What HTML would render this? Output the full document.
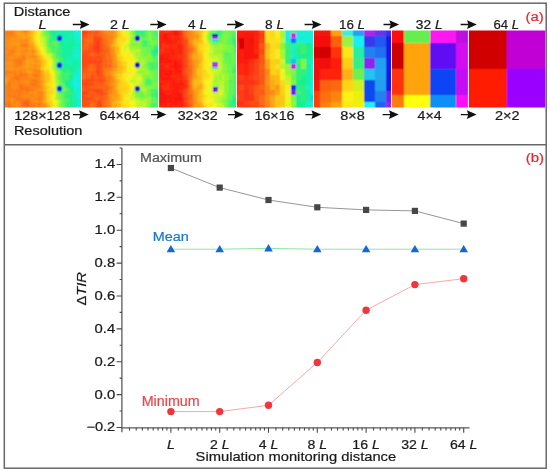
<!DOCTYPE html>
<html><head><meta charset="utf-8"><title>Figure</title>
<style>
html,body{margin:0;padding:0;background:#fff;width:550px;height:471px;overflow:hidden}
svg{display:block}
text{font-family:"Liberation Sans",sans-serif;stroke-width:0.22px}
</style></head>
<body>
<svg width="550" height="471" viewBox="0 0 550 471">
<rect width="550" height="471" fill="#fff"/>
<defs><filter id="bl" x="-5%" y="-5%" width="110%" height="110%"><feConvolveMatrix order="3" kernelMatrix="1 2 1 2 4 2 1 2 1" divisor="16" preserveAlpha="true"/></filter><clipPath id="c0"><rect x="4.9" y="30.6" width="76.1" height="76.8"/></clipPath><clipPath id="c1"><rect x="81.9" y="30.6" width="76.3" height="76.8"/></clipPath><clipPath id="c2"><rect x="159.1" y="30.6" width="76.9" height="76.8"/></clipPath><clipPath id="c3"><rect x="236.9" y="30.6" width="76.1" height="76.8"/></clipPath><clipPath id="c4"><rect x="313.9" y="30.6" width="77.1" height="76.8"/></clipPath><clipPath id="c5"><rect x="391.9" y="30.6" width="76" height="76.8"/></clipPath><clipPath id="c6"><rect x="468.9" y="30.6" width="76.4" height="76.8"/></clipPath></defs>
<g clip-path="url(#c0)"><g filter="url(#bl)"><g shape-rendering="crispEdges"><path fill="#fc9018" d="M2 27.8H3.5V29.3H2zM8 27.8H9.5V29.3H8zM26 27.8H27.5V29.3H26zM2 29.3H3.5V30.8H2zM3.5 29.3H5V30.8H3.5zM6.5 29.3H8V30.8H6.5zM8 29.3H9.5V30.8H8zM14 29.3H15.5V30.8H14zM5 30.8H6.5V32.3H5zM14 30.8H15.5V32.3H14zM21.5 30.8H23V32.3H21.5zM14 32.3H15.5V33.8H14zM23 32.3H24.5V33.8H23zM24.5 32.3H26V33.8H24.5zM26 32.3H27.5V33.8H26zM15.5 33.8H17V35.3H15.5zM14 35.3H15.5V36.8H14zM17 35.3H18.5V36.8H17zM11 36.8H12.5V38.3H11zM12.5 36.8H14V38.3H12.5zM14 36.8H15.5V38.3H14zM15.5 36.8H17V38.3H15.5zM3.5 38.3H5V39.8H3.5zM8 38.3H9.5V39.8H8zM9.5 38.3H11V39.8H9.5zM11 38.3H12.5V39.8H11zM14 38.3H15.5V39.8H14zM17 38.3H18.5V39.8H17zM18.5 38.3H20V39.8H18.5zM20 38.3H21.5V39.8H20zM24.5 38.3H26V39.8H24.5zM26 38.3H27.5V39.8H26zM5 39.8H6.5V41.3H5zM8 39.8H9.5V41.3H8zM9.5 39.8H11V41.3H9.5zM11 39.8H12.5V41.3H11zM14 39.8H15.5V41.3H14zM15.5 39.8H17V41.3H15.5zM18.5 39.8H20V41.3H18.5zM20 39.8H21.5V41.3H20zM21.5 39.8H23V41.3H21.5zM23 39.8H24.5V41.3H23zM5 41.3H6.5V42.8H5zM8 41.3H9.5V42.8H8zM9.5 41.3H11V42.8H9.5zM12.5 41.3H14V42.8H12.5zM18.5 41.3H20V42.8H18.5zM20 41.3H21.5V42.8H20zM23 41.3H24.5V42.8H23zM26 41.3H27.5V42.8H26zM8 42.8H9.5V44.3H8zM9.5 42.8H11V44.3H9.5zM20 42.8H21.5V44.3H20zM21.5 42.8H23V44.3H21.5zM23 42.8H24.5V44.3H23zM26 42.8H27.5V44.3H26zM5 44.3H6.5V45.8H5zM6.5 44.3H8V45.8H6.5zM8 44.3H9.5V45.8H8zM9.5 44.3H11V45.8H9.5zM12.5 44.3H14V45.8H12.5zM18.5 44.3H20V45.8H18.5zM27.5 44.3H29V45.8H27.5zM6.5 45.8H8V47.3H6.5zM8 45.8H9.5V47.3H8zM9.5 45.8H11V47.3H9.5zM11 45.8H12.5V47.3H11zM27.5 45.8H29V47.3H27.5zM6.5 47.3H8V48.8H6.5zM8 47.3H9.5V48.8H8zM11 47.3H12.5V48.8H11zM15.5 47.3H17V48.8H15.5zM20 47.3H21.5V48.8H20zM23 47.3H24.5V48.8H23zM24.5 47.3H26V48.8H24.5zM26 47.3H27.5V48.8H26zM20 48.8H21.5V50.3H20zM23 48.8H24.5V50.3H23zM24.5 48.8H26V50.3H24.5zM3.5 50.3H5V51.8H3.5zM5 50.3H6.5V51.8H5zM15.5 50.3H17V51.8H15.5zM20 50.3H21.5V51.8H20zM30.5 50.3H32V51.8H30.5zM3.5 51.8H5V53.3H3.5zM5 51.8H6.5V53.3H5zM18.5 51.8H20V53.3H18.5zM23 51.8H24.5V53.3H23zM24.5 51.8H26V53.3H24.5zM26 51.8H27.5V53.3H26zM30.5 51.8H32V53.3H30.5zM32 51.8H33.5V53.3H32zM23 53.3H24.5V54.8H23zM24.5 53.3H26V54.8H24.5zM30.5 53.3H32V54.8H30.5zM32 53.3H33.5V54.8H32zM2 54.8H3.5V56.3H2zM3.5 54.8H5V56.3H3.5zM15.5 54.8H17V56.3H15.5zM17 54.8H18.5V56.3H17zM18.5 54.8H20V56.3H18.5zM26 54.8H27.5V56.3H26zM29 54.8H30.5V56.3H29zM33.5 54.8H35V56.3H33.5zM11 56.3H12.5V57.8H11zM12.5 56.3H14V57.8H12.5zM14 56.3H15.5V57.8H14zM17 56.3H18.5V57.8H17zM29 56.3H30.5V57.8H29zM30.5 56.3H32V57.8H30.5zM35 56.3H36.5V57.8H35zM8 57.8H9.5V59.3H8zM9.5 57.8H11V59.3H9.5zM11 57.8H12.5V59.3H11zM24.5 59.3H26V60.8H24.5zM33.5 59.3H35V60.8H33.5zM35 59.3H36.5V60.8H35zM8 60.8H9.5V62.3H8zM9.5 60.8H11V62.3H9.5zM33.5 60.8H35V62.3H33.5zM36.5 60.8H38V62.3H36.5zM3.5 62.3H5V63.8H3.5zM5 62.3H6.5V63.8H5zM6.5 62.3H8V63.8H6.5zM11 62.3H12.5V63.8H11zM3.5 63.8H5V65.3H3.5zM5 63.8H6.5V65.3H5zM12.5 63.8H14V65.3H12.5zM23 63.8H24.5V65.3H23zM24.5 63.8H26V65.3H24.5zM35 63.8H36.5V65.3H35zM5 65.3H6.5V66.8H5zM6.5 65.3H8V66.8H6.5zM11 65.3H12.5V66.8H11zM12.5 65.3H14V66.8H12.5zM21.5 65.3H23V66.8H21.5zM38 65.3H39.5V66.8H38zM6.5 66.8H8V68.3H6.5zM9.5 66.8H11V68.3H9.5zM12.5 66.8H14V68.3H12.5zM18.5 66.8H20V68.3H18.5zM20 66.8H21.5V68.3H20zM33.5 66.8H35V68.3H33.5zM3.5 68.3H5V69.8H3.5zM5 68.3H6.5V69.8H5zM8 68.3H9.5V69.8H8zM18.5 68.3H20V69.8H18.5zM27.5 68.3H29V69.8H27.5zM29 68.3H30.5V69.8H29zM32 68.3H33.5V69.8H32zM35 68.3H36.5V69.8H35zM11 69.8H12.5V71.3H11zM12.5 69.8H14V71.3H12.5zM15.5 69.8H17V71.3H15.5zM17 69.8H18.5V71.3H17zM21.5 69.8H23V71.3H21.5zM23 69.8H24.5V71.3H23zM24.5 69.8H26V71.3H24.5zM30.5 69.8H32V71.3H30.5zM21.5 71.3H23V72.8H21.5zM32 71.3H33.5V72.8H32zM39.5 71.3H41V72.8H39.5zM3.5 72.8H5V74.3H3.5zM32 72.8H33.5V74.3H32zM39.5 72.8H41V74.3H39.5zM3.5 74.3H5V75.8H3.5zM9.5 74.3H11V75.8H9.5zM11 74.3H12.5V75.8H11zM39.5 74.3H41V75.8H39.5zM3.5 75.8H5V77.3H3.5zM27.5 75.8H29V77.3H27.5zM29 75.8H30.5V77.3H29zM30.5 75.8H32V77.3H30.5zM39.5 75.8H41V77.3H39.5zM8 77.3H9.5V78.8H8zM33.5 77.3H35V78.8H33.5zM36.5 77.3H38V78.8H36.5zM6.5 78.8H8V80.3H6.5zM24.5 80.3H26V81.8H24.5zM26 80.3H27.5V81.8H26zM27.5 80.3H29V81.8H27.5zM39.5 80.3H41V81.8H39.5zM3.5 81.8H5V83.3H3.5zM26 81.8H27.5V83.3H26zM41 81.8H42.5V83.3H41zM15.5 83.3H17V84.8H15.5zM24.5 83.3H26V84.8H24.5zM39.5 83.3H41V84.8H39.5zM15.5 86.3H17V87.8H15.5zM41 86.3H42.5V87.8H41zM36.5 89.3H38V90.8H36.5zM38 89.3H39.5V90.8H38zM39.5 89.3H41V90.8H39.5zM24.5 90.8H26V92.3H24.5zM33.5 90.8H35V92.3H33.5zM35 90.8H36.5V92.3H35zM29 92.3H30.5V93.8H29zM35 92.3H36.5V93.8H35zM42.5 92.3H44V93.8H42.5zM24.5 93.8H26V95.3H24.5zM33.5 93.8H35V95.3H33.5zM42.5 93.8H44V95.3H42.5zM24.5 95.3H26V96.8H24.5zM33.5 95.3H35V96.8H33.5zM35 95.3H36.5V96.8H35zM42.5 95.3H44V96.8H42.5zM2 96.8H3.5V98.3H2zM3.5 96.8H5V98.3H3.5zM6.5 96.8H8V98.3H6.5zM27.5 96.8H29V98.3H27.5zM29 96.8H30.5V98.3H29zM32 96.8H33.5V98.3H32zM42.5 96.8H44V98.3H42.5zM11 98.3H12.5V99.8H11zM32 98.3H33.5V99.8H32zM32 99.8H33.5V101.3H32zM35 99.8H36.5V101.3H35zM41 99.8H42.5V101.3H41zM36.5 101.3H38V102.8H36.5zM15.5 102.8H17V104.3H15.5zM42.5 102.8H44V104.3H42.5zM15.5 104.3H17V105.8H15.5zM18.5 104.3H20V105.8H18.5zM44 104.3H45.5V105.8H44zM15.5 105.8H17V107.3H15.5zM41 105.8H42.5V107.3H41zM44 105.8H45.5V107.3H44zM5 108.8H6.5V110.3H5zM42.5 108.8H44V110.3H42.5z"/>
<path fill="#fc9618" d="M3.5 27.8H5V29.3H3.5zM6.5 27.8H8V29.3H6.5zM14 27.8H15.5V29.3H14zM5 29.3H6.5V30.8H5zM15.5 29.3H17V30.8H15.5zM20 29.3H21.5V30.8H20zM15.5 30.8H17V32.3H15.5zM15.5 32.3H17V33.8H15.5zM18.5 35.3H20V36.8H18.5zM12.5 38.3H14V39.8H12.5zM21.5 38.3H23V39.8H21.5zM3.5 39.8H5V41.3H3.5zM12.5 39.8H14V41.3H12.5zM27.5 39.8H29V41.3H27.5zM14 41.3H15.5V42.8H14zM17 41.3H18.5V42.8H17zM11 42.8H12.5V44.3H11zM12.5 42.8H14V44.3H12.5zM15.5 42.8H17V44.3H15.5zM18.5 42.8H20V44.3H18.5zM11 44.3H12.5V45.8H11zM14 44.3H15.5V45.8H14zM15.5 44.3H17V45.8H15.5zM29 44.3H30.5V45.8H29zM17 45.8H18.5V47.3H17zM18.5 45.8H20V47.3H18.5zM17 47.3H18.5V48.8H17zM18.5 47.3H20V48.8H18.5zM15.5 48.8H17V50.3H15.5zM17 48.8H18.5V50.3H17zM30.5 48.8H32V50.3H30.5zM32 48.8H33.5V50.3H32zM17 50.3H18.5V51.8H17zM27.5 50.3H29V51.8H27.5zM29 50.3H30.5V51.8H29zM33.5 50.3H35V51.8H33.5zM14 53.3H15.5V54.8H14zM20 53.3H21.5V54.8H20zM26 53.3H27.5V54.8H26zM27.5 54.8H29V56.3H27.5zM9.5 56.3H11V57.8H9.5zM15.5 56.3H17V57.8H15.5zM26 56.3H27.5V57.8H26zM27.5 56.3H29V57.8H27.5zM29 57.8H30.5V59.3H29zM29 59.3H30.5V60.8H29zM32 59.3H33.5V60.8H32zM38 60.8H39.5V62.3H38zM8 62.3H9.5V63.8H8zM9.5 62.3H11V63.8H9.5zM24.5 62.3H26V63.8H24.5zM29 62.3H30.5V63.8H29zM33.5 62.3H35V63.8H33.5zM35 62.3H36.5V63.8H35zM6.5 63.8H8V65.3H6.5zM8 63.8H9.5V65.3H8zM9.5 63.8H11V65.3H9.5zM29 63.8H30.5V65.3H29zM33.5 63.8H35V65.3H33.5zM9.5 65.3H11V66.8H9.5zM23 65.3H24.5V66.8H23zM29 65.3H30.5V66.8H29zM30.5 65.3H32V66.8H30.5zM32 65.3H33.5V66.8H32zM36.5 65.3H38V66.8H36.5zM24.5 66.8H26V68.3H24.5zM6.5 68.3H8V69.8H6.5zM9.5 68.3H11V69.8H9.5zM11 68.3H12.5V69.8H11zM12.5 68.3H14V69.8H12.5zM15.5 68.3H17V69.8H15.5zM17 68.3H18.5V69.8H17zM21.5 68.3H23V69.8H21.5zM26 68.3H27.5V69.8H26zM30.5 68.3H32V69.8H30.5zM36.5 68.3H38V69.8H36.5zM38 68.3H39.5V69.8H38zM26 69.8H27.5V71.3H26zM27.5 69.8H29V71.3H27.5zM29 69.8H30.5V71.3H29zM26 71.3H27.5V72.8H26zM30.5 71.3H32V72.8H30.5zM2 72.8H3.5V74.3H2zM29 72.8H30.5V74.3H29zM2 75.8H3.5V77.3H2zM6.5 77.3H8V78.8H6.5zM2 80.3H3.5V81.8H2zM6.5 80.3H8V81.8H6.5zM41 80.3H42.5V81.8H41zM2 81.8H3.5V83.3H2zM5 81.8H6.5V83.3H5zM24.5 81.8H26V83.3H24.5zM27.5 81.8H29V83.3H27.5zM2 83.3H3.5V84.8H2zM5 83.3H6.5V84.8H5zM14 86.3H15.5V87.8H14zM41 87.8H42.5V89.3H41zM33.5 92.3H35V93.8H33.5zM42.5 98.3H44V99.8H42.5zM11 99.8H12.5V101.3H11zM35 101.3H36.5V102.8H35zM41 101.3H42.5V102.8H41zM45.5 104.3H47V105.8H45.5zM44 108.8H45.5V110.3H44z"/>
<path fill="#fc9c18" d="M5 27.8H6.5V29.3H5zM15.5 27.8H17V29.3H15.5zM18.5 27.8H20V29.3H18.5zM20 27.8H21.5V29.3H20zM27.5 29.3H29V30.8H27.5zM20 30.8H21.5V32.3H20zM27.5 30.8H29V32.3H27.5zM20 32.3H21.5V33.8H20zM21.5 32.3H23V33.8H21.5zM23 33.8H24.5V35.3H23zM24.5 33.8H26V35.3H24.5zM26 33.8H27.5V35.3H26zM20 35.3H21.5V36.8H20zM23 35.3H24.5V36.8H23zM24.5 35.3H26V36.8H24.5zM26 35.3H27.5V36.8H26zM17 36.8H18.5V38.3H17zM18.5 36.8H20V38.3H18.5zM23 38.3H24.5V39.8H23zM27.5 38.3H29V39.8H27.5zM17 39.8H18.5V41.3H17zM11 41.3H12.5V42.8H11zM27.5 41.3H29V42.8H27.5zM14 42.8H15.5V44.3H14zM27.5 42.8H29V44.3H27.5zM17 44.3H18.5V45.8H17zM29 45.8H30.5V47.3H29zM32 45.8H33.5V47.3H32zM27.5 47.3H29V48.8H27.5zM30.5 47.3H32V48.8H30.5zM32 47.3H33.5V48.8H32zM18.5 48.8H20V50.3H18.5zM27.5 48.8H29V50.3H27.5zM29 48.8H30.5V50.3H29zM18.5 50.3H20V51.8H18.5zM27.5 51.8H29V53.3H27.5zM29 51.8H30.5V53.3H29zM33.5 51.8H35V53.3H33.5zM15.5 53.3H17V54.8H15.5zM17 53.3H18.5V54.8H17zM18.5 53.3H20V54.8H18.5zM29 53.3H30.5V54.8H29zM33.5 53.3H35V54.8H33.5zM35 54.8H36.5V56.3H35zM36.5 56.3H38V57.8H36.5zM26 57.8H27.5V59.3H26zM27.5 57.8H29V59.3H27.5zM30.5 57.8H32V59.3H30.5zM32 57.8H33.5V59.3H32zM33.5 57.8H35V59.3H33.5zM30.5 59.3H32V60.8H30.5zM36.5 59.3H38V60.8H36.5zM24.5 60.8H26V62.3H24.5zM29 60.8H30.5V62.3H29zM30.5 60.8H32V62.3H30.5zM32 60.8H33.5V62.3H32zM30.5 62.3H32V63.8H30.5zM26 63.8H27.5V65.3H26zM30.5 63.8H32V65.3H30.5zM32 63.8H33.5V65.3H32zM36.5 63.8H38V65.3H36.5zM38 63.8H39.5V65.3H38zM24.5 65.3H26V66.8H24.5zM21.5 66.8H23V68.3H21.5zM23 66.8H24.5V68.3H23zM29 66.8H30.5V68.3H29zM30.5 66.8H32V68.3H30.5zM32 66.8H33.5V68.3H32zM35 66.8H36.5V68.3H35zM36.5 66.8H38V68.3H36.5zM38 66.8H39.5V68.3H38zM39.5 69.8H41V71.3H39.5zM27.5 71.3H29V72.8H27.5zM27.5 72.8H29V74.3H27.5zM30.5 72.8H32V74.3H30.5zM2 74.3H3.5V75.8H2zM41 75.8H42.5V77.3H41zM5 77.3H6.5V78.8H5zM39.5 77.3H41V78.8H39.5zM2 78.8H3.5V80.3H2zM3.5 78.8H5V80.3H3.5zM5 78.8H6.5V80.3H5zM39.5 78.8H41V80.3H39.5zM3.5 80.3H5V81.8H3.5zM42.5 81.8H44V83.3H42.5zM41 89.3H42.5V90.8H41zM42.5 90.8H44V92.3H42.5zM42.5 99.8H44V101.3H42.5zM42.5 101.3H44V102.8H42.5zM45.5 105.8H47V107.3H45.5zM45.5 107.3H47V108.8H45.5z"/>
<path fill="#fc8a18" d="M9.5 27.8H11V29.3H9.5zM11 27.8H12.5V29.3H11zM21.5 27.8H23V29.3H21.5zM23 27.8H24.5V29.3H23zM24.5 27.8H26V29.3H24.5zM21.5 29.3H23V30.8H21.5zM2 30.8H3.5V32.3H2zM3.5 30.8H5V32.3H3.5zM23 30.8H24.5V32.3H23zM26 30.8H27.5V32.3H26zM2 32.3H3.5V33.8H2zM2 33.8H3.5V35.3H2zM3.5 33.8H5V35.3H3.5zM12.5 33.8H14V35.3H12.5zM14 33.8H15.5V35.3H14zM2 35.3H3.5V36.8H2zM3.5 35.3H5V36.8H3.5zM8 35.3H9.5V36.8H8zM9.5 35.3H11V36.8H9.5zM12.5 35.3H14V36.8H12.5zM15.5 35.3H17V36.8H15.5zM3.5 36.8H5V38.3H3.5zM9.5 36.8H11V38.3H9.5zM2 38.3H3.5V39.8H2zM5 38.3H6.5V39.8H5zM15.5 38.3H17V39.8H15.5zM2 39.8H3.5V41.3H2zM6.5 39.8H8V41.3H6.5zM26 39.8H27.5V41.3H26zM6.5 41.3H8V42.8H6.5zM15.5 41.3H17V42.8H15.5zM21.5 41.3H23V42.8H21.5zM20 44.3H21.5V45.8H20zM5 45.8H6.5V47.3H5zM15.5 45.8H17V47.3H15.5zM20 45.8H21.5V47.3H20zM9.5 47.3H11V48.8H9.5zM14 47.3H15.5V48.8H14zM3.5 48.8H5V50.3H3.5zM5 48.8H6.5V50.3H5zM6.5 48.8H8V50.3H6.5zM14 48.8H15.5V50.3H14zM21.5 48.8H23V50.3H21.5zM26 48.8H27.5V50.3H26zM14 50.3H15.5V51.8H14zM23 50.3H24.5V51.8H23zM24.5 50.3H26V51.8H24.5zM2 51.8H3.5V53.3H2zM6.5 51.8H8V53.3H6.5zM8 51.8H9.5V53.3H8zM9.5 51.8H11V53.3H9.5zM15.5 51.8H17V53.3H15.5zM17 51.8H18.5V53.3H17zM20 51.8H21.5V53.3H20zM3.5 53.3H5V54.8H3.5zM5 53.3H6.5V54.8H5zM21.5 53.3H23V54.8H21.5zM5 54.8H6.5V56.3H5zM9.5 54.8H11V56.3H9.5zM14 54.8H15.5V56.3H14zM20 54.8H21.5V56.3H20zM21.5 54.8H23V56.3H21.5zM24.5 54.8H26V56.3H24.5zM30.5 54.8H32V56.3H30.5zM5 56.3H6.5V57.8H5zM6.5 56.3H8V57.8H6.5zM8 56.3H9.5V57.8H8zM20 56.3H21.5V57.8H20zM3.5 57.8H5V59.3H3.5zM6.5 57.8H8V59.3H6.5zM8 59.3H9.5V60.8H8zM9.5 59.3H11V60.8H9.5zM11 59.3H12.5V60.8H11zM12.5 59.3H14V60.8H12.5zM3.5 60.8H5V62.3H3.5zM11 60.8H12.5V62.3H11zM23 60.8H24.5V62.3H23zM35 60.8H36.5V62.3H35zM2 62.3H3.5V63.8H2zM12.5 62.3H14V63.8H12.5zM23 62.3H24.5V63.8H23zM2 63.8H3.5V65.3H2zM11 63.8H12.5V65.3H11zM8 65.3H9.5V66.8H8zM15.5 65.3H17V66.8H15.5zM33.5 65.3H35V66.8H33.5zM35 65.3H36.5V66.8H35zM5 66.8H6.5V68.3H5zM8 66.8H9.5V68.3H8zM11 66.8H12.5V68.3H11zM15.5 66.8H17V68.3H15.5zM17 66.8H18.5V68.3H17zM2 68.3H3.5V69.8H2zM14 68.3H15.5V69.8H14zM20 68.3H21.5V69.8H20zM23 68.3H24.5V69.8H23zM24.5 68.3H26V69.8H24.5zM33.5 68.3H35V69.8H33.5zM9.5 69.8H11V71.3H9.5zM18.5 69.8H20V71.3H18.5zM20 69.8H21.5V71.3H20zM11 71.3H12.5V72.8H11zM15.5 71.3H17V72.8H15.5zM17 71.3H18.5V72.8H17zM23 71.3H24.5V72.8H23zM24.5 71.3H26V72.8H24.5zM35 71.3H36.5V72.8H35zM11 72.8H12.5V74.3H11zM21.5 72.8H23V74.3H21.5zM26 72.8H27.5V74.3H26zM6.5 74.3H8V75.8H6.5zM8 74.3H9.5V75.8H8zM12.5 74.3H14V75.8H12.5zM27.5 74.3H29V75.8H27.5zM29 74.3H30.5V75.8H29zM30.5 74.3H32V75.8H30.5zM5 75.8H6.5V77.3H5zM6.5 75.8H8V77.3H6.5zM32 75.8H33.5V77.3H32zM9.5 77.3H11V78.8H9.5zM27.5 77.3H29V78.8H27.5zM30.5 77.3H32V78.8H30.5zM32 77.3H33.5V78.8H32zM38 77.3H39.5V78.8H38zM8 78.8H9.5V80.3H8zM21.5 78.8H23V80.3H21.5zM27.5 78.8H29V80.3H27.5zM8 80.3H9.5V81.8H8zM14 80.3H15.5V81.8H14zM23 80.3H24.5V81.8H23zM6.5 81.8H8V83.3H6.5zM15.5 81.8H17V83.3H15.5zM21.5 81.8H23V83.3H21.5zM23 81.8H24.5V83.3H23zM29 81.8H30.5V83.3H29zM39.5 81.8H41V83.3H39.5zM3.5 83.3H5V84.8H3.5zM11 83.3H12.5V84.8H11zM14 83.3H15.5V84.8H14zM26 83.3H27.5V84.8H26zM27.5 83.3H29V84.8H27.5zM38 83.3H39.5V84.8H38zM2 84.8H3.5V86.3H2zM15.5 84.8H17V86.3H15.5zM27.5 84.8H29V86.3H27.5zM39.5 84.8H41V86.3H39.5zM2 86.3H3.5V87.8H2zM11 86.3H12.5V87.8H11zM12.5 86.3H14V87.8H12.5zM2 87.8H3.5V89.3H2zM33.5 87.8H35V89.3H33.5zM38 87.8H39.5V89.3H38zM33.5 89.3H35V90.8H33.5zM35 89.3H36.5V90.8H35zM29 90.8H30.5V92.3H29zM30.5 90.8H32V92.3H30.5zM36.5 90.8H38V92.3H36.5zM41 90.8H42.5V92.3H41zM24.5 92.3H26V93.8H24.5zM30.5 92.3H32V93.8H30.5zM32 92.3H33.5V93.8H32zM36.5 92.3H38V93.8H36.5zM29 93.8H30.5V95.3H29zM30.5 93.8H32V95.3H30.5zM35 93.8H36.5V95.3H35zM36.5 93.8H38V95.3H36.5zM3.5 95.3H5V96.8H3.5zM21.5 95.3H23V96.8H21.5zM23 95.3H24.5V96.8H23zM26 95.3H27.5V96.8H26zM27.5 95.3H29V96.8H27.5zM29 95.3H30.5V96.8H29zM36.5 95.3H38V96.8H36.5zM41 95.3H42.5V96.8H41zM5 96.8H6.5V98.3H5zM11 96.8H12.5V98.3H11zM26 96.8H27.5V98.3H26zM30.5 96.8H32V98.3H30.5zM33.5 96.8H35V98.3H33.5zM35 96.8H36.5V98.3H35zM2 98.3H3.5V99.8H2zM6.5 98.3H8V99.8H6.5zM35 98.3H36.5V99.8H35zM41 98.3H42.5V99.8H41zM9.5 99.8H11V101.3H9.5zM12.5 99.8H14V101.3H12.5zM11 101.3H12.5V102.8H11zM15.5 101.3H17V102.8H15.5zM18.5 101.3H20V102.8H18.5zM32 101.3H33.5V102.8H32zM38 101.3H39.5V102.8H38zM11 102.8H12.5V104.3H11zM12.5 102.8H14V104.3H12.5zM14 102.8H15.5V104.3H14zM18.5 102.8H20V104.3H18.5zM41 102.8H42.5V104.3H41zM12.5 104.3H14V105.8H12.5zM14 104.3H15.5V105.8H14zM17 104.3H18.5V105.8H17zM17 105.8H18.5V107.3H17zM18.5 105.8H20V107.3H18.5zM2 107.3H3.5V108.8H2zM18.5 107.3H20V108.8H18.5zM39.5 107.3H41V108.8H39.5zM42.5 107.3H44V108.8H42.5zM44 107.3H45.5V108.8H44zM2 108.8H3.5V110.3H2zM6.5 108.8H8V110.3H6.5zM39.5 108.8H41V110.3H39.5z"/>
<path fill="#fc8418" d="M12.5 27.8H14V29.3H12.5zM9.5 29.3H11V30.8H9.5zM11 29.3H12.5V30.8H11zM12.5 29.3H14V30.8H12.5zM23 29.3H24.5V30.8H23zM26 29.3H27.5V30.8H26zM6.5 30.8H8V32.3H6.5zM8 30.8H9.5V32.3H8zM11 30.8H12.5V32.3H11zM12.5 30.8H14V32.3H12.5zM24.5 30.8H26V32.3H24.5zM12.5 32.3H14V33.8H12.5zM5 33.8H6.5V35.3H5zM5 35.3H6.5V36.8H5zM11 35.3H12.5V36.8H11zM2 36.8H3.5V38.3H2zM5 36.8H6.5V38.3H5zM8 36.8H9.5V38.3H8zM6.5 38.3H8V39.8H6.5zM2 41.3H3.5V42.8H2zM3.5 41.3H5V42.8H3.5zM24.5 41.3H26V42.8H24.5zM5 42.8H6.5V44.3H5zM6.5 42.8H8V44.3H6.5zM24.5 42.8H26V44.3H24.5zM3.5 44.3H5V45.8H3.5zM3.5 45.8H5V47.3H3.5zM12.5 45.8H14V47.3H12.5zM14 45.8H15.5V47.3H14zM23 45.8H24.5V47.3H23zM26 45.8H27.5V47.3H26zM5 47.3H6.5V48.8H5zM12.5 47.3H14V48.8H12.5zM21.5 47.3H23V48.8H21.5zM2 48.8H3.5V50.3H2zM8 48.8H9.5V50.3H8zM9.5 48.8H11V50.3H9.5zM11 48.8H12.5V50.3H11zM2 50.3H3.5V51.8H2zM6.5 50.3H8V51.8H6.5zM8 50.3H9.5V51.8H8zM9.5 50.3H11V51.8H9.5zM21.5 50.3H23V51.8H21.5zM26 50.3H27.5V51.8H26zM32 50.3H33.5V51.8H32zM14 51.8H15.5V53.3H14zM21.5 51.8H23V53.3H21.5zM2 53.3H3.5V54.8H2zM6.5 53.3H8V54.8H6.5zM9.5 53.3H11V54.8H9.5zM11 53.3H12.5V54.8H11zM12.5 53.3H14V54.8H12.5zM6.5 54.8H8V56.3H6.5zM11 54.8H12.5V56.3H11zM12.5 54.8H14V56.3H12.5zM23 54.8H24.5V56.3H23zM32 54.8H33.5V56.3H32zM3.5 56.3H5V57.8H3.5zM18.5 56.3H20V57.8H18.5zM21.5 56.3H23V57.8H21.5zM24.5 56.3H26V57.8H24.5zM32 56.3H33.5V57.8H32zM33.5 56.3H35V57.8H33.5zM2 57.8H3.5V59.3H2zM5 57.8H6.5V59.3H5zM12.5 57.8H14V59.3H12.5zM14 57.8H15.5V59.3H14zM15.5 57.8H17V59.3H15.5zM17 57.8H18.5V59.3H17zM2 59.3H3.5V60.8H2zM3.5 59.3H5V60.8H3.5zM5 59.3H6.5V60.8H5zM6.5 59.3H8V60.8H6.5zM14 59.3H15.5V60.8H14zM21.5 59.3H23V60.8H21.5zM23 59.3H24.5V60.8H23zM2 60.8H3.5V62.3H2zM5 60.8H6.5V62.3H5zM6.5 60.8H8V62.3H6.5zM12.5 60.8H14V62.3H12.5zM14 62.3H15.5V63.8H14zM21.5 62.3H23V63.8H21.5zM14 63.8H15.5V65.3H14zM21.5 63.8H23V65.3H21.5zM2 65.3H3.5V66.8H2zM3.5 65.3H5V66.8H3.5zM14 65.3H15.5V66.8H14zM17 65.3H18.5V66.8H17zM18.5 65.3H20V66.8H18.5zM20 65.3H21.5V66.8H20zM2 66.8H3.5V68.3H2zM3.5 66.8H5V68.3H3.5zM14 66.8H15.5V68.3H14zM3.5 69.8H5V71.3H3.5zM6.5 69.8H8V71.3H6.5zM8 69.8H9.5V71.3H8zM14 69.8H15.5V71.3H14zM32 69.8H33.5V71.3H32zM2 71.3H3.5V72.8H2zM3.5 71.3H5V72.8H3.5zM9.5 71.3H11V72.8H9.5zM12.5 71.3H14V72.8H12.5zM33.5 71.3H35V72.8H33.5zM38 71.3H39.5V72.8H38zM8 72.8H9.5V74.3H8zM9.5 72.8H11V74.3H9.5zM12.5 72.8H14V74.3H12.5zM15.5 72.8H17V74.3H15.5zM17 72.8H18.5V74.3H17zM33.5 72.8H35V74.3H33.5zM35 72.8H36.5V74.3H35zM36.5 72.8H38V74.3H36.5zM38 72.8H39.5V74.3H38zM5 74.3H6.5V75.8H5zM15.5 74.3H17V75.8H15.5zM17 74.3H18.5V75.8H17zM18.5 74.3H20V75.8H18.5zM8 75.8H9.5V77.3H8zM9.5 75.8H11V77.3H9.5zM12.5 75.8H14V77.3H12.5zM26 75.8H27.5V77.3H26zM33.5 75.8H35V77.3H33.5zM38 75.8H39.5V77.3H38zM12.5 77.3H14V78.8H12.5zM18.5 77.3H20V78.8H18.5zM21.5 77.3H23V78.8H21.5zM23 77.3H24.5V78.8H23zM29 77.3H30.5V78.8H29zM35 77.3H36.5V78.8H35zM9.5 78.8H11V80.3H9.5zM20 78.8H21.5V80.3H20zM23 78.8H24.5V80.3H23zM24.5 78.8H26V80.3H24.5zM26 78.8H27.5V80.3H26zM29 78.8H30.5V80.3H29zM36.5 78.8H38V80.3H36.5zM38 78.8H39.5V80.3H38zM9.5 80.3H11V81.8H9.5zM11 80.3H12.5V81.8H11zM12.5 80.3H14V81.8H12.5zM15.5 80.3H17V81.8H15.5zM20 80.3H21.5V81.8H20zM21.5 80.3H23V81.8H21.5zM29 80.3H30.5V81.8H29zM38 80.3H39.5V81.8H38zM14 81.8H15.5V83.3H14zM20 81.8H21.5V83.3H20zM30.5 81.8H32V83.3H30.5zM6.5 83.3H8V84.8H6.5zM12.5 83.3H14V84.8H12.5zM17 83.3H18.5V84.8H17zM21.5 83.3H23V84.8H21.5zM23 83.3H24.5V84.8H23zM36.5 83.3H38V84.8H36.5zM5 84.8H6.5V86.3H5zM11 84.8H12.5V86.3H11zM12.5 84.8H14V86.3H12.5zM14 84.8H15.5V86.3H14zM24.5 84.8H26V86.3H24.5zM26 84.8H27.5V86.3H26zM29 84.8H30.5V86.3H29zM38 84.8H39.5V86.3H38zM3.5 86.3H5V87.8H3.5zM5 86.3H6.5V87.8H5zM17 86.3H18.5V87.8H17zM27.5 86.3H29V87.8H27.5zM33.5 86.3H35V87.8H33.5zM38 86.3H39.5V87.8H38zM5 87.8H6.5V89.3H5zM11 87.8H12.5V89.3H11zM12.5 87.8H14V89.3H12.5zM14 87.8H15.5V89.3H14zM15.5 87.8H17V89.3H15.5zM30.5 87.8H32V89.3H30.5zM32 87.8H33.5V89.3H32zM35 87.8H36.5V89.3H35zM36.5 87.8H38V89.3H36.5zM39.5 87.8H41V89.3H39.5zM5 89.3H6.5V90.8H5zM14 89.3H15.5V90.8H14zM3.5 90.8H5V92.3H3.5zM5 90.8H6.5V92.3H5zM23 90.8H24.5V92.3H23zM27.5 90.8H29V92.3H27.5zM32 90.8H33.5V92.3H32zM38 90.8H39.5V92.3H38zM39.5 90.8H41V92.3H39.5zM5 92.3H6.5V93.8H5zM6.5 92.3H8V93.8H6.5zM11 92.3H12.5V93.8H11zM15.5 92.3H17V93.8H15.5zM23 92.3H24.5V93.8H23zM27.5 92.3H29V93.8H27.5zM38 92.3H39.5V93.8H38zM39.5 92.3H41V93.8H39.5zM41 92.3H42.5V93.8H41zM5 93.8H6.5V95.3H5zM9.5 93.8H11V95.3H9.5zM11 93.8H12.5V95.3H11zM12.5 93.8H14V95.3H12.5zM15.5 93.8H17V95.3H15.5zM21.5 93.8H23V95.3H21.5zM23 93.8H24.5V95.3H23zM26 93.8H27.5V95.3H26zM27.5 93.8H29V95.3H27.5zM32 93.8H33.5V95.3H32zM38 93.8H39.5V95.3H38zM39.5 93.8H41V95.3H39.5zM41 93.8H42.5V95.3H41zM2 95.3H3.5V96.8H2zM5 95.3H6.5V96.8H5zM15.5 95.3H17V96.8H15.5zM20 95.3H21.5V96.8H20zM30.5 95.3H32V96.8H30.5zM32 95.3H33.5V96.8H32zM38 95.3H39.5V96.8H38zM39.5 95.3H41V96.8H39.5zM9.5 96.8H11V98.3H9.5zM23 96.8H24.5V98.3H23zM24.5 96.8H26V98.3H24.5zM36.5 96.8H38V98.3H36.5zM41 96.8H42.5V98.3H41zM3.5 98.3H5V99.8H3.5zM5 98.3H6.5V99.8H5zM8 98.3H9.5V99.8H8zM9.5 98.3H11V99.8H9.5zM12.5 98.3H14V99.8H12.5zM29 98.3H30.5V99.8H29zM30.5 98.3H32V99.8H30.5zM33.5 98.3H35V99.8H33.5zM36.5 98.3H38V99.8H36.5zM2 99.8H3.5V101.3H2zM3.5 99.8H5V101.3H3.5zM5 99.8H6.5V101.3H5zM6.5 99.8H8V101.3H6.5zM8 99.8H9.5V101.3H8zM14 99.8H15.5V101.3H14zM15.5 99.8H17V101.3H15.5zM30.5 99.8H32V101.3H30.5zM33.5 99.8H35V101.3H33.5zM36.5 99.8H38V101.3H36.5zM6.5 101.3H8V102.8H6.5zM9.5 101.3H11V102.8H9.5zM12.5 101.3H14V102.8H12.5zM14 101.3H15.5V102.8H14zM17 101.3H18.5V102.8H17zM30.5 101.3H32V102.8H30.5zM33.5 101.3H35V102.8H33.5zM39.5 101.3H41V102.8H39.5zM6.5 102.8H8V104.3H6.5zM9.5 102.8H11V104.3H9.5zM17 102.8H18.5V104.3H17zM35 102.8H36.5V104.3H35zM11 104.3H12.5V105.8H11zM35 104.3H36.5V105.8H35zM41 104.3H42.5V105.8H41zM42.5 104.3H44V105.8H42.5zM12.5 105.8H14V107.3H12.5zM14 105.8H15.5V107.3H14zM35 105.8H36.5V107.3H35zM36.5 105.8H38V107.3H36.5zM39.5 105.8H41V107.3H39.5zM42.5 105.8H44V107.3H42.5zM3.5 107.3H5V108.8H3.5zM5 107.3H6.5V108.8H5zM15.5 107.3H17V108.8H15.5zM17 107.3H18.5V108.8H17zM20 107.3H21.5V108.8H20zM36.5 107.3H38V108.8H36.5zM38 107.3H39.5V108.8H38zM41 107.3H42.5V108.8H41zM3.5 108.8H5V110.3H3.5zM18.5 108.8H20V110.3H18.5zM23 108.8H24.5V110.3H23zM36.5 108.8H38V110.3H36.5zM38 108.8H39.5V110.3H38zM41 108.8H42.5V110.3H41z"/>
<path fill="#fca218" d="M17 27.8H18.5V29.3H17zM17 29.3H18.5V30.8H17zM18.5 29.3H20V30.8H18.5zM17 30.8H18.5V32.3H17zM18.5 30.8H20V32.3H18.5zM29 30.8H30.5V32.3H29zM17 32.3H18.5V33.8H17zM18.5 32.3H20V33.8H18.5zM27.5 32.3H29V33.8H27.5zM17 33.8H18.5V35.3H17zM20 33.8H21.5V35.3H20zM21.5 35.3H23V36.8H21.5zM27.5 35.3H29V36.8H27.5zM20 36.8H21.5V38.3H20zM26 36.8H27.5V38.3H26zM27.5 36.8H29V38.3H27.5zM29 39.8H30.5V41.3H29zM17 42.8H18.5V44.3H17zM30.5 44.3H32V45.8H30.5zM30.5 45.8H32V47.3H30.5zM29 47.3H30.5V48.8H29zM33.5 47.3H35V48.8H33.5zM35 50.3H36.5V51.8H35zM27.5 53.3H29V54.8H27.5zM35 57.8H36.5V59.3H35zM26 59.3H27.5V60.8H26zM27.5 59.3H29V60.8H27.5zM38 59.3H39.5V60.8H38zM39.5 60.8H41V62.3H39.5zM26 62.3H27.5V63.8H26zM27.5 62.3H29V63.8H27.5zM32 62.3H33.5V63.8H32zM36.5 62.3H38V63.8H36.5zM38 62.3H39.5V63.8H38zM27.5 63.8H29V65.3H27.5zM26 65.3H27.5V66.8H26zM27.5 65.3H29V66.8H27.5zM39.5 65.3H41V66.8H39.5zM26 66.8H27.5V68.3H26zM27.5 66.8H29V68.3H27.5zM29 71.3H30.5V72.8H29zM41 71.3H42.5V72.8H41zM41 74.3H42.5V75.8H41zM3.5 77.3H5V78.8H3.5zM41 77.3H42.5V78.8H41zM5 80.3H6.5V81.8H5zM42.5 80.3H44V81.8H42.5zM41 84.8H42.5V86.3H41zM42.5 86.3H44V87.8H42.5zM42.5 87.8H44V89.3H42.5zM44 102.8H45.5V104.3H44z"/>
<path fill="#fca818" d="M27.5 27.8H29V29.3H27.5zM29 29.3H30.5V30.8H29zM29 32.3H30.5V33.8H29zM18.5 33.8H20V35.3H18.5zM21.5 33.8H23V35.3H21.5zM27.5 33.8H29V35.3H27.5zM21.5 36.8H23V38.3H21.5zM23 36.8H24.5V38.3H23zM24.5 36.8H26V38.3H24.5zM29 36.8H30.5V38.3H29zM29 38.3H30.5V39.8H29zM29 41.3H30.5V42.8H29zM30.5 41.3H32V42.8H30.5zM29 42.8H30.5V44.3H29zM30.5 42.8H32V44.3H30.5zM32 44.3H33.5V45.8H32zM33.5 48.8H35V50.3H33.5zM35 51.8H36.5V53.3H35zM35 53.3H36.5V54.8H35zM36.5 54.8H38V56.3H36.5zM38 56.3H39.5V57.8H38zM36.5 57.8H38V59.3H36.5zM26 60.8H27.5V62.3H26zM27.5 60.8H29V62.3H27.5zM39.5 62.3H41V63.8H39.5zM42.5 71.3H44V72.8H42.5zM41 72.8H42.5V74.3H41zM42.5 75.8H44V77.3H42.5zM2 77.3H3.5V78.8H2zM42.5 77.3H44V78.8H42.5zM41 78.8H42.5V80.3H41zM41 83.3H42.5V84.8H41zM42.5 89.3H44V90.8H42.5zM44 92.3H45.5V93.8H44zM44 93.8H45.5V95.3H44zM44 95.3H45.5V96.8H44zM44 96.8H45.5V98.3H44zM44 98.3H45.5V99.8H44zM44 101.3H45.5V102.8H44zM45.5 102.8H47V104.3H45.5zM47 105.8H48.5V107.3H47zM47 107.3H48.5V108.8H47zM45.5 108.8H47V110.3H45.5z"/>
<path fill="#fcb418" d="M29 27.8H30.5V29.3H29zM30.5 36.8H32V38.3H30.5zM30.5 38.3H32V39.8H30.5zM36.5 50.3H38V51.8H36.5zM36.5 51.8H38V53.3H36.5zM36.5 53.3H38V54.8H36.5zM38 54.8H39.5V56.3H38zM38 57.8H39.5V59.3H38zM41 60.8H42.5V62.3H41zM41 65.3H42.5V66.8H41zM41 69.8H42.5V71.3H41zM44 75.8H45.5V77.3H44zM44 77.3H45.5V78.8H44zM44 80.3H45.5V81.8H44zM42.5 83.3H44V84.8H42.5zM42.5 84.8H44V86.3H42.5zM44 86.3H45.5V87.8H44zM44 89.3H45.5V90.8H44zM47 104.3H48.5V105.8H47zM47 108.8H48.5V110.3H47z"/>
<path fill="#fcc018" d="M30.5 27.8H32V29.3H30.5zM30.5 29.3H32V30.8H30.5zM32 32.3H33.5V33.8H32zM30.5 35.3H32V36.8H30.5zM32 36.8H33.5V38.3H32zM32 38.3H33.5V39.8H32zM33.5 44.3H35V45.8H33.5zM35 45.8H36.5V47.3H35zM41 59.3H42.5V60.8H41zM41 63.8H42.5V65.3H41zM44 74.3H45.5V75.8H44zM45.5 75.8H47V77.3H45.5zM47 75.8H48.5V77.3H47zM47 77.3H48.5V78.8H47zM45.5 80.3H47V81.8H45.5zM44 83.3H45.5V84.8H44zM44 84.8H45.5V86.3H44zM45.5 86.3H47V87.8H45.5zM45.5 87.8H47V89.3H45.5zM45.5 89.3H47V90.8H45.5zM45.5 90.8H47V92.3H45.5zM45.5 92.3H47V93.8H45.5zM45.5 96.8H47V98.3H45.5zM47 102.8H48.5V104.3H47zM48.5 104.3H50V105.8H48.5zM48.5 107.3H50V108.8H48.5z"/>
<path fill="#fccc18" d="M32 27.8H33.5V29.3H32zM32 35.3H33.5V36.8H32zM33.5 42.8H35V44.3H33.5zM35 44.3H36.5V45.8H35zM36.5 47.3H38V48.8H36.5zM36.5 48.8H38V50.3H36.5zM38 50.3H39.5V51.8H38zM38 51.8H39.5V53.3H38zM39.5 54.8H41V56.3H39.5zM41 56.3H42.5V57.8H41zM41 57.8H42.5V59.3H41zM42.5 59.3H44V60.8H42.5zM44 60.8H45.5V62.3H44zM44 62.3H45.5V63.8H44zM42.5 63.8H44V65.3H42.5zM41 66.8H42.5V68.3H41zM42.5 66.8H44V68.3H42.5zM42.5 68.3H44V69.8H42.5zM45.5 71.3H47V72.8H45.5zM47 71.3H48.5V72.8H47zM45.5 72.8H47V74.3H45.5zM47 72.8H48.5V74.3H47zM48.5 74.3H50V75.8H48.5zM48.5 75.8H50V77.3H48.5zM45.5 78.8H47V80.3H45.5zM47 86.3H48.5V87.8H47zM47 87.8H48.5V89.3H47zM48.5 92.3H50V93.8H48.5zM48.5 101.3H50V102.8H48.5zM48.5 102.8H50V104.3H48.5z"/>
<path fill="#fcd81e" d="M33.5 27.8H35V29.3H33.5zM33.5 29.3H35V30.8H33.5zM33.5 30.8H35V32.3H33.5zM33.5 32.3H35V33.8H33.5zM33.5 33.8H35V35.3H33.5zM33.5 36.8H35V38.3H33.5zM33.5 39.8H35V41.3H33.5zM36.5 45.8H38V47.3H36.5zM38 48.8H39.5V50.3H38zM39.5 51.8H41V53.3H39.5zM39.5 53.3H41V54.8H39.5zM41 54.8H42.5V56.3H41zM42.5 56.3H44V57.8H42.5zM42.5 57.8H44V59.3H42.5zM45.5 59.3H47V60.8H45.5zM45.5 60.8H47V62.3H45.5zM45.5 62.3H47V63.8H45.5zM44 63.8H45.5V65.3H44zM45.5 69.8H47V71.3H45.5zM47 69.8H48.5V71.3H47zM48.5 72.8H50V74.3H48.5zM48.5 81.8H50V83.3H48.5zM47 83.3H48.5V84.8H47zM48.5 83.3H50V84.8H48.5zM48.5 86.3H50V87.8H48.5zM48.5 87.8H50V89.3H48.5zM48.5 89.3H50V90.8H48.5zM50 89.3H51.5V90.8H50zM51.5 89.3H53V90.8H51.5zM48.5 90.8H50V92.3H48.5zM50 90.8H51.5V92.3H50zM51.5 90.8H53V92.3H51.5zM51.5 92.3H53V93.8H51.5zM47 93.8H48.5V95.3H47zM48.5 93.8H50V95.3H48.5zM47 96.8H48.5V98.3H47zM48.5 96.8H50V98.3H48.5zM47 99.8H48.5V101.3H47zM48.5 99.8H50V101.3H48.5zM50 102.8H51.5V104.3H50zM51.5 105.8H53V107.3H51.5zM50 107.3H51.5V108.8H50z"/>
<path fill="#fce41e" d="M35 27.8H36.5V29.3H35zM35 33.8H36.5V35.3H35zM35 35.3H36.5V36.8H35zM35 36.8H36.5V38.3H35zM35 38.3H36.5V39.8H35zM35 39.8H36.5V41.3H35zM36.5 44.3H38V45.8H36.5zM38 45.8H39.5V47.3H38zM39.5 48.8H41V50.3H39.5zM41 53.3H42.5V54.8H41zM44 56.3H45.5V57.8H44zM48.5 60.8H50V62.3H48.5zM47 63.8H48.5V65.3H47zM47 65.3H48.5V66.8H47zM45.5 66.8H47V68.3H45.5zM45.5 68.3H47V69.8H45.5zM47 68.3H48.5V69.8H47zM50 74.3H51.5V75.8H50zM50 77.3H51.5V78.8H50zM51.5 77.3H53V78.8H51.5zM51.5 80.3H53V81.8H51.5zM50 83.3H51.5V84.8H50zM51.5 83.3H53V84.8H51.5zM48.5 84.8H50V86.3H48.5zM50 84.8H51.5V86.3H50zM51.5 86.3H53V87.8H51.5zM51.5 87.8H53V89.3H51.5zM53 90.8H54.5V92.3H53zM53 92.3H54.5V93.8H53zM50 93.8H51.5V95.3H50zM51.5 93.8H53V95.3H51.5zM50 95.3H51.5V96.8H50zM50 96.8H51.5V98.3H50zM50 98.3H51.5V99.8H50zM50 99.8H51.5V101.3H50zM51.5 99.8H53V101.3H51.5zM53 105.8H54.5V107.3H53zM51.5 107.3H53V108.8H51.5z"/>
<path fill="#f6f61e" d="M36.5 27.8H38V29.3H36.5zM36.5 36.8H38V38.3H36.5zM38 42.8H39.5V44.3H38zM54.5 89.3H56V90.8H54.5z"/>
<path fill="#e4f624" d="M38 27.8H39.5V29.3H38zM41 42.8H42.5V44.3H41zM41 45.8H42.5V47.3H41zM42.5 47.3H44V48.8H42.5zM44 48.8H45.5V50.3H44zM48.5 54.8H50V56.3H48.5zM48.5 56.3H50V57.8H48.5zM50 68.3H51.5V69.8H50zM53 77.3H54.5V78.8H53zM53 81.8H54.5V83.3H53zM53 96.8H54.5V98.3H53z"/>
<path fill="#c6f62a" d="M39.5 27.8H41V29.3H39.5zM39.5 35.3H41V36.8H39.5zM41 36.8H42.5V38.3H41zM42.5 38.3H44V39.8H42.5zM42.5 39.8H44V41.3H42.5zM42.5 41.3H44V42.8H42.5zM44 47.3H45.5V48.8H44zM50 56.3H51.5V57.8H50zM51.5 59.3H53V60.8H51.5zM51.5 63.8H53V65.3H51.5zM56 83.3H57.5V84.8H56zM57.5 101.3H59V102.8H57.5z"/>
<path fill="#9cf636" d="M41 27.8H42.5V29.3H41zM57.5 87.8H59V89.3H57.5zM57.5 90.8H59V92.3H57.5zM56 92.3H57.5V93.8H56z"/>
<path fill="#90f636" d="M42.5 27.8H44V29.3H42.5zM45.5 36.8H47V38.3H45.5zM45.5 39.8H47V41.3H45.5zM45.5 44.3H47V45.8H45.5zM45.5 45.8H47V47.3H45.5zM51.5 56.3H53V57.8H51.5zM53 59.3H54.5V60.8H53zM54.5 59.3H56V60.8H54.5zM54.5 62.3H56V63.8H54.5zM54.5 69.8H56V71.3H54.5zM57.5 71.3H59V72.8H57.5zM56 72.8H57.5V74.3H56zM56 75.8H57.5V77.3H56zM56 78.8H57.5V80.3H56zM57.5 98.3H59V99.8H57.5zM59 99.8H60.5V101.3H59z"/>
<path fill="#60f654" d="M44 27.8H45.5V29.3H44zM47 32.3H48.5V33.8H47zM51.5 42.8H53V44.3H51.5zM47 45.8H48.5V47.3H47zM54.5 45.8H56V47.3H54.5zM56 66.8H57.5V68.3H56zM57.5 69.8H59V71.3H57.5zM59 74.3H60.5V75.8H59zM60.5 80.3H62V81.8H60.5zM59 81.8H60.5V83.3H59zM65 87.8H66.5V89.3H65zM60.5 90.8H62V92.3H60.5zM62 93.8H63.5V95.3H62zM59 96.8H60.5V98.3H59zM62 98.3H63.5V99.8H62zM62 101.3H63.5V102.8H62z"/>
<path fill="#42f06c" d="M45.5 27.8H47V29.3H45.5zM51.5 39.8H53V41.3H51.5zM56 39.8H57.5V41.3H56zM50 41.3H51.5V42.8H50zM56 47.3H57.5V48.8H56zM56 53.3H57.5V54.8H56zM56 54.8H57.5V56.3H56zM60.5 60.8H62V62.3H60.5zM63.5 72.8H65V74.3H63.5zM60.5 75.8H62V77.3H60.5zM65 75.8H66.5V77.3H65zM66.5 77.3H68V78.8H66.5zM63.5 78.8H65V80.3H63.5zM62 80.3H63.5V81.8H62zM68 87.8H69.5V89.3H68zM66.5 90.8H68V92.3H66.5zM63.5 96.8H65V98.3H63.5zM63.5 102.8H65V104.3H63.5zM68 108.8H69.5V110.3H68z"/>
<path fill="#3cf072" d="M47 27.8H48.5V29.3H47zM48.5 30.8H50V32.3H48.5zM50 36.8H51.5V38.3H50zM53 39.8H54.5V41.3H53zM57.5 39.8H59V41.3H57.5zM59 45.8H60.5V47.3H59zM53 47.3H54.5V48.8H53zM59 50.3H60.5V51.8H59zM57.5 54.8H59V56.3H57.5zM59 56.3H60.5V57.8H59zM59 57.8H60.5V59.3H59zM60.5 57.8H62V59.3H60.5zM62 57.8H63.5V59.3H62zM60.5 62.3H62V63.8H60.5zM62 62.3H63.5V63.8H62zM66.5 71.3H68V72.8H66.5zM62 74.3H63.5V75.8H62zM63.5 74.3H65V75.8H63.5zM66.5 75.8H68V77.3H66.5zM62 77.3H63.5V78.8H62zM65 77.3H66.5V78.8H65zM62 78.8H63.5V80.3H62zM65 78.8H66.5V80.3H65zM66.5 78.8H68V80.3H66.5zM63.5 83.3H65V84.8H63.5zM65 86.3H66.5V87.8H65zM68 89.3H69.5V90.8H68zM68 90.8H69.5V92.3H68zM65 92.3H66.5V93.8H65zM68 92.3H69.5V93.8H68zM68 93.8H69.5V95.3H68zM66.5 98.3H68V99.8H66.5zM65 105.8H66.5V107.3H65zM65 107.3H66.5V108.8H65zM66.5 107.3H68V108.8H66.5zM71 108.8H72.5V110.3H71z"/>
<path fill="#24f084" d="M48.5 27.8H50V29.3H48.5zM51.5 27.8H53V29.3H51.5zM51.5 29.3H53V30.8H51.5zM51.5 30.8H53V32.3H51.5zM50 32.3H51.5V33.8H50zM51.5 33.8H53V35.3H51.5zM51.5 35.3H53V36.8H51.5zM53 36.8H54.5V38.3H53zM59 41.3H60.5V42.8H59zM60.5 47.3H62V48.8H60.5zM57.5 51.8H59V53.3H57.5zM60.5 51.8H62V53.3H60.5zM63.5 57.8H65V59.3H63.5zM59 63.8H60.5V65.3H59zM62 63.8H63.5V65.3H62zM62 66.8H63.5V68.3H62zM63.5 66.8H65V68.3H63.5zM60.5 68.3H62V69.8H60.5zM62 68.3H63.5V69.8H62zM65 68.3H66.5V69.8H65zM62 69.8H63.5V71.3H62zM71 71.3H72.5V72.8H71zM71 74.3H72.5V75.8H71zM68 75.8H69.5V77.3H68zM69.5 77.3H71V78.8H69.5zM68 78.8H69.5V80.3H68zM69.5 78.8H71V80.3H69.5zM65 80.3H66.5V81.8H65zM66.5 80.3H68V81.8H66.5zM69.5 92.3H71V93.8H69.5zM69.5 93.8H71V95.3H69.5zM71 93.8H72.5V95.3H71zM66.5 95.3H68V96.8H66.5zM69.5 95.3H71V96.8H69.5zM71 95.3H72.5V96.8H71zM69.5 96.8H71V98.3H69.5zM71 96.8H72.5V98.3H71zM71 98.3H72.5V99.8H71zM71 101.3H72.5V102.8H71zM68 102.8H69.5V104.3H68zM68 104.3H69.5V105.8H68zM69.5 104.3H71V105.8H69.5zM71 104.3H72.5V105.8H71z"/>
<path fill="#18f090" d="M50 27.8H51.5V29.3H50zM53 30.8H54.5V32.3H53zM57.5 36.8H59V38.3H57.5zM59 39.8H60.5V41.3H59zM71 39.8H72.5V41.3H71zM60.5 41.3H62V42.8H60.5zM60.5 44.3H62V45.8H60.5zM69.5 47.3H71V48.8H69.5zM68 53.3H69.5V54.8H68zM69.5 53.3H71V54.8H69.5zM62 54.8H63.5V56.3H62zM63.5 59.3H65V60.8H63.5zM63.5 60.8H65V62.3H63.5zM63.5 62.3H65V63.8H63.5zM74 62.3H75.5V63.8H74zM77 62.3H78.5V63.8H77zM63.5 65.3H65V66.8H63.5zM66.5 66.8H68V68.3H66.5zM68 66.8H69.5V68.3H68zM71 68.3H72.5V69.8H71zM71 75.8H72.5V77.3H71zM69.5 89.3H71V90.8H69.5zM71 89.3H72.5V90.8H71zM69.5 90.8H71V92.3H69.5zM71 99.8H72.5V101.3H71zM72.5 107.3H74V108.8H72.5z"/>
<path fill="#18f08a" d="M53 27.8H54.5V29.3H53zM53 29.3H54.5V30.8H53zM50 30.8H51.5V32.3H50zM60.5 42.8H62V44.3H60.5zM71 44.3H72.5V45.8H71zM60.5 63.8H62V65.3H60.5zM60.5 65.3H62V66.8H60.5zM66.5 81.8H68V83.3H66.5zM65 83.3H66.5V84.8H65zM69.5 102.8H71V104.3H69.5z"/>
<path fill="#18f0a2" d="M54.5 27.8H56V29.3H54.5zM68 29.3H69.5V30.8H68zM56 30.8H57.5V32.3H56zM62 30.8H63.5V32.3H62zM66.5 30.8H68V32.3H66.5zM71 30.8H72.5V32.3H71zM54.5 32.3H56V33.8H54.5zM60.5 35.3H62V36.8H60.5zM63.5 36.8H65V38.3H63.5zM59 38.3H60.5V39.8H59zM62 38.3H63.5V39.8H62zM63.5 39.8H65V41.3H63.5zM72.5 39.8H74V41.3H72.5zM62 41.3H63.5V42.8H62zM72.5 41.3H74V42.8H72.5zM66.5 42.8H68V44.3H66.5zM65 44.3H66.5V45.8H65zM71 45.8H72.5V47.3H71zM62 47.3H63.5V48.8H62zM63.5 47.3H65V48.8H63.5zM63.5 48.8H65V50.3H63.5zM66.5 48.8H68V50.3H66.5zM71 48.8H72.5V50.3H71zM62 50.3H63.5V51.8H62zM63.5 50.3H65V51.8H63.5zM65 50.3H66.5V51.8H65zM65 51.8H66.5V53.3H65zM68 51.8H69.5V53.3H68zM62 53.3H63.5V54.8H62zM65 53.3H66.5V54.8H65zM71 53.3H72.5V54.8H71zM66.5 54.8H68V56.3H66.5zM72.5 62.3H74V63.8H72.5zM74 63.8H75.5V65.3H74zM65 65.3H66.5V66.8H65zM66.5 65.3H68V66.8H66.5zM69.5 65.3H71V66.8H69.5zM71 65.3H72.5V66.8H71zM72.5 65.3H74V66.8H72.5zM71 66.8H72.5V68.3H71zM72.5 68.3H74V69.8H72.5zM68 83.3H69.5V84.8H68zM71 86.3H72.5V87.8H71zM74 104.3H75.5V105.8H74z"/>
<path fill="#18f09c" d="M56 27.8H57.5V29.3H56zM71 27.8H72.5V29.3H71zM66.5 29.3H68V30.8H66.5zM56 32.3H57.5V33.8H56zM54.5 33.8H56V35.3H54.5zM56 33.8H57.5V35.3H56zM60.5 33.8H62V35.3H60.5zM63.5 33.8H65V35.3H63.5zM65 33.8H66.5V35.3H65zM54.5 35.3H56V36.8H54.5zM56 35.3H57.5V36.8H56zM62 35.3H63.5V36.8H62zM63.5 35.3H65V36.8H63.5zM60.5 38.3H62V39.8H60.5zM66.5 38.3H68V39.8H66.5zM71 38.3H72.5V39.8H71zM62 39.8H63.5V41.3H62zM66.5 39.8H68V41.3H66.5zM69.5 41.3H71V42.8H69.5zM62 42.8H63.5V44.3H62zM68 44.3H69.5V45.8H68zM63.5 45.8H65V47.3H63.5zM65 45.8H66.5V47.3H65zM68 45.8H69.5V47.3H68zM69.5 45.8H71V47.3H69.5zM65 47.3H66.5V48.8H65zM71 47.3H72.5V48.8H71zM62 48.8H63.5V50.3H62zM65 48.8H66.5V50.3H65zM69.5 50.3H71V51.8H69.5zM62 51.8H63.5V53.3H62zM63.5 51.8H65V53.3H63.5zM69.5 51.8H71V53.3H69.5zM63.5 53.3H65V54.8H63.5zM65 54.8H66.5V56.3H65zM68 54.8H69.5V56.3H68zM83 65.3H84.5V66.8H83zM69.5 66.8H71V68.3H69.5zM71 78.8H72.5V80.3H71zM68 80.3H69.5V81.8H68zM69.5 81.8H71V83.3H69.5zM69.5 86.3H71V87.8H69.5zM72.5 105.8H74V107.3H72.5z"/>
<path fill="#18f0ae" d="M57.5 27.8H59V29.3H57.5zM62 27.8H63.5V29.3H62zM66.5 27.8H68V29.3H66.5zM68 27.8H69.5V29.3H68zM65 29.3H66.5V30.8H65zM54.5 30.8H56V32.3H54.5zM57.5 30.8H59V32.3H57.5zM60.5 30.8H62V32.3H60.5zM68 30.8H69.5V32.3H68zM69.5 30.8H71V32.3H69.5zM62 32.3H63.5V33.8H62zM68 32.3H69.5V33.8H68zM59 33.8H60.5V35.3H59zM65 35.3H66.5V36.8H65zM71 35.3H72.5V36.8H71zM71 36.8H72.5V38.3H71zM68 38.3H69.5V39.8H68zM65 39.8H66.5V41.3H65zM77 39.8H78.5V41.3H77zM63.5 41.3H65V42.8H63.5zM66.5 41.3H68V42.8H66.5zM75.5 44.3H77V45.8H75.5zM77 44.3H78.5V45.8H77zM74 47.3H75.5V48.8H74zM71 50.3H72.5V51.8H71zM65 56.3H66.5V57.8H65zM68 56.3H69.5V57.8H68zM66.5 57.8H68V59.3H66.5zM68 57.8H69.5V59.3H68zM65 59.3H66.5V60.8H65zM66.5 59.3H68V60.8H66.5zM69.5 59.3H71V60.8H69.5zM75.5 60.8H77V62.3H75.5zM78.5 62.3H80V63.8H78.5zM72.5 63.8H74V65.3H72.5zM83 63.8H84.5V65.3H83zM75.5 65.3H77V66.8H75.5zM74 66.8H75.5V68.3H74zM77 66.8H78.5V68.3H77zM78.5 66.8H80V68.3H78.5zM74 68.3H75.5V69.8H74zM72.5 71.3H74V72.8H72.5zM72.5 90.8H74V92.3H72.5zM72.5 92.3H74V93.8H72.5zM72.5 93.8H74V95.3H72.5zM74 102.8H75.5V104.3H74zM74 108.8H75.5V110.3H74z"/>
<path fill="#18f0c6" d="M59 27.8H60.5V29.3H59zM59 29.3H60.5V30.8H59zM75.5 29.3H77V30.8H75.5zM75.5 30.8H77V32.3H75.5zM75.5 35.3H77V36.8H75.5zM77 38.3H78.5V39.8H77zM80 45.8H81.5V47.3H80zM75.5 47.3H77V48.8H75.5zM78.5 47.3H80V48.8H78.5zM80 47.3H81.5V48.8H80zM74 50.3H75.5V51.8H74zM77 51.8H78.5V53.3H77zM78.5 51.8H80V53.3H78.5zM75.5 53.3H77V54.8H75.5zM78.5 53.3H80V54.8H78.5zM83 53.3H84.5V54.8H83zM81.5 54.8H83V56.3H81.5zM83 54.8H84.5V56.3H83zM78.5 56.3H80V57.8H78.5zM80 57.8H81.5V59.3H80zM81.5 57.8H83V59.3H81.5zM66.5 60.8H68V62.3H66.5zM69.5 60.8H71V62.3H69.5zM81.5 62.3H83V63.8H81.5zM83 68.3H84.5V69.8H83zM77 69.8H78.5V71.3H77zM77 71.3H78.5V72.8H77zM75.5 72.8H77V74.3H75.5zM72.5 78.8H74V80.3H72.5zM80 81.8H81.5V83.3H80zM81.5 81.8H83V83.3H81.5zM83 81.8H84.5V83.3H83zM80 83.3H81.5V84.8H80zM81.5 83.3H83V84.8H81.5zM74 89.3H75.5V90.8H74zM75.5 89.3H77V90.8H75.5zM74 90.8H75.5V92.3H74zM75.5 90.8H77V92.3H75.5zM78.5 99.8H80V101.3H78.5z"/>
<path fill="#18f0c0" d="M60.5 27.8H62V29.3H60.5zM75.5 27.8H77V29.3H75.5zM60.5 29.3H62V30.8H60.5zM74 29.3H75.5V30.8H74zM63.5 30.8H65V32.3H63.5zM68 36.8H69.5V38.3H68zM69.5 36.8H71V38.3H69.5zM74 38.3H75.5V39.8H74zM83 39.8H84.5V41.3H83zM75.5 41.3H77V42.8H75.5zM77 41.3H78.5V42.8H77zM83 41.3H84.5V42.8H83zM75.5 42.8H77V44.3H75.5zM78.5 42.8H80V44.3H78.5zM81.5 42.8H83V44.3H81.5zM80 44.3H81.5V45.8H80zM83 44.3H84.5V45.8H83zM72.5 45.8H74V47.3H72.5zM78.5 45.8H80V47.3H78.5zM77 48.8H78.5V50.3H77zM81.5 48.8H83V50.3H81.5zM72.5 51.8H74V53.3H72.5zM75.5 51.8H77V53.3H75.5zM74 53.3H75.5V54.8H74zM81.5 53.3H83V54.8H81.5zM72.5 57.8H74V59.3H72.5zM74 59.3H75.5V60.8H74zM75.5 59.3H77V60.8H75.5zM77 59.3H78.5V60.8H77zM83 59.3H84.5V60.8H83zM65 60.8H66.5V62.3H65zM83 60.8H84.5V62.3H83zM66.5 62.3H68V63.8H66.5zM68 62.3H69.5V63.8H68zM69.5 62.3H71V63.8H69.5zM81.5 63.8H83V65.3H81.5zM80 66.8H81.5V68.3H80zM77 68.3H78.5V69.8H77zM78.5 68.3H80V69.8H78.5zM78.5 69.8H80V71.3H78.5zM74 71.3H75.5V72.8H74zM75.5 71.3H77V72.8H75.5zM74 72.8H75.5V74.3H74zM74 74.3H75.5V75.8H74zM75.5 74.3H77V75.8H75.5zM78.5 80.3H80V81.8H78.5zM71 83.3H72.5V84.8H71zM72.5 87.8H74V89.3H72.5zM77 90.8H78.5V92.3H77zM72.5 98.3H74V99.8H72.5zM72.5 101.3H74V102.8H72.5zM77 102.8H78.5V104.3H77z"/>
<path fill="#18f0cc" d="M63.5 27.8H65V29.3H63.5zM83 27.8H84.5V29.3H83zM74 30.8H75.5V32.3H74zM81.5 30.8H83V32.3H81.5zM74 33.8H75.5V35.3H74zM75.5 33.8H77V35.3H75.5zM74 35.3H75.5V36.8H74zM77 35.3H78.5V36.8H77zM74 36.8H75.5V38.3H74zM75.5 38.3H77V39.8H75.5zM78.5 39.8H80V41.3H78.5zM81.5 39.8H83V41.3H81.5zM81.5 41.3H83V42.8H81.5zM80 42.8H81.5V44.3H80zM81.5 45.8H83V47.3H81.5zM77 47.3H78.5V48.8H77zM81.5 47.3H83V48.8H81.5zM83 48.8H84.5V50.3H83zM72.5 50.3H74V51.8H72.5zM75.5 50.3H77V51.8H75.5zM80 50.3H81.5V51.8H80zM80 51.8H81.5V53.3H80zM81.5 51.8H83V53.3H81.5zM80 53.3H81.5V54.8H80zM78.5 54.8H80V56.3H78.5zM80 54.8H81.5V56.3H80zM72.5 56.3H74V57.8H72.5zM74 56.3H75.5V57.8H74zM75.5 56.3H77V57.8H75.5zM77 56.3H78.5V57.8H77zM80 56.3H81.5V57.8H80zM81.5 56.3H83V57.8H81.5zM83 56.3H84.5V57.8H83zM83 57.8H84.5V59.3H83zM78.5 59.3H80V60.8H78.5zM81.5 59.3H83V60.8H81.5zM68 60.8H69.5V62.3H68zM80 60.8H81.5V62.3H80zM81.5 60.8H83V62.3H81.5zM80 62.3H81.5V63.8H80zM80 63.8H81.5V65.3H80zM80 65.3H81.5V66.8H80zM78.5 71.3H80V72.8H78.5zM72.5 75.8H74V77.3H72.5zM72.5 77.3H74V78.8H72.5zM74 78.8H75.5V80.3H74zM80 80.3H81.5V81.8H80zM81.5 80.3H83V81.8H81.5zM83 80.3H84.5V81.8H83zM78.5 81.8H80V83.3H78.5zM78.5 83.3H80V84.8H78.5zM81.5 84.8H83V86.3H81.5zM72.5 86.3H74V87.8H72.5zM74 87.8H75.5V89.3H74zM75.5 87.8H77V89.3H75.5zM77 87.8H78.5V89.3H77zM77 89.3H78.5V90.8H77zM81.5 90.8H83V92.3H81.5zM77 92.3H78.5V93.8H77zM81.5 92.3H83V93.8H81.5zM83 92.3H84.5V93.8H83zM81.5 93.8H83V95.3H81.5zM83 93.8H84.5V95.3H83zM75.5 95.3H77V96.8H75.5zM77 96.8H78.5V98.3H77zM75.5 98.3H77V99.8H75.5zM77 98.3H78.5V99.8H77zM72.5 99.8H74V101.3H72.5zM80 99.8H81.5V101.3H80zM78.5 101.3H80V102.8H78.5zM77 104.3H78.5V105.8H77zM77 107.3H78.5V108.8H77z"/>
<path fill="#18f0ba" d="M65 27.8H66.5V29.3H65zM69.5 27.8H71V29.3H69.5zM74 27.8H75.5V29.3H74zM63.5 29.3H65V30.8H63.5zM59 30.8H60.5V32.3H59zM72.5 30.8H74V32.3H72.5zM63.5 32.3H65V33.8H63.5zM72.5 32.3H74V33.8H72.5zM72.5 33.8H74V35.3H72.5zM65 41.3H66.5V42.8H65zM81.5 44.3H83V45.8H81.5zM75.5 45.8H77V47.3H75.5zM77 45.8H78.5V47.3H77zM72.5 47.3H74V48.8H72.5zM72.5 48.8H74V50.3H72.5zM75.5 48.8H77V50.3H75.5zM78.5 48.8H80V50.3H78.5zM74 51.8H75.5V53.3H74zM72.5 53.3H74V54.8H72.5zM74 57.8H75.5V59.3H74zM75.5 57.8H77V59.3H75.5zM78.5 57.8H80V59.3H78.5zM72.5 59.3H74V60.8H72.5zM78.5 60.8H80V62.3H78.5zM65 62.3H66.5V63.8H65zM83 62.3H84.5V63.8H83zM81.5 65.3H83V66.8H81.5zM81.5 66.8H83V68.3H81.5zM75.5 68.3H77V69.8H75.5zM75.5 69.8H77V71.3H75.5zM72.5 74.3H74V75.8H72.5zM71 81.8H72.5V83.3H71zM72.5 89.3H74V90.8H72.5zM74 92.3H75.5V93.8H74zM74 93.8H75.5V95.3H74zM74 96.8H75.5V98.3H74zM75.5 99.8H77V101.3H75.5zM77 99.8H78.5V101.3H77zM77 101.3H78.5V102.8H77zM72.5 102.8H74V104.3H72.5zM75.5 102.8H77V104.3H75.5zM75.5 108.8H77V110.3H75.5z"/>
<path fill="#18f0b4" d="M72.5 27.8H74V29.3H72.5zM57.5 29.3H59V30.8H57.5zM69.5 29.3H71V30.8H69.5zM72.5 29.3H74V30.8H72.5zM65 30.8H66.5V32.3H65zM59 32.3H60.5V33.8H59zM65 32.3H66.5V33.8H65zM69.5 32.3H71V33.8H69.5zM69.5 33.8H71V35.3H69.5zM71 33.8H72.5V35.3H71zM59 35.3H60.5V36.8H59zM68 35.3H69.5V36.8H68zM69.5 35.3H71V36.8H69.5zM72.5 35.3H74V36.8H72.5zM65 36.8H66.5V38.3H65zM72.5 36.8H74V38.3H72.5zM65 38.3H66.5V39.8H65zM69.5 38.3H71V39.8H69.5zM74 39.8H75.5V41.3H74zM75.5 39.8H77V41.3H75.5zM74 41.3H75.5V42.8H74zM74 42.8H75.5V44.3H74zM77 42.8H78.5V44.3H77zM83 42.8H84.5V44.3H83zM78.5 44.3H80V45.8H78.5zM74 45.8H75.5V47.3H74zM74 48.8H75.5V50.3H74zM80 48.8H81.5V50.3H80zM66.5 50.3H68V51.8H66.5zM66.5 51.8H68V53.3H66.5zM71 54.8H72.5V56.3H71zM66.5 56.3H68V57.8H66.5zM69.5 56.3H71V57.8H69.5zM71 56.3H72.5V57.8H71zM69.5 57.8H71V59.3H69.5zM71 57.8H72.5V59.3H71zM77 57.8H78.5V59.3H77zM68 59.3H69.5V60.8H68zM71 60.8H72.5V62.3H71zM72.5 60.8H74V62.3H72.5zM68 63.8H69.5V65.3H68zM69.5 63.8H71V65.3H69.5zM78.5 63.8H80V65.3H78.5zM75.5 66.8H77V68.3H75.5zM83 66.8H84.5V68.3H83zM74 69.8H75.5V71.3H74zM72.5 72.8H74V74.3H72.5zM71 80.3H72.5V81.8H71zM71 84.8H72.5V86.3H71zM72.5 95.3H74V96.8H72.5zM74 95.3H75.5V96.8H74zM72.5 96.8H74V98.3H72.5zM74 98.3H75.5V99.8H74zM74 99.8H75.5V101.3H74zM75.5 101.3H77V102.8H75.5zM72.5 104.3H74V105.8H72.5zM75.5 104.3H77V105.8H75.5zM75.5 105.8H77V107.3H75.5zM75.5 107.3H77V108.8H75.5z"/>
<path fill="#18f0d8" d="M77 27.8H78.5V29.3H77zM78.5 27.8H80V29.3H78.5zM77 29.3H78.5V30.8H77zM81.5 29.3H83V30.8H81.5zM75.5 32.3H77V33.8H75.5zM83 32.3H84.5V33.8H83zM77 33.8H78.5V35.3H77zM75.5 36.8H77V38.3H75.5zM83 36.8H84.5V38.3H83zM78.5 38.3H80V39.8H78.5zM80 39.8H81.5V41.3H80zM78.5 41.3H80V42.8H78.5zM77 50.3H78.5V51.8H77zM83 50.3H84.5V51.8H83zM72.5 54.8H74V56.3H72.5zM80 68.3H81.5V69.8H80zM80 69.8H81.5V71.3H80zM81.5 69.8H83V71.3H81.5zM83 69.8H84.5V71.3H83zM77 72.8H78.5V74.3H77zM74 75.8H75.5V77.3H74zM74 77.3H75.5V78.8H74zM78.5 78.8H80V80.3H78.5zM80 78.8H81.5V80.3H80zM83 78.8H84.5V80.3H83zM72.5 80.3H74V81.8H72.5zM75.5 80.3H77V81.8H75.5zM72.5 84.8H74V86.3H72.5zM75.5 84.8H77V86.3H75.5zM78.5 84.8H80V86.3H78.5zM83 84.8H84.5V86.3H83zM75.5 86.3H77V87.8H75.5zM77 86.3H78.5V87.8H77zM78.5 90.8H80V92.3H78.5zM78.5 93.8H80V95.3H78.5zM80 93.8H81.5V95.3H80zM77 95.3H78.5V96.8H77zM78.5 98.3H80V99.8H78.5zM80 98.3H81.5V99.8H80zM80 101.3H81.5V102.8H80zM83 101.3H84.5V102.8H83zM77 105.8H78.5V107.3H77zM83 105.8H84.5V107.3H83zM83 107.3H84.5V108.8H83zM77 108.8H78.5V110.3H77z"/>
<path fill="#18f0de" d="M80 27.8H81.5V29.3H80zM83 29.3H84.5V30.8H83zM77 30.8H78.5V32.3H77zM78.5 30.8H80V32.3H78.5zM80 30.8H81.5V32.3H80zM83 33.8H84.5V35.3H83zM81.5 38.3H83V39.8H81.5zM80 41.3H81.5V42.8H80zM74 54.8H75.5V56.3H74zM75.5 54.8H77V56.3H75.5zM77 54.8H78.5V56.3H77zM78.5 74.3H80V75.8H78.5zM77 75.8H78.5V77.3H77zM75.5 77.3H77V78.8H75.5zM78.5 77.3H80V78.8H78.5zM83 77.3H84.5V78.8H83zM72.5 81.8H74V83.3H72.5zM72.5 83.3H74V84.8H72.5zM74 84.8H75.5V86.3H74zM77 84.8H78.5V86.3H77zM78.5 87.8H80V89.3H78.5zM81.5 87.8H83V89.3H81.5zM78.5 89.3H80V90.8H78.5zM80 90.8H81.5V92.3H80zM78.5 92.3H80V93.8H78.5zM80 92.3H81.5V93.8H80zM81.5 95.3H83V96.8H81.5zM83 95.3H84.5V96.8H83zM80 102.8H81.5V104.3H80z"/>
<path fill="#18f0d2" d="M81.5 27.8H83V29.3H81.5zM78.5 29.3H80V30.8H78.5zM83 30.8H84.5V32.3H83zM74 32.3H75.5V33.8H74zM81.5 32.3H83V33.8H81.5zM77 36.8H78.5V38.3H77zM83 38.3H84.5V39.8H83zM83 45.8H84.5V47.3H83zM83 47.3H84.5V48.8H83zM78.5 50.3H80V51.8H78.5zM81.5 50.3H83V51.8H81.5zM83 51.8H84.5V53.3H83zM77 53.3H78.5V54.8H77zM80 59.3H81.5V60.8H80zM81.5 68.3H83V69.8H81.5zM77 74.3H78.5V75.8H77zM75.5 75.8H77V77.3H75.5zM75.5 78.8H77V80.3H75.5zM83 83.3H84.5V84.8H83zM80 84.8H81.5V86.3H80zM81.5 86.3H83V87.8H81.5zM83 90.8H84.5V92.3H83zM75.5 92.3H77V93.8H75.5zM75.5 93.8H77V95.3H75.5zM77 93.8H78.5V95.3H77zM75.5 96.8H77V98.3H75.5zM78.5 102.8H80V104.3H78.5zM83 102.8H84.5V104.3H83zM83 104.3H84.5V105.8H83z"/>
<path fill="#fc7e18" d="M24.5 29.3H26V30.8H24.5zM9.5 30.8H11V32.3H9.5zM3.5 32.3H5V33.8H3.5zM5 32.3H6.5V33.8H5zM8 32.3H9.5V33.8H8zM11 32.3H12.5V33.8H11zM8 33.8H9.5V35.3H8zM11 33.8H12.5V35.3H11zM6.5 35.3H8V36.8H6.5zM6.5 36.8H8V38.3H6.5zM24.5 39.8H26V41.3H24.5zM2 42.8H3.5V44.3H2zM3.5 42.8H5V44.3H3.5zM2 44.3H3.5V45.8H2zM26 44.3H27.5V45.8H26zM2 45.8H3.5V47.3H2zM21.5 45.8H23V47.3H21.5zM3.5 47.3H5V48.8H3.5zM12.5 48.8H14V50.3H12.5zM11 50.3H12.5V51.8H11zM11 51.8H12.5V53.3H11zM8 53.3H9.5V54.8H8zM8 54.8H9.5V56.3H8zM2 56.3H3.5V57.8H2zM23 56.3H24.5V57.8H23zM20 57.8H21.5V59.3H20zM21.5 57.8H23V59.3H21.5zM24.5 57.8H26V59.3H24.5zM15.5 59.3H17V60.8H15.5zM17 59.3H18.5V60.8H17zM20 59.3H21.5V60.8H20zM14 60.8H15.5V62.3H14zM21.5 60.8H23V62.3H21.5zM15.5 62.3H17V63.8H15.5zM18.5 63.8H20V65.3H18.5zM2 69.8H3.5V71.3H2zM5 69.8H6.5V71.3H5zM35 69.8H36.5V71.3H35zM38 69.8H39.5V71.3H38zM6.5 71.3H8V72.8H6.5zM8 71.3H9.5V72.8H8zM14 71.3H15.5V72.8H14zM18.5 71.3H20V72.8H18.5zM20 71.3H21.5V72.8H20zM36.5 71.3H38V72.8H36.5zM5 72.8H6.5V74.3H5zM6.5 72.8H8V74.3H6.5zM18.5 72.8H20V74.3H18.5zM23 72.8H24.5V74.3H23zM24.5 72.8H26V74.3H24.5zM14 74.3H15.5V75.8H14zM26 74.3H27.5V75.8H26zM32 74.3H33.5V75.8H32zM38 74.3H39.5V75.8H38zM11 75.8H12.5V77.3H11zM21.5 75.8H23V77.3H21.5zM23 75.8H24.5V77.3H23zM35 75.8H36.5V77.3H35zM36.5 75.8H38V77.3H36.5zM11 77.3H12.5V78.8H11zM20 77.3H21.5V78.8H20zM24.5 77.3H26V78.8H24.5zM26 77.3H27.5V78.8H26zM18.5 78.8H20V80.3H18.5zM30.5 78.8H32V80.3H30.5zM33.5 78.8H35V80.3H33.5zM17 80.3H18.5V81.8H17zM18.5 80.3H20V81.8H18.5zM30.5 80.3H32V81.8H30.5zM33.5 80.3H35V81.8H33.5zM36.5 80.3H38V81.8H36.5zM11 81.8H12.5V83.3H11zM12.5 81.8H14V83.3H12.5zM17 81.8H18.5V83.3H17zM32 81.8H33.5V83.3H32zM33.5 81.8H35V83.3H33.5zM36.5 81.8H38V83.3H36.5zM38 81.8H39.5V83.3H38zM8 83.3H9.5V84.8H8zM18.5 83.3H20V84.8H18.5zM20 83.3H21.5V84.8H20zM29 83.3H30.5V84.8H29zM3.5 84.8H5V86.3H3.5zM17 84.8H18.5V86.3H17zM30.5 84.8H32V86.3H30.5zM6.5 86.3H8V87.8H6.5zM29 86.3H30.5V87.8H29zM30.5 86.3H32V87.8H30.5zM32 86.3H33.5V87.8H32zM35 86.3H36.5V87.8H35zM36.5 86.3H38V87.8H36.5zM39.5 86.3H41V87.8H39.5zM3.5 87.8H5V89.3H3.5zM17 87.8H18.5V89.3H17zM27.5 87.8H29V89.3H27.5zM29 87.8H30.5V89.3H29zM2 89.3H3.5V90.8H2zM3.5 89.3H5V90.8H3.5zM8 89.3H9.5V90.8H8zM11 89.3H12.5V90.8H11zM12.5 89.3H14V90.8H12.5zM15.5 89.3H17V90.8H15.5zM17 89.3H18.5V90.8H17zM18.5 89.3H20V90.8H18.5zM32 89.3H33.5V90.8H32zM6.5 90.8H8V92.3H6.5zM8 90.8H9.5V92.3H8zM9.5 90.8H11V92.3H9.5zM11 90.8H12.5V92.3H11zM15.5 90.8H17V92.3H15.5zM21.5 90.8H23V92.3H21.5zM26 90.8H27.5V92.3H26zM3.5 92.3H5V93.8H3.5zM8 92.3H9.5V93.8H8zM9.5 92.3H11V93.8H9.5zM12.5 92.3H14V93.8H12.5zM14 92.3H15.5V93.8H14zM17 92.3H18.5V93.8H17zM18.5 92.3H20V93.8H18.5zM20 92.3H21.5V93.8H20zM21.5 92.3H23V93.8H21.5zM26 92.3H27.5V93.8H26zM2 93.8H3.5V95.3H2zM3.5 93.8H5V95.3H3.5zM6.5 93.8H8V95.3H6.5zM14 93.8H15.5V95.3H14zM6.5 95.3H8V96.8H6.5zM11 95.3H12.5V96.8H11zM17 95.3H18.5V96.8H17zM8 96.8H9.5V98.3H8zM12.5 96.8H14V98.3H12.5zM15.5 96.8H17V98.3H15.5zM21.5 96.8H23V98.3H21.5zM38 96.8H39.5V98.3H38zM14 98.3H15.5V99.8H14zM15.5 98.3H17V99.8H15.5zM23 98.3H24.5V99.8H23zM24.5 98.3H26V99.8H24.5zM38 98.3H39.5V99.8H38zM18.5 99.8H20V101.3H18.5zM38 99.8H39.5V101.3H38zM2 101.3H3.5V102.8H2zM3.5 101.3H5V102.8H3.5zM5 101.3H6.5V102.8H5zM8 101.3H9.5V102.8H8zM32 102.8H33.5V104.3H32zM36.5 102.8H38V104.3H36.5zM6.5 104.3H8V105.8H6.5zM20 104.3H21.5V105.8H20zM30.5 104.3H32V105.8H30.5zM2 105.8H3.5V107.3H2zM5 105.8H6.5V107.3H5zM6.5 105.8H8V107.3H6.5zM20 105.8H21.5V107.3H20zM30.5 105.8H32V107.3H30.5zM32 105.8H33.5V107.3H32zM38 105.8H39.5V107.3H38zM6.5 107.3H8V108.8H6.5zM23 107.3H24.5V108.8H23zM15.5 108.8H17V110.3H15.5zM17 108.8H18.5V110.3H17zM20 108.8H21.5V110.3H20zM21.5 108.8H23V110.3H21.5zM24.5 108.8H26V110.3H24.5z"/>
<path fill="#fcc618" d="M32 29.3H33.5V30.8H32zM32 30.8H33.5V32.3H32zM30.5 33.8H32V35.3H30.5zM32 33.8H33.5V35.3H32zM32 39.8H33.5V41.3H32zM38 53.3H39.5V54.8H38zM42.5 60.8H44V62.3H42.5zM42.5 62.3H44V63.8H42.5zM42.5 65.3H44V66.8H42.5zM41 68.3H42.5V69.8H41zM44 71.3H45.5V72.8H44zM44 72.8H45.5V74.3H44zM45.5 74.3H47V75.8H45.5zM47 74.3H48.5V75.8H47zM45.5 77.3H47V78.8H45.5zM47 78.8H48.5V80.3H47zM47 80.3H48.5V81.8H47zM45.5 81.8H47V83.3H45.5zM47 81.8H48.5V83.3H47zM47 92.3H48.5V93.8H47zM45.5 93.8H47V95.3H45.5zM47 101.3H48.5V102.8H47zM48.5 108.8H50V110.3H48.5z"/>
<path fill="#fcde1e" d="M35 29.3H36.5V30.8H35zM35 30.8H36.5V32.3H35zM35 32.3H36.5V33.8H35zM33.5 35.3H35V36.8H33.5zM33.5 38.3H35V39.8H33.5zM35 41.3H36.5V42.8H35zM35 42.8H36.5V44.3H35zM38 47.3H39.5V48.8H38zM39.5 50.3H41V51.8H39.5zM44 57.8H45.5V59.3H44zM45.5 63.8H47V65.3H45.5zM45.5 65.3H47V66.8H45.5zM44 66.8H45.5V68.3H44zM44 68.3H45.5V69.8H44zM48.5 71.3H50V72.8H48.5zM50 75.8H51.5V77.3H50zM50 78.8H51.5V80.3H50zM50 80.3H51.5V81.8H50zM50 81.8H51.5V83.3H50zM47 84.8H48.5V86.3H47zM50 86.3H51.5V87.8H50zM50 87.8H51.5V89.3H50zM53 89.3H54.5V90.8H53zM51.5 101.3H53V102.8H51.5zM51.5 102.8H53V104.3H51.5zM51.5 104.3H53V105.8H51.5zM50 108.8H51.5V110.3H50z"/>
<path fill="#fcea1e" d="M36.5 29.3H38V30.8H36.5zM36.5 32.3H38V33.8H36.5zM36.5 41.3H38V42.8H36.5zM36.5 42.8H38V44.3H36.5zM38 44.3H39.5V45.8H38zM41 51.8H42.5V53.3H41zM42.5 53.3H44V54.8H42.5zM42.5 54.8H44V56.3H42.5zM47 59.3H48.5V60.8H47zM48.5 59.3H50V60.8H48.5zM47 60.8H48.5V62.3H47zM48.5 62.3H50V63.8H48.5zM48.5 63.8H50V65.3H48.5zM47 66.8H48.5V68.3H47zM48.5 69.8H50V71.3H48.5zM50 72.8H51.5V74.3H50zM51.5 75.8H53V77.3H51.5zM51.5 78.8H53V80.3H51.5zM51.5 81.8H53V83.3H51.5zM51.5 84.8H53V86.3H51.5zM53 87.8H54.5V89.3H53zM51.5 95.3H53V96.8H51.5zM51.5 96.8H53V98.3H51.5zM53 104.3H54.5V105.8H53zM53 107.3H54.5V108.8H53zM51.5 108.8H53V110.3H51.5z"/>
<path fill="#f6f01e" d="M38 29.3H39.5V30.8H38zM38 30.8H39.5V32.3H38zM36.5 33.8H38V35.3H36.5zM36.5 35.3H38V36.8H36.5zM36.5 39.8H38V41.3H36.5zM42.5 51.8H44V53.3H42.5zM44 53.3H45.5V54.8H44zM48.5 57.8H50V59.3H48.5zM48.5 66.8H50V68.3H48.5zM51.5 71.3H53V72.8H51.5zM53 80.3H54.5V81.8H53zM53 84.8H54.5V86.3H53zM53 102.8H54.5V104.3H53z"/>
<path fill="#d8f624" d="M39.5 29.3H41V30.8H39.5zM39.5 32.3H41V33.8H39.5zM41 41.3H42.5V42.8H41zM42.5 42.8H44V44.3H42.5zM44 51.8H45.5V53.3H44zM50 57.8H51.5V59.3H50zM50 66.8H51.5V68.3H50zM51.5 68.3H53V69.8H51.5zM53 71.3H54.5V72.8H53zM53 72.8H54.5V74.3H53zM54.5 93.8H56V95.3H54.5zM56 99.8H57.5V101.3H56z"/>
<path fill="#baf630" d="M41 29.3H42.5V30.8H41zM42.5 36.8H44V38.3H42.5zM44 42.8H45.5V44.3H44zM45.5 50.3H47V51.8H45.5zM45.5 51.8H47V53.3H45.5zM47 53.3H48.5V54.8H47zM53 69.8H54.5V71.3H53zM56 80.3H57.5V81.8H56zM57.5 89.3H59V90.8H57.5zM56 90.8H57.5V92.3H56zM57.5 99.8H59V101.3H57.5zM57.5 105.8H59V107.3H57.5z"/>
<path fill="#a2f630" d="M42.5 29.3H44V30.8H42.5zM42.5 32.3H44V33.8H42.5zM42.5 35.3H44V36.8H42.5zM44 41.3H45.5V42.8H44zM48.5 51.8H50V53.3H48.5zM51.5 57.8H53V59.3H51.5zM53 66.8H54.5V68.3H53zM56 81.8H57.5V83.3H56zM57.5 95.3H59V96.8H57.5zM59 101.3H60.5V102.8H59zM57.5 107.3H59V108.8H57.5z"/>
<path fill="#66f654" d="M44 29.3H45.5V30.8H44zM47 42.8H48.5V44.3H47zM54.5 42.8H56V44.3H54.5zM54.5 48.8H56V50.3H54.5zM54.5 50.3H56V51.8H54.5zM54.5 54.8H56V56.3H54.5zM54.5 57.8H56V59.3H54.5zM56 65.3H57.5V66.8H56zM56 68.3H57.5V69.8H56zM59 72.8H60.5V74.3H59zM59 80.3H60.5V81.8H59zM62 83.3H63.5V84.8H62zM63.5 86.3H65V87.8H63.5zM62 90.8H63.5V92.3H62zM63.5 90.8H65V92.3H63.5zM60.5 95.3H62V96.8H60.5zM62 95.3H63.5V96.8H62zM62 99.8H63.5V101.3H62zM60.5 102.8H62V104.3H60.5zM60.5 104.3H62V105.8H60.5z"/>
<path fill="#4ef066" d="M45.5 29.3H47V30.8H45.5zM45.5 30.8H47V32.3H45.5zM48.5 44.3H50V45.8H48.5zM50 44.3H51.5V45.8H50zM53 44.3H54.5V45.8H53zM50 45.8H51.5V47.3H50zM51.5 48.8H53V50.3H51.5zM56 48.8H57.5V50.3H56zM53 51.8H54.5V53.3H53zM57.5 56.3H59V57.8H57.5zM59 59.3H60.5V60.8H59zM57.5 63.8H59V65.3H57.5zM59 69.8H60.5V71.3H59zM60.5 72.8H62V74.3H60.5zM60.5 74.3H62V75.8H60.5zM66.5 87.8H68V89.3H66.5zM60.5 92.3H62V93.8H60.5zM62 96.8H63.5V98.3H62zM65 108.8H66.5V110.3H65z"/>
<path fill="#54f060" d="M47 29.3H48.5V30.8H47zM48.5 38.3H50V39.8H48.5zM53 41.3H54.5V42.8H53zM50 42.8H51.5V44.3H50zM57.5 42.8H59V44.3H57.5zM48.5 45.8H50V47.3H48.5zM54.5 51.8H56V53.3H54.5zM63.5 98.3H65V99.8H63.5zM65 99.8H66.5V101.3H65zM63.5 105.8H65V107.3H63.5z"/>
<path fill="#36f078" d="M48.5 29.3H50V30.8H48.5zM50 35.3H51.5V36.8H50zM51.5 38.3H53V39.8H51.5zM50 39.8H51.5V41.3H50zM59 48.8H60.5V50.3H59zM57.5 50.3H59V51.8H57.5zM59 51.8H60.5V53.3H59zM57.5 53.3H59V54.8H57.5zM59 53.3H60.5V54.8H59zM59 54.8H60.5V56.3H59zM62 59.3H63.5V60.8H62zM62 60.8H63.5V62.3H62zM59 65.3H60.5V66.8H59zM59 66.8H60.5V68.3H59zM59 68.3H60.5V69.8H59zM66.5 68.3H68V69.8H66.5zM68 71.3H69.5V72.8H68zM63.5 81.8H65V83.3H63.5zM65 93.8H66.5V95.3H65zM68 99.8H69.5V101.3H68zM66.5 101.3H68V102.8H66.5zM65 102.8H66.5V104.3H65zM66.5 105.8H68V107.3H66.5zM71 107.3H72.5V108.8H71zM69.5 108.8H71V110.3H69.5z"/>
<path fill="#1ef084" d="M50 29.3H51.5V30.8H50zM56 36.8H57.5V38.3H56zM57.5 38.3H59V39.8H57.5zM69.5 75.8H71V77.3H69.5zM66.5 84.8H68V86.3H66.5zM68 86.3H69.5V87.8H68zM71 90.8H72.5V92.3H71zM66.5 102.8H68V104.3H66.5z"/>
<path fill="#18f0a8" d="M54.5 29.3H56V30.8H54.5zM56 29.3H57.5V30.8H56zM62 29.3H63.5V30.8H62zM71 29.3H72.5V30.8H71zM57.5 32.3H59V33.8H57.5zM60.5 32.3H62V33.8H60.5zM66.5 32.3H68V33.8H66.5zM71 32.3H72.5V33.8H71zM57.5 33.8H59V35.3H57.5zM68 33.8H69.5V35.3H68zM57.5 35.3H59V36.8H57.5zM59 36.8H60.5V38.3H59zM66.5 36.8H68V38.3H66.5zM63.5 38.3H65V39.8H63.5zM72.5 38.3H74V39.8H72.5zM68 39.8H69.5V41.3H68zM69.5 39.8H71V41.3H69.5zM68 41.3H69.5V42.8H68zM63.5 42.8H65V44.3H63.5zM65 42.8H66.5V44.3H65zM72.5 42.8H74V44.3H72.5zM62 44.3H63.5V45.8H62zM63.5 44.3H65V45.8H63.5zM66.5 44.3H68V45.8H66.5zM72.5 44.3H74V45.8H72.5zM74 44.3H75.5V45.8H74zM66.5 45.8H68V47.3H66.5zM66.5 47.3H68V48.8H66.5zM68 50.3H69.5V51.8H68zM71 51.8H72.5V53.3H71zM66.5 53.3H68V54.8H66.5zM69.5 54.8H71V56.3H69.5zM65 57.8H66.5V59.3H65zM71 59.3H72.5V60.8H71zM74 60.8H75.5V62.3H74zM77 60.8H78.5V62.3H77zM71 62.3H72.5V63.8H71zM65 63.8H66.5V65.3H65zM66.5 63.8H68V65.3H66.5zM71 63.8H72.5V65.3H71zM75.5 63.8H77V65.3H75.5zM77 63.8H78.5V65.3H77zM68 65.3H69.5V66.8H68zM74 65.3H75.5V66.8H74zM77 65.3H78.5V66.8H77zM78.5 65.3H80V66.8H78.5zM72.5 66.8H74V68.3H72.5zM72.5 69.8H74V71.3H72.5zM69.5 83.3H71V84.8H69.5zM69.5 84.8H71V86.3H69.5zM74 101.3H75.5V102.8H74zM74 105.8H75.5V107.3H74zM74 107.3H75.5V108.8H74z"/>
<path fill="#12f0e4" d="M80 29.3H81.5V30.8H80zM77 32.3H78.5V33.8H77zM80 32.3H81.5V33.8H80zM78.5 33.8H80V35.3H78.5zM80 33.8H81.5V35.3H80zM78.5 35.3H80V36.8H78.5zM81.5 36.8H83V38.3H81.5zM80 38.3H81.5V39.8H80zM81.5 71.3H83V72.8H81.5zM78.5 72.8H80V74.3H78.5zM80 72.8H81.5V74.3H80zM81.5 72.8H83V74.3H81.5zM81.5 74.3H83V75.8H81.5zM83 74.3H84.5V75.8H83zM78.5 75.8H80V77.3H78.5zM81.5 75.8H83V77.3H81.5zM83 75.8H84.5V77.3H83zM77 77.3H78.5V78.8H77zM81.5 77.3H83V78.8H81.5zM77 78.8H78.5V80.3H77zM81.5 78.8H83V80.3H81.5zM74 80.3H75.5V81.8H74zM77 80.3H78.5V81.8H77zM75.5 81.8H77V83.3H75.5zM74 83.3H75.5V84.8H74zM75.5 83.3H77V84.8H75.5zM83 86.3H84.5V87.8H83zM81.5 89.3H83V90.8H81.5zM80 95.3H81.5V96.8H80zM80 96.8H81.5V98.3H80zM83 96.8H84.5V98.3H83zM83 99.8H84.5V101.3H83zM81.5 101.3H83V102.8H81.5zM78.5 104.3H80V105.8H78.5zM83 108.8H84.5V110.3H83z"/>
<path fill="#fcba18" d="M30.5 30.8H32V32.3H30.5zM30.5 32.3H32V33.8H30.5zM32 41.3H33.5V42.8H32zM35 47.3H36.5V48.8H35zM35 48.8H36.5V50.3H35zM39.5 56.3H41V57.8H39.5zM39.5 57.8H41V59.3H39.5zM41 62.3H42.5V63.8H41zM42.5 69.8H44V71.3H42.5zM44 78.8H45.5V80.3H44zM45.5 95.3H47V96.8H45.5zM45.5 98.3H47V99.8H45.5zM45.5 99.8H47V101.3H45.5zM48.5 105.8H50V107.3H48.5z"/>
<path fill="#fcf01e" d="M36.5 30.8H38V32.3H36.5zM38 32.3H39.5V33.8H38zM36.5 38.3H38V39.8H36.5zM39.5 47.3H41V48.8H39.5zM41 48.8H42.5V50.3H41zM41 50.3H42.5V51.8H41zM44 54.8H45.5V56.3H44zM45.5 57.8H47V59.3H45.5zM47 62.3H48.5V63.8H47zM48.5 65.3H50V66.8H48.5zM48.5 68.3H50V69.8H48.5zM50 71.3H51.5V72.8H50zM51.5 72.8H53V74.3H51.5zM51.5 74.3H53V75.8H51.5zM53 83.3H54.5V84.8H53zM53 86.3H54.5V87.8H53zM53 93.8H54.5V95.3H53zM51.5 98.3H53V99.8H51.5zM53 101.3H54.5V102.8H53zM53 108.8H54.5V110.3H53z"/>
<path fill="#d2f62a" d="M39.5 30.8H41V32.3H39.5zM39.5 39.8H41V41.3H39.5zM41 39.8H42.5V41.3H41zM39.5 41.3H41V42.8H39.5zM45.5 53.3H47V54.8H45.5zM47 54.8H48.5V56.3H47zM47 56.3H48.5V57.8H47zM51.5 60.8H53V62.3H51.5zM51.5 62.3H53V63.8H51.5zM54.5 83.3H56V84.8H54.5zM54.5 84.8H56V86.3H54.5zM54.5 86.3H56V87.8H54.5zM56 89.3H57.5V90.8H56zM54.5 95.3H56V96.8H54.5zM54.5 108.8H56V110.3H54.5z"/>
<path fill="#b4f630" d="M41 30.8H42.5V32.3H41zM41 32.3H42.5V33.8H41zM41 35.3H42.5V36.8H41zM54.5 71.3H56V72.8H54.5zM54.5 74.3H56V75.8H54.5zM54.5 81.8H56V83.3H54.5zM56 86.3H57.5V87.8H56z"/>
<path fill="#9cf630" d="M42.5 30.8H44V32.3H42.5zM56 71.3H57.5V72.8H56zM56 77.3H57.5V78.8H56zM56 93.8H57.5V95.3H56zM56 98.3H57.5V99.8H56z"/>
<path fill="#6cf64e" d="M44 30.8H45.5V32.3H44zM44 32.3H45.5V33.8H44zM47 33.8H48.5V35.3H47zM47 38.3H48.5V39.8H47zM54.5 44.3H56V45.8H54.5zM48.5 47.3H50V48.8H48.5zM50 50.3H51.5V51.8H50zM53 53.3H54.5V54.8H53zM54.5 56.3H56V57.8H54.5zM56 60.8H57.5V62.3H56zM54.5 63.8H56V65.3H54.5zM57.5 75.8H59V77.3H57.5zM62 86.3H63.5V87.8H62zM59 93.8H60.5V95.3H59zM62 104.3H63.5V105.8H62zM60.5 105.8H62V107.3H60.5zM62 108.8H63.5V110.3H62z"/>
<path fill="#5af660" d="M47 30.8H48.5V32.3H47zM48.5 36.8H50V38.3H48.5zM56 41.3H57.5V42.8H56zM53 42.8H54.5V44.3H53zM56 42.8H57.5V44.3H56zM57.5 57.8H59V59.3H57.5zM59 77.3H60.5V78.8H59zM60.5 77.3H62V78.8H60.5zM65 89.3H66.5V90.8H65z"/>
<path fill="#fc7818" d="M6.5 32.3H8V33.8H6.5zM9.5 32.3H11V33.8H9.5zM6.5 33.8H8V35.3H6.5zM9.5 33.8H11V35.3H9.5zM21.5 44.3H23V45.8H21.5zM23 44.3H24.5V45.8H23zM24.5 45.8H26V47.3H24.5zM12.5 50.3H14V51.8H12.5zM12.5 51.8H14V53.3H12.5zM18.5 57.8H20V59.3H18.5zM23 57.8H24.5V59.3H23zM15.5 60.8H17V62.3H15.5zM20 60.8H21.5V62.3H20zM17 62.3H18.5V63.8H17zM18.5 62.3H20V63.8H18.5zM20 62.3H21.5V63.8H20zM15.5 63.8H17V65.3H15.5zM17 63.8H18.5V65.3H17zM20 63.8H21.5V65.3H20zM33.5 69.8H35V71.3H33.5zM36.5 69.8H38V71.3H36.5zM5 71.3H6.5V72.8H5zM14 72.8H15.5V74.3H14zM20 72.8H21.5V74.3H20zM21.5 74.3H23V75.8H21.5zM23 74.3H24.5V75.8H23zM24.5 74.3H26V75.8H24.5zM33.5 74.3H35V75.8H33.5zM36.5 74.3H38V75.8H36.5zM14 75.8H15.5V77.3H14zM15.5 75.8H17V77.3H15.5zM17 75.8H18.5V77.3H17zM18.5 75.8H20V77.3H18.5zM24.5 75.8H26V77.3H24.5zM14 77.3H15.5V78.8H14zM15.5 77.3H17V78.8H15.5zM17 77.3H18.5V78.8H17zM11 78.8H12.5V80.3H11zM12.5 78.8H14V80.3H12.5zM14 78.8H15.5V80.3H14zM15.5 78.8H17V80.3H15.5zM32 78.8H33.5V80.3H32zM35 78.8H36.5V80.3H35zM32 80.3H33.5V81.8H32zM8 81.8H9.5V83.3H8zM9.5 81.8H11V83.3H9.5zM18.5 81.8H20V83.3H18.5zM35 81.8H36.5V83.3H35zM9.5 83.3H11V84.8H9.5zM30.5 83.3H32V84.8H30.5zM33.5 83.3H35V84.8H33.5zM35 83.3H36.5V84.8H35zM6.5 84.8H8V86.3H6.5zM9.5 84.8H11V86.3H9.5zM23 84.8H24.5V86.3H23zM32 84.8H33.5V86.3H32zM36.5 84.8H38V86.3H36.5zM8 86.3H9.5V87.8H8zM9.5 86.3H11V87.8H9.5zM18.5 86.3H20V87.8H18.5zM23 86.3H24.5V87.8H23zM24.5 86.3H26V87.8H24.5zM26 86.3H27.5V87.8H26zM6.5 87.8H8V89.3H6.5zM8 87.8H9.5V89.3H8zM9.5 87.8H11V89.3H9.5zM18.5 87.8H20V89.3H18.5zM23 87.8H24.5V89.3H23zM24.5 87.8H26V89.3H24.5zM6.5 89.3H8V90.8H6.5zM9.5 89.3H11V90.8H9.5zM20 89.3H21.5V90.8H20zM21.5 89.3H23V90.8H21.5zM23 89.3H24.5V90.8H23zM24.5 89.3H26V90.8H24.5zM29 89.3H30.5V90.8H29zM30.5 89.3H32V90.8H30.5zM2 90.8H3.5V92.3H2zM12.5 90.8H14V92.3H12.5zM14 90.8H15.5V92.3H14zM17 90.8H18.5V92.3H17zM18.5 90.8H20V92.3H18.5zM20 90.8H21.5V92.3H20zM2 92.3H3.5V93.8H2zM8 93.8H9.5V95.3H8zM17 93.8H18.5V95.3H17zM20 93.8H21.5V95.3H20zM8 95.3H9.5V96.8H8zM9.5 95.3H11V96.8H9.5zM12.5 95.3H14V96.8H12.5zM14 95.3H15.5V96.8H14zM18.5 95.3H20V96.8H18.5zM17 96.8H18.5V98.3H17zM20 96.8H21.5V98.3H20zM39.5 96.8H41V98.3H39.5zM17 98.3H18.5V99.8H17zM18.5 98.3H20V99.8H18.5zM20 98.3H21.5V99.8H20zM21.5 98.3H23V99.8H21.5zM26 98.3H27.5V99.8H26zM27.5 98.3H29V99.8H27.5zM39.5 98.3H41V99.8H39.5zM17 99.8H18.5V101.3H17zM20 99.8H21.5V101.3H20zM21.5 99.8H23V101.3H21.5zM29 99.8H30.5V101.3H29zM20 101.3H21.5V102.8H20zM29 101.3H30.5V102.8H29zM5 102.8H6.5V104.3H5zM8 102.8H9.5V104.3H8zM20 102.8H21.5V104.3H20zM30.5 102.8H32V104.3H30.5zM33.5 102.8H35V104.3H33.5zM38 102.8H39.5V104.3H38zM39.5 102.8H41V104.3H39.5zM2 104.3H3.5V105.8H2zM5 104.3H6.5V105.8H5zM9.5 104.3H11V105.8H9.5zM29 104.3H30.5V105.8H29zM32 104.3H33.5V105.8H32zM36.5 104.3H38V105.8H36.5zM38 104.3H39.5V105.8H38zM39.5 104.3H41V105.8H39.5zM3.5 105.8H5V107.3H3.5zM11 105.8H12.5V107.3H11zM29 105.8H30.5V107.3H29zM33.5 105.8H35V107.3H33.5zM14 107.3H15.5V108.8H14zM21.5 107.3H23V108.8H21.5zM24.5 107.3H26V108.8H24.5zM26 107.3H27.5V108.8H26zM27.5 107.3H29V108.8H27.5zM29 107.3H30.5V108.8H29zM30.5 107.3H32V108.8H30.5zM35 107.3H36.5V108.8H35zM14 108.8H15.5V110.3H14zM26 108.8H27.5V110.3H26zM27.5 108.8H29V110.3H27.5zM29 108.8H30.5V110.3H29zM30.5 108.8H32V110.3H30.5zM33.5 108.8H35V110.3H33.5zM35 108.8H36.5V110.3H35z"/>
<path fill="#5af65a" d="M45.5 32.3H47V33.8H45.5zM47 41.3H48.5V42.8H47zM51.5 41.3H53V42.8H51.5zM57.5 66.8H59V68.3H57.5zM60.5 93.8H62V95.3H60.5z"/>
<path fill="#48f06c" d="M48.5 32.3H50V33.8H48.5zM48.5 39.8H50V41.3H48.5zM54.5 39.8H56V41.3H54.5zM48.5 41.3H50V42.8H48.5zM57.5 44.3H59V45.8H57.5zM51.5 45.8H53V47.3H51.5zM53 45.8H54.5V47.3H53zM57.5 45.8H59V47.3H57.5zM51.5 47.3H53V48.8H51.5zM53 48.8H54.5V50.3H53zM53 50.3H54.5V51.8H53zM56 50.3H57.5V51.8H56zM56 56.3H57.5V57.8H56zM56 57.8H57.5V59.3H56zM60.5 59.3H62V60.8H60.5zM59 60.8H60.5V62.3H59zM59 62.3H60.5V63.8H59zM60.5 71.3H62V72.8H60.5zM62 72.8H63.5V74.3H62zM65 72.8H66.5V74.3H65zM68 72.8H69.5V74.3H68zM65 74.3H66.5V75.8H65zM66.5 74.3H68V75.8H66.5zM59 78.8H60.5V80.3H59zM62 81.8H63.5V83.3H62zM66.5 89.3H68V90.8H66.5zM63.5 95.3H65V96.8H63.5zM66.5 99.8H68V101.3H66.5zM63.5 101.3H65V102.8H63.5zM65 101.3H66.5V102.8H65zM65 104.3H66.5V105.8H65z"/>
<path fill="#2af07e" d="M51.5 32.3H53V33.8H51.5zM50 33.8H51.5V35.3H50zM53 38.3H54.5V39.8H53zM54.5 38.3H56V39.8H54.5zM56 38.3H57.5V39.8H56zM59 44.3H60.5V45.8H59zM60.5 45.8H62V47.3H60.5zM68 68.3H69.5V69.8H68zM60.5 69.8H62V71.3H60.5zM63.5 69.8H65V71.3H63.5zM63.5 71.3H65V72.8H63.5zM65 71.3H66.5V72.8H65zM69.5 74.3H71V75.8H69.5zM68 77.3H69.5V78.8H68zM65 84.8H66.5V86.3H65zM71 92.3H72.5V93.8H71zM66.5 93.8H68V95.3H66.5zM65 95.3H66.5V96.8H65zM68 96.8H69.5V98.3H68zM69.5 99.8H71V101.3H69.5zM68 101.3H69.5V102.8H68zM66.5 104.3H68V105.8H66.5zM68 107.3H69.5V108.8H68zM69.5 107.3H71V108.8H69.5z"/>
<path fill="#1ef08a" d="M53 32.3H54.5V33.8H53zM53 33.8H54.5V35.3H53zM53 35.3H54.5V36.8H53zM54.5 36.8H56V38.3H54.5zM71 41.3H72.5V42.8H71zM71 42.8H72.5V44.3H71zM60.5 53.3H62V54.8H60.5zM62 56.3H63.5V57.8H62zM63.5 63.8H65V65.3H63.5zM60.5 66.8H62V68.3H60.5zM69.5 68.3H71V69.8H69.5zM65 69.8H66.5V71.3H65zM69.5 69.8H71V71.3H69.5zM65 81.8H66.5V83.3H65zM69.5 87.8H71V89.3H69.5zM71 102.8H72.5V104.3H71z"/>
<path fill="#12f0ea" d="M78.5 32.3H80V33.8H78.5zM80 35.3H81.5V36.8H80zM81.5 35.3H83V36.8H81.5zM83 35.3H84.5V36.8H83zM78.5 36.8H80V38.3H78.5zM80 36.8H81.5V38.3H80zM83 71.3H84.5V72.8H83zM83 72.8H84.5V74.3H83zM80 74.3H81.5V75.8H80zM80 75.8H81.5V77.3H80zM80 77.3H81.5V78.8H80zM74 81.8H75.5V83.3H74zM77 83.3H78.5V84.8H77zM80 87.8H81.5V89.3H80zM83 87.8H84.5V89.3H83zM78.5 95.3H80V96.8H78.5zM81.5 96.8H83V98.3H81.5zM81.5 98.3H83V99.8H81.5zM83 98.3H84.5V99.8H83zM81.5 99.8H83V101.3H81.5zM81.5 102.8H83V104.3H81.5zM80 104.3H81.5V105.8H80zM78.5 107.3H80V108.8H78.5zM81.5 107.3H83V108.8H81.5zM78.5 108.8H80V110.3H78.5zM81.5 108.8H83V110.3H81.5z"/>
<path fill="#fcae18" d="M29 33.8H30.5V35.3H29zM29 35.3H30.5V36.8H29zM30.5 39.8H32V41.3H30.5zM32 42.8H33.5V44.3H32zM33.5 45.8H35V47.3H33.5zM39.5 59.3H41V60.8H39.5zM39.5 63.8H41V65.3H39.5zM39.5 66.8H41V68.3H39.5zM39.5 68.3H41V69.8H39.5zM42.5 72.8H44V74.3H42.5zM42.5 74.3H44V75.8H42.5zM42.5 78.8H44V80.3H42.5zM44 81.8H45.5V83.3H44zM44 87.8H45.5V89.3H44zM44 90.8H45.5V92.3H44zM44 99.8H45.5V101.3H44zM45.5 101.3H47V102.8H45.5z"/>
<path fill="#eaf624" d="M38 33.8H39.5V35.3H38zM38 36.8H39.5V38.3H38zM38 38.3H39.5V39.8H38zM45.5 56.3H47V57.8H45.5zM50 63.8H51.5V65.3H50zM50 65.3H51.5V66.8H50zM53 75.8H54.5V77.3H53zM53 78.8H54.5V80.3H53zM56 101.3H57.5V102.8H56zM54.5 104.3H56V105.8H54.5zM54.5 105.8H56V107.3H54.5z"/>
<path fill="#c0f62a" d="M39.5 33.8H41V35.3H39.5zM45.5 48.8H47V50.3H45.5zM48.5 53.3H50V54.8H48.5zM56 84.8H57.5V86.3H56zM56 107.3H57.5V108.8H56zM56 108.8H57.5V110.3H56z"/>
<path fill="#a8f630" d="M41 33.8H42.5V35.3H41zM44 38.3H45.5V39.8H44zM50 53.3H51.5V54.8H50zM53 62.3H54.5V63.8H53zM53 65.3H54.5V66.8H53zM54.5 75.8H56V77.3H54.5zM57.5 83.3H59V84.8H57.5zM57.5 84.8H59V86.3H57.5zM56 87.8H57.5V89.3H56zM56 95.3H57.5V96.8H56zM57.5 102.8H59V104.3H57.5zM57.5 108.8H59V110.3H57.5z"/>
<path fill="#96f636" d="M42.5 33.8H44V35.3H42.5zM45.5 38.3H47V39.8H45.5zM45.5 42.8H47V44.3H45.5zM47 51.8H48.5V53.3H47zM53 60.8H54.5V62.3H53zM53 63.8H54.5V65.3H53zM56 74.3H57.5V75.8H56zM59 89.3H60.5V90.8H59zM56 96.8H57.5V98.3H56z"/>
<path fill="#78f648" d="M44 33.8H45.5V35.3H44zM47 36.8H48.5V38.3H47zM53 54.8H54.5V56.3H53zM56 59.3H57.5V60.8H56zM57.5 59.3H59V60.8H57.5zM57.5 60.8H59V62.3H57.5zM57.5 62.3H59V63.8H57.5zM56 69.8H57.5V71.3H56zM59 71.3H60.5V72.8H59zM57.5 72.8H59V74.3H57.5zM57.5 74.3H59V75.8H57.5zM60.5 83.3H62V84.8H60.5zM60.5 84.8H62V86.3H60.5zM60.5 86.3H62V87.8H60.5zM59 87.8H60.5V89.3H59zM60.5 87.8H62V89.3H60.5zM63.5 89.3H65V90.8H63.5zM59 90.8H60.5V92.3H59zM57.5 92.3H59V93.8H57.5zM60.5 99.8H62V101.3H60.5z"/>
<path fill="#6cf654" d="M45.5 33.8H47V35.3H45.5zM57.5 78.8H59V80.3H57.5zM62 84.8H63.5V86.3H62zM59 92.3H60.5V93.8H59zM62 107.3H63.5V108.8H62z"/>
<path fill="#48f066" d="M48.5 33.8H50V35.3H48.5zM65 90.8H66.5V92.3H65zM63.5 93.8H65V95.3H63.5zM65 98.3H66.5V99.8H65zM63.5 107.3H65V108.8H63.5z"/>
<path fill="#18f096" d="M62 33.8H63.5V35.3H62zM66.5 33.8H68V35.3H66.5zM66.5 35.3H68V36.8H66.5zM60.5 36.8H62V38.3H60.5zM62 36.8H63.5V38.3H62zM60.5 39.8H62V41.3H60.5zM68 42.8H69.5V44.3H68zM69.5 42.8H71V44.3H69.5zM69.5 44.3H71V45.8H69.5zM62 45.8H63.5V47.3H62zM68 47.3H69.5V48.8H68zM68 48.8H69.5V50.3H68zM69.5 48.8H71V50.3H69.5zM63.5 54.8H65V56.3H63.5zM63.5 56.3H65V57.8H63.5zM75.5 62.3H77V63.8H75.5zM62 65.3H63.5V66.8H62zM65 66.8H66.5V68.3H65zM71 69.8H72.5V71.3H71zM71 77.3H72.5V78.8H71zM69.5 80.3H71V81.8H69.5zM68 81.8H69.5V83.3H68zM66.5 83.3H68V84.8H66.5zM68 84.8H69.5V86.3H68zM71 87.8H72.5V89.3H71zM72.5 108.8H74V110.3H72.5z"/>
<path fill="#18f0e4" d="M81.5 33.8H83V35.3H81.5zM80 71.3H81.5V72.8H80zM74 86.3H75.5V87.8H74zM78.5 86.3H80V87.8H78.5zM80 86.3H81.5V87.8H80zM78.5 96.8H80V98.3H78.5z"/>
<path fill="#f0f624" d="M38 35.3H39.5V36.8H38zM38 39.8H39.5V41.3H38zM38 41.3H39.5V42.8H38zM41 47.3H42.5V48.8H41zM42.5 50.3H44V51.8H42.5zM47 57.8H48.5V59.3H47zM50 59.3H51.5V60.8H50zM50 60.8H51.5V62.3H50zM50 62.3H51.5V63.8H50zM50 69.8H51.5V71.3H50zM53 74.3H54.5V75.8H53zM54.5 90.8H56V92.3H54.5zM53 95.3H54.5V96.8H53zM53 99.8H54.5V101.3H53zM54.5 99.8H56V101.3H54.5zM54.5 101.3H56V102.8H54.5z"/>
<path fill="#8af63c" d="M44 35.3H45.5V36.8H44zM59 102.8H60.5V104.3H59z"/>
<path fill="#72f648" d="M45.5 35.3H47V36.8H45.5zM50 48.8H51.5V50.3H50zM54.5 53.3H56V54.8H54.5zM56 62.3H57.5V63.8H56zM60.5 98.3H62V99.8H60.5zM62 105.8H63.5V107.3H62z"/>
<path fill="#72f64e" d="M47 35.3H48.5V36.8H47zM62 87.8H63.5V89.3H62z"/>
<path fill="#54f660" d="M48.5 35.3H50V36.8H48.5zM48.5 42.8H50V44.3H48.5zM51.5 44.3H53V45.8H51.5zM56 44.3H57.5V45.8H56zM56 45.8H57.5V47.3H56zM50 47.3H51.5V48.8H50zM54.5 47.3H56V48.8H54.5zM56 63.8H57.5V65.3H56zM57.5 65.3H59V66.8H57.5zM57.5 68.3H59V69.8H57.5zM59 75.8H60.5V77.3H59zM60.5 78.8H62V80.3H60.5zM63.5 84.8H65V86.3H63.5zM62 92.3H63.5V93.8H62zM60.5 96.8H62V98.3H60.5zM63.5 99.8H65V101.3H63.5zM63.5 104.3H65V105.8H63.5zM63.5 108.8H65V110.3H63.5zM66.5 108.8H68V110.3H66.5z"/>
<path fill="#ccf62a" d="M39.5 36.8H41V38.3H39.5zM39.5 38.3H41V39.8H39.5zM41 38.3H42.5V39.8H41zM39.5 42.8H41V44.3H39.5zM42.5 44.3H44V45.8H42.5zM42.5 45.8H44V47.3H42.5zM44 50.3H45.5V51.8H44zM50 54.8H51.5V56.3H50zM51.5 65.3H53V66.8H51.5zM51.5 66.8H53V68.3H51.5zM54.5 80.3H56V81.8H54.5zM54.5 96.8H56V98.3H54.5zM54.5 98.3H56V99.8H54.5zM56 102.8H57.5V104.3H56zM56 104.3H57.5V105.8H56zM54.5 107.3H56V108.8H54.5z"/>
<path fill="#aef630" d="M44 36.8H45.5V38.3H44zM44 39.8H45.5V41.3H44zM44 44.3H45.5V45.8H44zM44 45.8H45.5V47.3H44zM45.5 47.3H47V48.8H45.5zM53 68.3H54.5V69.8H53zM54.5 72.8H56V74.3H54.5zM54.5 77.3H56V78.8H54.5zM54.5 78.8H56V80.3H54.5zM57.5 86.3H59V87.8H57.5zM57.5 104.3H59V105.8H57.5z"/>
<path fill="#30f078" d="M51.5 36.8H53V38.3H51.5zM50 38.3H51.5V39.8H50zM59 42.8H60.5V44.3H59zM57.5 47.3H59V48.8H57.5zM59 47.3H60.5V48.8H59zM57.5 48.8H59V50.3H57.5zM60.5 48.8H62V50.3H60.5zM63.5 77.3H65V78.8H63.5zM66.5 86.3H68V87.8H66.5zM66.5 92.3H68V93.8H66.5zM68 98.3H69.5V99.8H68zM69.5 98.3H71V99.8H69.5zM71 105.8H72.5V107.3H71z"/>
<path fill="#60f65a" d="M47 39.8H48.5V41.3H47zM54.5 41.3H56V42.8H54.5zM47 44.3H48.5V45.8H47zM51.5 51.8H53V53.3H51.5zM60.5 81.8H62V83.3H60.5zM62 102.8H63.5V104.3H62zM60.5 107.3H62V108.8H60.5zM60.5 108.8H62V110.3H60.5z"/>
<path fill="#fcd218" d="M33.5 41.3H35V42.8H33.5zM44 59.3H45.5V60.8H44zM44 65.3H45.5V66.8H44zM44 69.8H45.5V71.3H44zM48.5 77.3H50V78.8H48.5zM48.5 78.8H50V80.3H48.5zM48.5 80.3H50V81.8H48.5zM45.5 83.3H47V84.8H45.5zM45.5 84.8H47V86.3H45.5zM47 89.3H48.5V90.8H47zM47 90.8H48.5V92.3H47zM50 92.3H51.5V93.8H50zM47 95.3H48.5V96.8H47zM48.5 95.3H50V96.8H48.5zM47 98.3H48.5V99.8H47zM48.5 98.3H50V99.8H48.5zM50 101.3H51.5V102.8H50zM50 104.3H51.5V105.8H50zM50 105.8H51.5V107.3H50z"/>
<path fill="#8af636" d="M45.5 41.3H47V42.8H45.5zM47 48.8H48.5V50.3H47zM51.5 54.8H53V56.3H51.5zM54.5 68.3H56V69.8H54.5zM57.5 80.3H59V81.8H57.5zM59 104.3H60.5V105.8H59zM59 105.8H60.5V107.3H59z"/>
<path fill="#4ef060" d="M57.5 41.3H59V42.8H57.5zM51.5 50.3H53V51.8H51.5zM66.5 72.8H68V74.3H66.5zM63.5 92.3H65V93.8H63.5z"/>
<path fill="#fc6c18" d="M24.5 44.3H26V45.8H24.5zM21.5 86.3H23V87.8H21.5zM20 87.8H21.5V89.3H20zM21.5 87.8H23V89.3H21.5zM26 89.3H27.5V90.8H26zM18.5 96.8H20V98.3H18.5zM26 99.8H27.5V101.3H26zM27.5 99.8H29V101.3H27.5zM21.5 101.3H23V102.8H21.5zM23 101.3H24.5V102.8H23zM24.5 101.3H26V102.8H24.5zM27.5 101.3H29V102.8H27.5zM8 104.3H9.5V105.8H8zM21.5 104.3H23V105.8H21.5zM23 104.3H24.5V105.8H23zM24.5 104.3H26V105.8H24.5zM21.5 105.8H23V107.3H21.5zM23 105.8H24.5V107.3H23zM24.5 105.8H26V107.3H24.5zM26 105.8H27.5V107.3H26zM27.5 105.8H29V107.3H27.5zM9.5 107.3H11V108.8H9.5zM11 107.3H12.5V108.8H11zM32 107.3H33.5V108.8H32zM8 108.8H9.5V110.3H8zM9.5 108.8H11V110.3H9.5z"/>
<path fill="#def624" d="M39.5 44.3H41V45.8H39.5zM41 44.3H42.5V45.8H41zM45.5 54.8H47V56.3H45.5zM51.5 69.8H53V71.3H51.5zM54.5 87.8H56V89.3H54.5zM54.5 92.3H56V93.8H54.5zM53 98.3H54.5V99.8H53zM54.5 102.8H56V104.3H54.5zM56 105.8H57.5V107.3H56z"/>
<path fill="#f6f624" d="M39.5 45.8H41V47.3H39.5zM42.5 48.8H44V50.3H42.5z"/>
<path fill="#fc7218" d="M2 47.3H3.5V48.8H2zM18.5 59.3H20V60.8H18.5zM17 60.8H18.5V62.3H17zM18.5 60.8H20V62.3H18.5zM20 74.3H21.5V75.8H20zM35 74.3H36.5V75.8H35zM20 75.8H21.5V77.3H20zM17 78.8H18.5V80.3H17zM35 80.3H36.5V81.8H35zM32 83.3H33.5V84.8H32zM8 84.8H9.5V86.3H8zM18.5 84.8H20V86.3H18.5zM20 84.8H21.5V86.3H20zM21.5 84.8H23V86.3H21.5zM33.5 84.8H35V86.3H33.5zM35 84.8H36.5V86.3H35zM20 86.3H21.5V87.8H20zM26 87.8H27.5V89.3H26zM27.5 89.3H29V90.8H27.5zM18.5 93.8H20V95.3H18.5zM14 96.8H15.5V98.3H14zM23 99.8H24.5V101.3H23zM24.5 99.8H26V101.3H24.5zM39.5 99.8H41V101.3H39.5zM2 102.8H3.5V104.3H2zM3.5 102.8H5V104.3H3.5zM29 102.8H30.5V104.3H29zM3.5 104.3H5V105.8H3.5zM33.5 104.3H35V105.8H33.5zM9.5 105.8H11V107.3H9.5zM12.5 107.3H14V108.8H12.5zM33.5 107.3H35V108.8H33.5zM11 108.8H12.5V110.3H11zM12.5 108.8H14V110.3H12.5zM32 108.8H33.5V110.3H32z"/>
<path fill="#84f63c" d="M47 47.3H48.5V48.8H47zM48.5 48.8H50V50.3H48.5zM47 50.3H48.5V51.8H47zM48.5 50.3H50V51.8H48.5zM54.5 60.8H56V62.3H54.5zM54.5 65.3H56V66.8H54.5zM59 83.3H60.5V84.8H59zM59 86.3H60.5V87.8H59zM63.5 87.8H65V89.3H63.5zM60.5 89.3H62V90.8H60.5zM62 89.3H63.5V90.8H62zM59 95.3H60.5V96.8H59zM57.5 96.8H59V98.3H57.5z"/>
<path fill="#30f07e" d="M60.5 50.3H62V51.8H60.5zM56 51.8H57.5V53.3H56zM60.5 56.3H62V57.8H60.5zM63.5 68.3H65V69.8H63.5zM66.5 69.8H68V71.3H66.5zM62 71.3H63.5V72.8H62zM69.5 72.8H71V74.3H69.5zM71 72.8H72.5V74.3H71zM68 74.3H69.5V75.8H68zM62 75.8H63.5V77.3H62zM63.5 75.8H65V77.3H63.5zM63.5 80.3H65V81.8H63.5zM65 96.8H66.5V98.3H65zM66.5 96.8H68V98.3H66.5zM69.5 101.3H71V102.8H69.5zM68 105.8H69.5V107.3H68zM69.5 105.8H71V107.3H69.5z"/>
<path fill="#7ef642" d="M50 51.8H51.5V53.3H50zM53 57.8H54.5V59.3H53zM57.5 81.8H59V83.3H57.5zM59 84.8H60.5V86.3H59zM57.5 93.8H59V95.3H57.5zM59 98.3H60.5V99.8H59zM60.5 101.3H62V102.8H60.5zM59 107.3H60.5V108.8H59zM59 108.8H60.5V110.3H59z"/>
<path fill="#78f642" d="M51.5 53.3H53V54.8H51.5zM53 56.3H54.5V57.8H53zM54.5 66.8H56V68.3H54.5zM57.5 77.3H59V78.8H57.5z"/>
<path fill="#2af084" d="M60.5 54.8H62V56.3H60.5zM68 69.8H69.5V71.3H68zM69.5 71.3H71V72.8H69.5zM68 95.3H69.5V96.8H68z"/>
<path fill="#12eaea" d="M77 81.8H78.5V83.3H77zM80 89.3H81.5V90.8H80zM81.5 104.3H83V105.8H81.5zM78.5 105.8H80V107.3H78.5zM81.5 105.8H83V107.3H81.5z"/>
<path fill="#12e4ea" d="M83 89.3H84.5V90.8H83zM80 105.8H81.5V107.3H80zM80 107.3H81.5V108.8H80zM80 108.8H81.5V110.3H80z"/>
<path fill="#fc6618" d="M26 101.3H27.5V102.8H26zM8 105.8H9.5V107.3H8zM8 107.3H9.5V108.8H8z"/>
<path fill="#fc6018" d="M21.5 102.8H23V104.3H21.5zM23 102.8H24.5V104.3H23zM24.5 102.8H26V104.3H24.5zM27.5 102.8H29V104.3H27.5zM26 104.3H27.5V105.8H26zM27.5 104.3H29V105.8H27.5z"/>
<path fill="#fc5418" d="M26 102.8H27.5V104.3H26z"/></g><ellipse cx="59.5" cy="38.3" rx="4" ry="4.4" fill="#20e8f0" opacity="0.5"/><ellipse cx="59.5" cy="38.3" rx="2.5" ry="2.8" fill="#0a16d8"/><ellipse cx="59.5" cy="65.2" rx="4" ry="4.4" fill="#20e8f0" opacity="0.5"/><ellipse cx="59.5" cy="65.2" rx="2.5" ry="2.8" fill="#0a16d8"/><ellipse cx="59.5" cy="88.7" rx="4" ry="4.4" fill="#20e8f0" opacity="0.5"/><ellipse cx="59.5" cy="88.7" rx="2.5" ry="2.8" fill="#0a16d8"/></g></g>
<g clip-path="url(#c1)"><g filter="url(#bl)"><g shape-rendering="crispEdges"><path fill="#fc4812" d="M79 27.8H80.5V29.3H79zM95.5 27.8H97V29.3H95.5zM80.5 30.8H82V32.3H80.5zM85 30.8H86.5V32.3H85zM80.5 32.3H82V33.8H80.5zM82 32.3H83.5V33.8H82zM86.5 32.3H88V33.8H86.5zM80.5 33.8H82V35.3H80.5zM83.5 33.8H85V35.3H83.5zM86.5 33.8H88V35.3H86.5zM94 36.8H95.5V38.3H94zM95.5 36.8H97V38.3H95.5zM79 38.3H80.5V39.8H79zM97 38.3H98.5V39.8H97zM79 39.8H80.5V41.3H79zM94 39.8H95.5V41.3H94zM79 41.3H80.5V42.8H79zM94 41.3H95.5V42.8H94zM94 42.8H95.5V44.3H94zM79 44.3H80.5V45.8H79zM92.5 44.3H94V45.8H92.5zM94 44.3H95.5V45.8H94zM92.5 45.8H94V47.3H92.5zM92.5 47.3H94V48.8H92.5zM92.5 48.8H94V50.3H92.5zM92.5 50.3H94V51.8H92.5zM94 50.3H95.5V51.8H94zM85 51.8H86.5V53.3H85zM86.5 51.8H88V53.3H86.5zM95.5 51.8H97V53.3H95.5zM98.5 51.8H100V53.3H98.5zM97 53.3H98.5V54.8H97zM85 54.8H86.5V56.3H85zM86.5 54.8H88V56.3H86.5zM82 56.3H83.5V57.8H82zM83.5 56.3H85V57.8H83.5zM86.5 56.3H88V57.8H86.5zM98.5 56.3H100V57.8H98.5zM82 57.8H83.5V59.3H82zM85 57.8H86.5V59.3H85zM86.5 57.8H88V59.3H86.5zM91 57.8H92.5V59.3H91zM85 59.3H86.5V60.8H85zM86.5 59.3H88V60.8H86.5zM88 59.3H89.5V60.8H88zM89.5 59.3H91V60.8H89.5zM91 59.3H92.5V60.8H91zM94 59.3H95.5V60.8H94zM100 59.3H101.5V60.8H100zM83.5 60.8H85V62.3H83.5zM85 60.8H86.5V62.3H85zM86.5 60.8H88V62.3H86.5zM88 60.8H89.5V62.3H88zM92.5 60.8H94V62.3H92.5zM97 60.8H98.5V62.3H97zM83.5 62.3H85V63.8H83.5zM85 62.3H86.5V63.8H85zM86.5 62.3H88V63.8H86.5zM88 62.3H89.5V63.8H88zM89.5 62.3H91V63.8H89.5zM91 62.3H92.5V63.8H91zM92.5 62.3H94V63.8H92.5zM94 62.3H95.5V63.8H94zM98.5 62.3H100V63.8H98.5zM100 62.3H101.5V63.8H100zM82 63.8H83.5V65.3H82zM83.5 63.8H85V65.3H83.5zM85 63.8H86.5V65.3H85zM83.5 65.3H85V66.8H83.5zM85 65.3H86.5V66.8H85zM97 65.3H98.5V66.8H97zM98.5 65.3H100V66.8H98.5zM97 66.8H98.5V68.3H97zM98.5 66.8H100V68.3H98.5zM100 66.8H101.5V68.3H100zM97 68.3H98.5V69.8H97zM95.5 69.8H97V71.3H95.5zM98.5 69.8H100V71.3H98.5zM95.5 71.3H97V72.8H95.5zM98.5 71.3H100V72.8H98.5zM97 72.8H98.5V74.3H97zM98.5 72.8H100V74.3H98.5zM97 74.3H98.5V75.8H97zM91 77.3H92.5V78.8H91zM79 78.8H80.5V80.3H79zM85 78.8H86.5V80.3H85zM86.5 78.8H88V80.3H86.5zM88 78.8H89.5V80.3H88zM92.5 78.8H94V80.3H92.5zM98.5 78.8H100V80.3H98.5zM100 78.8H101.5V80.3H100zM79 80.3H80.5V81.8H79zM80.5 80.3H82V81.8H80.5zM82 80.3H83.5V81.8H82zM85 80.3H86.5V81.8H85zM88 80.3H89.5V81.8H88zM91 80.3H92.5V81.8H91zM100 80.3H101.5V81.8H100zM101.5 80.3H103V81.8H101.5zM79 81.8H80.5V83.3H79zM80.5 81.8H82V83.3H80.5zM85 81.8H86.5V83.3H85zM86.5 81.8H88V83.3H86.5zM83.5 83.3H85V84.8H83.5zM88 83.3H89.5V84.8H88zM89.5 83.3H91V84.8H89.5zM80.5 84.8H82V86.3H80.5zM85 84.8H86.5V86.3H85zM85 87.8H86.5V89.3H85zM92.5 89.3H94V90.8H92.5zM95.5 89.3H97V90.8H95.5zM97 89.3H98.5V90.8H97zM97 90.8H98.5V92.3H97zM98.5 90.8H100V92.3H98.5zM86.5 92.3H88V93.8H86.5zM100 92.3H101.5V93.8H100zM79 93.8H80.5V95.3H79zM80.5 93.8H82V95.3H80.5zM82 93.8H83.5V95.3H82zM85 93.8H86.5V95.3H85zM86.5 93.8H88V95.3H86.5zM79 95.3H80.5V96.8H79zM80.5 95.3H82V96.8H80.5zM82 95.3H83.5V96.8H82zM83.5 96.8H85V98.3H83.5zM85 96.8H86.5V98.3H85zM82 98.3H83.5V99.8H82zM83.5 98.3H85V99.8H83.5zM85 98.3H86.5V99.8H85zM88 98.3H89.5V99.8H88zM89.5 98.3H91V99.8H89.5zM79 99.8H80.5V101.3H79zM79 101.3H80.5V102.8H79zM98.5 101.3H100V102.8H98.5zM79 102.8H80.5V104.3H79zM82 102.8H83.5V104.3H82zM83.5 102.8H85V104.3H83.5zM88 102.8H89.5V104.3H88zM100 102.8H101.5V104.3H100zM97 104.3H98.5V105.8H97zM98.5 104.3H100V105.8H98.5zM100 104.3H101.5V105.8H100zM97 105.8H98.5V107.3H97zM98.5 105.8H100V107.3H98.5zM100 105.8H101.5V107.3H100zM97 107.3H98.5V108.8H97zM100 107.3H101.5V108.8H100zM97 108.8H98.5V110.3H97z"/>
<path fill="#fc5a18" d="M80.5 27.8H82V29.3H80.5zM91 27.8H92.5V29.3H91zM89.5 29.3H91V30.8H89.5zM94 29.3H95.5V30.8H94zM89.5 30.8H91V32.3H89.5zM94 30.8H95.5V32.3H94zM97 30.8H98.5V32.3H97zM97 32.3H98.5V33.8H97zM79 33.8H80.5V35.3H79zM89.5 33.8H91V35.3H89.5zM82 35.3H83.5V36.8H82zM92.5 35.3H94V36.8H92.5zM97 35.3H98.5V36.8H97zM98.5 35.3H100V36.8H98.5zM82 36.8H83.5V38.3H82zM82 39.8H83.5V41.3H82zM101.5 39.8H103V41.3H101.5zM80.5 41.3H82V42.8H80.5zM82 41.3H83.5V42.8H82zM83.5 41.3H85V42.8H83.5zM100 41.3H101.5V42.8H100zM83.5 42.8H85V44.3H83.5zM101.5 42.8H103V44.3H101.5zM80.5 44.3H82V45.8H80.5zM91 44.3H92.5V45.8H91zM101.5 44.3H103V45.8H101.5zM82 45.8H83.5V47.3H82zM103 45.8H104.5V47.3H103zM88 47.3H89.5V48.8H88zM83.5 48.8H85V50.3H83.5zM85 48.8H86.5V50.3H85zM86.5 48.8H88V50.3H86.5zM101.5 48.8H103V50.3H101.5zM103 48.8H104.5V50.3H103zM79 50.3H80.5V51.8H79zM101.5 50.3H103V51.8H101.5zM103 50.3H104.5V51.8H103zM103 51.8H104.5V53.3H103zM95.5 53.3H97V54.8H95.5zM100 53.3H101.5V54.8H100zM79 54.8H80.5V56.3H79zM80.5 54.8H82V56.3H80.5zM101.5 54.8H103V56.3H101.5zM104.5 54.8H106V56.3H104.5zM80.5 57.8H82V59.3H80.5zM79 59.3H80.5V60.8H79zM80.5 59.3H82V60.8H80.5zM103 60.8H104.5V62.3H103zM79 62.3H80.5V63.8H79zM94 63.8H95.5V65.3H94zM104.5 63.8H106V65.3H104.5zM94 65.3H95.5V66.8H94zM79 66.8H80.5V68.3H79zM79 68.3H80.5V69.8H79zM83.5 68.3H85V69.8H83.5zM85 68.3H86.5V69.8H85zM86.5 68.3H88V69.8H86.5zM85 69.8H86.5V71.3H85zM94 69.8H95.5V71.3H94zM82 71.3H83.5V72.8H82zM85 71.3H86.5V72.8H85zM86.5 71.3H88V72.8H86.5zM91 71.3H92.5V72.8H91zM94 71.3H95.5V72.8H94zM101.5 71.3H103V72.8H101.5zM91 72.8H92.5V74.3H91zM92.5 72.8H94V74.3H92.5zM94 72.8H95.5V74.3H94zM80.5 74.3H82V75.8H80.5zM86.5 74.3H88V75.8H86.5zM92.5 74.3H94V75.8H92.5zM95.5 74.3H97V75.8H95.5zM101.5 74.3H103V75.8H101.5zM86.5 75.8H88V77.3H86.5zM86.5 77.3H88V78.8H86.5zM88 77.3H89.5V78.8H88zM94 77.3H95.5V78.8H94zM97 77.3H98.5V78.8H97zM101.5 78.8H103V80.3H101.5zM94 80.3H95.5V81.8H94zM88 81.8H89.5V83.3H88zM92.5 81.8H94V83.3H92.5zM95.5 81.8H97V83.3H95.5zM97 81.8H98.5V83.3H97zM98.5 81.8H100V83.3H98.5zM100 81.8H101.5V83.3H100zM101.5 81.8H103V83.3H101.5zM95.5 83.3H97V84.8H95.5zM97 83.3H98.5V84.8H97zM100 83.3H101.5V84.8H100zM101.5 83.3H103V84.8H101.5zM94 84.8H95.5V86.3H94zM97 84.8H98.5V86.3H97zM101.5 84.8H103V86.3H101.5zM89.5 86.3H91V87.8H89.5zM82 87.8H83.5V89.3H82zM91 87.8H92.5V89.3H91zM94 87.8H95.5V89.3H94zM83.5 89.3H85V90.8H83.5zM89.5 89.3H91V90.8H89.5zM104.5 89.3H106V90.8H104.5zM101.5 90.8H103V92.3H101.5zM89.5 92.3H91V93.8H89.5zM92.5 92.3H94V93.8H92.5zM94 92.3H95.5V93.8H94zM104.5 92.3H106V93.8H104.5zM92.5 93.8H94V95.3H92.5zM94 93.8H95.5V95.3H94zM103 93.8H104.5V95.3H103zM83.5 95.3H85V96.8H83.5zM86.5 95.3H88V96.8H86.5zM89.5 95.3H91V96.8H89.5zM92.5 95.3H94V96.8H92.5zM94 95.3H95.5V96.8H94zM95.5 95.3H97V96.8H95.5zM94 98.3H95.5V99.8H94zM101.5 98.3H103V99.8H101.5zM86.5 99.8H88V101.3H86.5zM91 99.8H92.5V101.3H91zM94 101.3H95.5V102.8H94zM95.5 102.8H97V104.3H95.5zM101.5 102.8H103V104.3H101.5zM79 104.3H80.5V105.8H79zM83.5 105.8H85V107.3H83.5zM88 105.8H89.5V107.3H88zM79 107.3H80.5V108.8H79zM80.5 107.3H82V108.8H80.5zM82 107.3H83.5V108.8H82zM83.5 107.3H85V108.8H83.5zM85 107.3H86.5V108.8H85zM86.5 107.3H88V108.8H86.5zM92.5 108.8H94V110.3H92.5z"/>
<path fill="#fc6018" d="M82 27.8H83.5V29.3H82zM83.5 27.8H85V29.3H83.5zM89.5 27.8H91V29.3H89.5zM98.5 27.8H100V29.3H98.5zM82 29.3H83.5V30.8H82zM85 29.3H86.5V30.8H85zM86.5 29.3H88V30.8H86.5zM91 29.3H92.5V30.8H91zM92.5 29.3H94V30.8H92.5zM98.5 29.3H100V30.8H98.5zM88 30.8H89.5V32.3H88zM91 30.8H92.5V32.3H91zM92.5 30.8H94V32.3H92.5zM91 32.3H92.5V33.8H91zM92.5 32.3H94V33.8H92.5zM98.5 32.3H100V33.8H98.5zM88 33.8H89.5V35.3H88zM92.5 33.8H94V35.3H92.5zM94 33.8H95.5V35.3H94zM95.5 33.8H97V35.3H95.5zM98.5 33.8H100V35.3H98.5zM79 35.3H80.5V36.8H79zM89.5 35.3H91V36.8H89.5zM86.5 36.8H88V38.3H86.5zM89.5 36.8H91V38.3H89.5zM100 36.8H101.5V38.3H100zM82 38.3H83.5V39.8H82zM83.5 38.3H85V39.8H83.5zM85 38.3H86.5V39.8H85zM86.5 38.3H88V39.8H86.5zM101.5 38.3H103V39.8H101.5zM85 41.3H86.5V42.8H85zM85 42.8H86.5V44.3H85zM88 42.8H89.5V44.3H88zM89.5 42.8H91V44.3H89.5zM91 42.8H92.5V44.3H91zM82 44.3H83.5V45.8H82zM88 44.3H89.5V45.8H88zM89.5 44.3H91V45.8H89.5zM103 44.3H104.5V45.8H103zM80.5 45.8H82V47.3H80.5zM83.5 45.8H85V47.3H83.5zM85 45.8H86.5V47.3H85zM88 45.8H89.5V47.3H88zM101.5 45.8H103V47.3H101.5zM80.5 47.3H82V48.8H80.5zM85 47.3H86.5V48.8H85zM101.5 47.3H103V48.8H101.5zM103 47.3H104.5V48.8H103zM80.5 48.8H82V50.3H80.5zM82 48.8H83.5V50.3H82zM104.5 48.8H106V50.3H104.5zM106 48.8H107.5V50.3H106zM80.5 50.3H82V51.8H80.5zM82 50.3H83.5V51.8H82zM104.5 50.3H106V51.8H104.5zM107.5 50.3H109V51.8H107.5zM79 51.8H80.5V53.3H79zM80.5 51.8H82V53.3H80.5zM91 51.8H92.5V53.3H91zM101.5 51.8H103V53.3H101.5zM104.5 51.8H106V53.3H104.5zM92.5 53.3H94V54.8H92.5zM94 53.3H95.5V54.8H94zM101.5 53.3H103V54.8H101.5zM103 53.3H104.5V54.8H103zM89.5 54.8H91V56.3H89.5zM92.5 54.8H94V56.3H92.5zM94 54.8H95.5V56.3H94zM95.5 54.8H97V56.3H95.5zM97 54.8H98.5V56.3H97zM79 56.3H80.5V57.8H79zM80.5 56.3H82V57.8H80.5zM101.5 56.3H103V57.8H101.5zM103 56.3H104.5V57.8H103zM79 57.8H80.5V59.3H79zM101.5 57.8H103V59.3H101.5zM103 57.8H104.5V59.3H103zM101.5 59.3H103V60.8H101.5zM106 60.8H107.5V62.3H106zM109 60.8H110.5V62.3H109zM101.5 62.3H103V63.8H101.5zM88 63.8H89.5V65.3H88zM89.5 63.8H91V65.3H89.5zM92.5 63.8H94V65.3H92.5zM101.5 63.8H103V65.3H101.5zM103 63.8H104.5V65.3H103zM106 63.8H107.5V65.3H106zM109 63.8H110.5V65.3H109zM88 65.3H89.5V66.8H88zM89.5 65.3H91V66.8H89.5zM92.5 65.3H94V66.8H92.5zM104.5 65.3H106V66.8H104.5zM106 65.3H107.5V66.8H106zM109 65.3H110.5V66.8H109zM92.5 66.8H94V68.3H92.5zM94 66.8H95.5V68.3H94zM101.5 66.8H103V68.3H101.5zM103 66.8H104.5V68.3H103zM80.5 69.8H82V71.3H80.5zM83.5 69.8H85V71.3H83.5zM86.5 69.8H88V71.3H86.5zM101.5 69.8H103V71.3H101.5zM83.5 71.3H85V72.8H83.5zM88 71.3H89.5V72.8H88zM92.5 71.3H94V72.8H92.5zM82 72.8H83.5V74.3H82zM86.5 72.8H88V74.3H86.5zM79 74.3H80.5V75.8H79zM82 74.3H83.5V75.8H82zM85 74.3H86.5V75.8H85zM88 74.3H89.5V75.8H88zM94 74.3H95.5V75.8H94zM80.5 75.8H82V77.3H80.5zM85 75.8H86.5V77.3H85zM88 75.8H89.5V77.3H88zM89.5 75.8H91V77.3H89.5zM95.5 75.8H97V77.3H95.5zM101.5 75.8H103V77.3H101.5zM103 75.8H104.5V77.3H103zM80.5 77.3H82V78.8H80.5zM89.5 77.3H91V78.8H89.5zM101.5 77.3H103V78.8H101.5zM103 77.3H104.5V78.8H103zM83.5 78.8H85V80.3H83.5zM103 78.8H104.5V80.3H103zM104.5 80.3H106V81.8H104.5zM94 81.8H95.5V83.3H94zM103 81.8H104.5V83.3H103zM94 83.3H95.5V84.8H94zM98.5 83.3H100V84.8H98.5zM103 83.3H104.5V84.8H103zM98.5 84.8H100V86.3H98.5zM100 84.8H101.5V86.3H100zM91 86.3H92.5V87.8H91zM92.5 86.3H94V87.8H92.5zM95.5 86.3H97V87.8H95.5zM98.5 86.3H100V87.8H98.5zM101.5 86.3H103V87.8H101.5zM97 87.8H98.5V89.3H97zM98.5 87.8H100V89.3H98.5zM104.5 87.8H106V89.3H104.5zM80.5 89.3H82V90.8H80.5zM82 89.3H83.5V90.8H82zM103 89.3H104.5V90.8H103zM106 89.3H107.5V90.8H106zM89.5 90.8H91V92.3H89.5zM91 90.8H92.5V92.3H91zM91 92.3H92.5V93.8H91zM106 92.3H107.5V93.8H106zM104.5 93.8H106V95.3H104.5zM88 95.3H89.5V96.8H88zM97 95.3H98.5V96.8H97zM103 95.3H104.5V96.8H103zM92.5 96.8H94V98.3H92.5zM94 96.8H95.5V98.3H94zM100 96.8H101.5V98.3H100zM101.5 96.8H103V98.3H101.5zM92.5 98.3H94V99.8H92.5zM98.5 98.3H100V99.8H98.5zM103 98.3H104.5V99.8H103zM92.5 99.8H94V101.3H92.5zM95.5 99.8H97V101.3H95.5zM101.5 99.8H103V101.3H101.5zM89.5 101.3H91V102.8H89.5zM92.5 101.3H94V102.8H92.5zM95.5 101.3H97V102.8H95.5zM101.5 101.3H103V102.8H101.5zM94 102.8H95.5V104.3H94zM95.5 104.3H97V105.8H95.5zM79 105.8H80.5V107.3H79zM80.5 105.8H82V107.3H80.5zM82 105.8H83.5V107.3H82zM85 105.8H86.5V107.3H85zM86.5 105.8H88V107.3H86.5zM92.5 105.8H94V107.3H92.5zM94 105.8H95.5V107.3H94zM91 107.3H92.5V108.8H91zM92.5 107.3H94V108.8H92.5zM94 107.3H95.5V108.8H94zM103 107.3H104.5V108.8H103zM79 108.8H80.5V110.3H79zM80.5 108.8H82V110.3H80.5zM82 108.8H83.5V110.3H82zM83.5 108.8H85V110.3H83.5zM85 108.8H86.5V110.3H85zM88 108.8H89.5V110.3H88zM91 108.8H92.5V110.3H91z"/>
<path fill="#fc7218" d="M85 27.8H86.5V29.3H85zM100 27.8H101.5V29.3H100zM103 33.8H104.5V35.3H103zM106 36.8H107.5V38.3H106zM104.5 38.3H106V39.8H104.5zM86.5 39.8H88V41.3H86.5zM88 39.8H89.5V41.3H88zM104.5 42.8H106V44.3H104.5zM109 51.8H110.5V53.3H109zM106 53.3H107.5V54.8H106zM107.5 57.8H109V59.3H107.5zM107.5 60.8H109V62.3H107.5zM110.5 63.8H112V65.3H110.5zM107.5 65.3H109V66.8H107.5zM110.5 65.3H112V66.8H110.5zM110.5 66.8H112V68.3H110.5zM89.5 68.3H91V69.8H89.5zM103 68.3H104.5V69.8H103zM103 69.8H104.5V71.3H103zM79 71.3H80.5V72.8H79zM79 72.8H80.5V74.3H79zM109 75.8H110.5V77.3H109zM83.5 77.3H85V78.8H83.5zM106 78.8H107.5V80.3H106zM104.5 81.8H106V83.3H104.5zM106 81.8H107.5V83.3H106zM104.5 83.3H106V84.8H104.5zM106 83.3H107.5V84.8H106zM103 87.8H104.5V89.3H103zM109 87.8H110.5V89.3H109zM104.5 99.8H106V101.3H104.5zM104.5 101.3H106V102.8H104.5zM89.5 104.3H91V105.8H89.5zM106 105.8H107.5V107.3H106zM106 107.3H107.5V108.8H106zM107.5 108.8H109V110.3H107.5z"/>
<path fill="#fc6c18" d="M86.5 27.8H88V29.3H86.5zM88 27.8H89.5V29.3H88zM100 29.3H101.5V30.8H100zM98.5 30.8H100V32.3H98.5zM100 32.3H101.5V33.8H100zM91 33.8H92.5V35.3H91zM100 33.8H101.5V35.3H100zM101.5 33.8H103V35.3H101.5zM91 35.3H92.5V36.8H91zM101.5 35.3H103V36.8H101.5zM91 36.8H92.5V38.3H91zM101.5 36.8H103V38.3H101.5zM88 38.3H89.5V39.8H88zM91 38.3H92.5V39.8H91zM103 38.3H104.5V39.8H103zM89.5 39.8H91V41.3H89.5zM104.5 39.8H106V41.3H104.5zM86.5 41.3H88V42.8H86.5zM88 41.3H89.5V42.8H88zM89.5 41.3H91V42.8H89.5zM91 41.3H92.5V42.8H91zM103 41.3H104.5V42.8H103zM83.5 44.3H85V45.8H83.5zM86.5 44.3H88V45.8H86.5zM104.5 44.3H106V45.8H104.5zM106 45.8H107.5V47.3H106zM107.5 45.8H109V47.3H107.5zM104.5 47.3H106V48.8H104.5zM106 47.3H107.5V48.8H106zM89.5 53.3H91V54.8H89.5zM91 53.3H92.5V54.8H91zM104.5 53.3H106V54.8H104.5zM107.5 53.3H109V54.8H107.5zM109 54.8H110.5V56.3H109zM104.5 56.3H106V57.8H104.5zM109 56.3H110.5V57.8H109zM106 57.8H107.5V59.3H106zM109 57.8H110.5V59.3H109zM106 59.3H107.5V60.8H106zM109 59.3H110.5V60.8H109zM103 62.3H104.5V63.8H103zM104.5 62.3H106V63.8H104.5zM106 62.3H107.5V63.8H106zM109 62.3H110.5V63.8H109zM107.5 63.8H109V65.3H107.5zM91 65.3H92.5V66.8H91zM89.5 66.8H91V68.3H89.5zM91 66.8H92.5V68.3H91zM109 66.8H110.5V68.3H109zM88 68.3H89.5V69.8H88zM91 68.3H92.5V69.8H91zM92.5 68.3H94V69.8H92.5zM88 69.8H89.5V71.3H88zM89.5 69.8H91V71.3H89.5zM91 69.8H92.5V71.3H91zM103 71.3H104.5V72.8H103zM83.5 72.8H85V74.3H83.5zM88 72.8H89.5V74.3H88zM89.5 72.8H91V74.3H89.5zM103 72.8H104.5V74.3H103zM83.5 74.3H85V75.8H83.5zM103 74.3H104.5V75.8H103zM83.5 75.8H85V77.3H83.5zM104.5 75.8H106V77.3H104.5zM82 77.3H83.5V78.8H82zM106 80.3H107.5V81.8H106zM104.5 84.8H106V86.3H104.5zM107.5 86.3H109V87.8H107.5zM100 87.8H101.5V89.3H100zM107.5 87.8H109V89.3H107.5zM103 90.8H104.5V92.3H103zM106 90.8H107.5V92.3H106zM106 95.3H107.5V96.8H106zM97 96.8H98.5V98.3H97zM106 96.8H107.5V98.3H106zM95.5 98.3H97V99.8H95.5zM106 98.3H107.5V99.8H106zM103 99.8H104.5V101.3H103zM103 101.3H104.5V102.8H103zM91 102.8H92.5V104.3H91zM103 102.8H104.5V104.3H103zM104.5 102.8H106V104.3H104.5zM91 104.3H92.5V105.8H91zM92.5 104.3H94V105.8H92.5zM103 104.3H104.5V105.8H103zM104.5 104.3H106V105.8H104.5zM89.5 105.8H91V107.3H89.5zM91 105.8H92.5V107.3H91z"/>
<path fill="#fc5418" d="M92.5 27.8H94V29.3H92.5zM94 27.8H95.5V29.3H94zM80.5 29.3H82V30.8H80.5zM83.5 29.3H85V30.8H83.5zM95.5 29.3H97V30.8H95.5zM97 29.3H98.5V30.8H97zM95.5 30.8H97V32.3H95.5zM88 32.3H89.5V33.8H88zM94 32.3H95.5V33.8H94zM82 33.8H83.5V35.3H82zM80.5 35.3H82V36.8H80.5zM85 35.3H86.5V36.8H85zM86.5 35.3H88V36.8H86.5zM94 35.3H95.5V36.8H94zM95.5 35.3H97V36.8H95.5zM79 36.8H80.5V38.3H79zM85 36.8H86.5V38.3H85zM92.5 36.8H94V38.3H92.5zM80.5 38.3H82V39.8H80.5zM92.5 38.3H94V39.8H92.5zM80.5 39.8H82V41.3H80.5zM80.5 42.8H82V44.3H80.5zM92.5 42.8H94V44.3H92.5zM100 44.3H101.5V45.8H100zM89.5 45.8H91V47.3H89.5zM91 45.8H92.5V47.3H91zM100 45.8H101.5V47.3H100zM79 47.3H80.5V48.8H79zM89.5 47.3H91V48.8H89.5zM91 47.3H92.5V48.8H91zM100 47.3H101.5V48.8H100zM79 48.8H80.5V50.3H79zM88 48.8H89.5V50.3H88zM91 48.8H92.5V50.3H91zM85 50.3H86.5V51.8H85zM86.5 50.3H88V51.8H86.5zM89.5 50.3H91V51.8H89.5zM91 50.3H92.5V51.8H91zM89.5 51.8H91V53.3H89.5zM92.5 51.8H94V53.3H92.5zM100 51.8H101.5V53.3H100zM82 53.3H83.5V54.8H82zM85 53.3H86.5V54.8H85zM88 53.3H89.5V54.8H88zM98.5 53.3H100V54.8H98.5zM88 54.8H89.5V56.3H88zM98.5 54.8H100V56.3H98.5zM100 54.8H101.5V56.3H100zM103 54.8H104.5V56.3H103zM89.5 56.3H91V57.8H89.5zM92.5 56.3H94V57.8H92.5zM92.5 57.8H94V59.3H92.5zM97 57.8H98.5V59.3H97zM98.5 57.8H100V59.3H98.5zM92.5 59.3H94V60.8H92.5zM97 59.3H98.5V60.8H97zM79 60.8H80.5V62.3H79zM80.5 60.8H82V62.3H80.5zM101.5 60.8H103V62.3H101.5zM104.5 60.8H106V62.3H104.5zM80.5 62.3H82V63.8H80.5zM86.5 63.8H88V65.3H86.5zM95.5 63.8H97V65.3H95.5zM97 63.8H98.5V65.3H97zM98.5 63.8H100V65.3H98.5zM79 65.3H80.5V66.8H79zM80.5 65.3H82V66.8H80.5zM80.5 66.8H82V68.3H80.5zM83.5 66.8H85V68.3H83.5zM85 66.8H86.5V68.3H85zM86.5 66.8H88V68.3H86.5zM95.5 66.8H97V68.3H95.5zM80.5 68.3H82V69.8H80.5zM95.5 68.3H97V69.8H95.5zM98.5 68.3H100V69.8H98.5zM100 68.3H101.5V69.8H100zM82 69.8H83.5V71.3H82zM100 69.8H101.5V71.3H100zM100 71.3H101.5V72.8H100zM95.5 72.8H97V74.3H95.5zM100 72.8H101.5V74.3H100zM101.5 72.8H103V74.3H101.5zM91 74.3H92.5V75.8H91zM92.5 75.8H94V77.3H92.5zM94 75.8H95.5V77.3H94zM97 75.8H98.5V77.3H97zM100 75.8H101.5V77.3H100zM79 77.3H80.5V78.8H79zM98.5 77.3H100V78.8H98.5zM100 77.3H101.5V78.8H100zM94 78.8H95.5V80.3H94zM95.5 78.8H97V80.3H95.5zM83.5 80.3H85V81.8H83.5zM92.5 80.3H94V81.8H92.5zM95.5 80.3H97V81.8H95.5zM97 80.3H98.5V81.8H97zM103 80.3H104.5V81.8H103zM83.5 81.8H85V83.3H83.5zM89.5 81.8H91V83.3H89.5zM91 81.8H92.5V83.3H91zM92.5 83.3H94V84.8H92.5zM79 84.8H80.5V86.3H79zM92.5 84.8H94V86.3H92.5zM95.5 84.8H97V86.3H95.5zM79 86.3H80.5V87.8H79zM82 86.3H83.5V87.8H82zM83.5 86.3H85V87.8H83.5zM88 86.3H89.5V87.8H88zM79 87.8H80.5V89.3H79zM80.5 87.8H82V89.3H80.5zM88 87.8H89.5V89.3H88zM89.5 87.8H91V89.3H89.5zM92.5 87.8H94V89.3H92.5zM95.5 87.8H97V89.3H95.5zM79 89.3H80.5V90.8H79zM85 89.3H86.5V90.8H85zM91 89.3H92.5V90.8H91zM80.5 90.8H82V92.3H80.5zM82 90.8H83.5V92.3H82zM83.5 90.8H85V92.3H83.5zM86.5 90.8H88V92.3H86.5zM88 90.8H89.5V92.3H88zM88 92.3H89.5V93.8H88zM95.5 92.3H97V93.8H95.5zM103 92.3H104.5V93.8H103zM88 93.8H89.5V95.3H88zM89.5 93.8H91V95.3H89.5zM91 93.8H92.5V95.3H91zM98.5 93.8H100V95.3H98.5zM101.5 93.8H103V95.3H101.5zM85 95.3H86.5V96.8H85zM100 95.3H101.5V96.8H100zM101.5 95.3H103V96.8H101.5zM88 96.8H89.5V98.3H88zM91 96.8H92.5V98.3H91zM91 98.3H92.5V99.8H91zM100 98.3H101.5V99.8H100zM82 99.8H83.5V101.3H82zM83.5 99.8H85V101.3H83.5zM85 99.8H86.5V101.3H85zM88 99.8H89.5V101.3H88zM89.5 99.8H91V101.3H89.5zM94 99.8H95.5V101.3H94zM97 99.8H98.5V101.3H97zM98.5 99.8H100V101.3H98.5zM100 99.8H101.5V101.3H100zM85 101.3H86.5V102.8H85zM86.5 101.3H88V102.8H86.5zM88 101.3H89.5V102.8H88zM80.5 104.3H82V105.8H80.5zM82 104.3H83.5V105.8H82zM85 104.3H86.5V105.8H85zM86.5 104.3H88V105.8H86.5zM88 104.3H89.5V105.8H88zM101.5 104.3H103V105.8H101.5zM95.5 105.8H97V107.3H95.5zM101.5 105.8H103V107.3H101.5zM88 107.3H89.5V108.8H88zM95.5 107.3H97V108.8H95.5zM94 108.8H95.5V110.3H94zM104.5 108.8H106V110.3H104.5z"/>
<path fill="#fc4e12" d="M97 27.8H98.5V29.3H97zM79 29.3H80.5V30.8H79zM79 30.8H80.5V32.3H79zM82 30.8H83.5V32.3H82zM86.5 30.8H88V32.3H86.5zM79 32.3H80.5V33.8H79zM89.5 32.3H91V33.8H89.5zM95.5 32.3H97V33.8H95.5zM83.5 35.3H85V36.8H83.5zM80.5 36.8H82V38.3H80.5zM83.5 36.8H85V38.3H83.5zM97 36.8H98.5V38.3H97zM98.5 36.8H100V38.3H98.5zM94 38.3H95.5V39.8H94zM100 38.3H101.5V39.8H100zM100 39.8H101.5V41.3H100zM100 42.8H101.5V44.3H100zM79 45.8H80.5V47.3H79zM89.5 48.8H91V50.3H89.5zM100 48.8H101.5V50.3H100zM88 50.3H89.5V51.8H88zM100 50.3H101.5V51.8H100zM82 51.8H83.5V53.3H82zM88 51.8H89.5V53.3H88zM94 51.8H95.5V53.3H94zM83.5 53.3H85V54.8H83.5zM86.5 53.3H88V54.8H86.5zM85 56.3H86.5V57.8H85zM88 56.3H89.5V57.8H88zM91 56.3H92.5V57.8H91zM94 56.3H95.5V57.8H94zM95.5 56.3H97V57.8H95.5zM97 56.3H98.5V57.8H97zM100 56.3H101.5V57.8H100zM83.5 57.8H85V59.3H83.5zM88 57.8H89.5V59.3H88zM89.5 57.8H91V59.3H89.5zM94 57.8H95.5V59.3H94zM95.5 57.8H97V59.3H95.5zM100 57.8H101.5V59.3H100zM82 59.3H83.5V60.8H82zM83.5 59.3H85V60.8H83.5zM95.5 59.3H97V60.8H95.5zM98.5 59.3H100V60.8H98.5zM82 60.8H83.5V62.3H82zM82 62.3H83.5V63.8H82zM79 63.8H80.5V65.3H79zM80.5 63.8H82V65.3H80.5zM100 63.8H101.5V65.3H100zM82 65.3H83.5V66.8H82zM86.5 65.3H88V66.8H86.5zM95.5 65.3H97V66.8H95.5zM100 65.3H101.5V66.8H100zM82 66.8H83.5V68.3H82zM82 68.3H83.5V69.8H82zM98.5 74.3H100V75.8H98.5zM100 74.3H101.5V75.8H100zM91 75.8H92.5V77.3H91zM98.5 75.8H100V77.3H98.5zM80.5 78.8H82V80.3H80.5zM82 78.8H83.5V80.3H82zM89.5 78.8H91V80.3H89.5zM97 78.8H98.5V80.3H97zM98.5 80.3H100V81.8H98.5zM82 81.8H83.5V83.3H82zM91 83.3H92.5V84.8H91zM83.5 84.8H85V86.3H83.5zM88 84.8H89.5V86.3H88zM89.5 84.8H91V86.3H89.5zM91 84.8H92.5V86.3H91zM80.5 86.3H82V87.8H80.5zM85 86.3H86.5V87.8H85zM86.5 86.3H88V87.8H86.5zM83.5 87.8H85V89.3H83.5zM86.5 87.8H88V89.3H86.5zM86.5 89.3H88V90.8H86.5zM88 89.3H89.5V90.8H88zM94 89.3H95.5V90.8H94zM98.5 89.3H100V90.8H98.5zM100 89.3H101.5V90.8H100zM101.5 89.3H103V90.8H101.5zM79 90.8H80.5V92.3H79zM85 90.8H86.5V92.3H85zM94 90.8H95.5V92.3H94zM100 90.8H101.5V92.3H100zM97 92.3H98.5V93.8H97zM98.5 92.3H100V93.8H98.5zM101.5 92.3H103V93.8H101.5zM83.5 93.8H85V95.3H83.5zM95.5 93.8H97V95.3H95.5zM97 93.8H98.5V95.3H97zM100 93.8H101.5V95.3H100zM86.5 96.8H88V98.3H86.5zM89.5 96.8H91V98.3H89.5zM86.5 98.3H88V99.8H86.5zM80.5 99.8H82V101.3H80.5zM80.5 101.3H82V102.8H80.5zM83.5 101.3H85V102.8H83.5zM97 101.3H98.5V102.8H97zM100 101.3H101.5V102.8H100zM80.5 102.8H82V104.3H80.5zM85 102.8H86.5V104.3H85zM86.5 102.8H88V104.3H86.5zM83.5 104.3H85V105.8H83.5zM101.5 107.3H103V108.8H101.5zM95.5 108.8H97V110.3H95.5zM103 108.8H104.5V110.3H103z"/>
<path fill="#fc8418" d="M101.5 27.8H103V29.3H101.5zM103 27.8H104.5V29.3H103zM107.5 27.8H109V29.3H107.5zM109 27.8H110.5V29.3H109zM107.5 29.3H109V30.8H107.5zM101.5 30.8H103V32.3H101.5zM107.5 30.8H109V32.3H107.5zM110.5 30.8H112V32.3H110.5zM104.5 32.3H106V33.8H104.5zM107.5 33.8H109V35.3H107.5zM107.5 35.3H109V36.8H107.5zM110.5 35.3H112V36.8H110.5zM112 36.8H113.5V38.3H112zM107.5 38.3H109V39.8H107.5zM109 38.3H110.5V39.8H109zM110.5 38.3H112V39.8H110.5zM109 41.3H110.5V42.8H109zM110.5 41.3H112V42.8H110.5zM109 42.8H110.5V44.3H109zM109 45.8H110.5V47.3H109zM110.5 56.3H112V57.8H110.5zM107.5 62.3H109V63.8H107.5zM112 63.8H113.5V65.3H112zM112 65.3H113.5V66.8H112zM112 66.8H113.5V68.3H112zM110.5 68.3H112V69.8H110.5zM104.5 71.3H106V72.8H104.5zM104.5 72.8H106V74.3H104.5zM106 74.3H107.5V75.8H106zM107.5 74.3H109V75.8H107.5zM109 74.3H110.5V75.8H109zM110.5 77.3H112V78.8H110.5zM112 78.8H113.5V80.3H112zM109 80.3H110.5V81.8H109zM110.5 81.8H112V83.3H110.5zM109 83.3H110.5V84.8H109zM109 84.8H110.5V86.3H109zM110.5 84.8H112V86.3H110.5zM107.5 90.8H109V92.3H107.5zM109 90.8H110.5V92.3H109zM110.5 90.8H112V92.3H110.5zM109 92.3H110.5V93.8H109zM110.5 92.3H112V93.8H110.5zM107.5 93.8H109V95.3H107.5zM107.5 95.3H109V96.8H107.5zM109 101.3H110.5V102.8H109zM109 104.3H110.5V105.8H109zM109 105.8H110.5V107.3H109z"/>
<path fill="#fc9018" d="M104.5 27.8H106V29.3H104.5zM110.5 27.8H112V29.3H110.5zM110.5 29.3H112V30.8H110.5zM104.5 30.8H106V32.3H104.5zM109 30.8H110.5V32.3H109zM113.5 30.8H115V32.3H113.5zM109 32.3H110.5V33.8H109zM112 32.3H113.5V33.8H112zM109 33.8H110.5V35.3H109zM110.5 33.8H112V35.3H110.5zM112 33.8H113.5V35.3H112zM112 38.3H113.5V39.8H112zM110.5 39.8H112V41.3H110.5zM109 44.3H110.5V45.8H109zM110.5 47.3H112V48.8H110.5zM112 48.8H113.5V50.3H112zM110.5 50.3H112V51.8H110.5zM112 50.3H113.5V51.8H112zM113.5 51.8H115V53.3H113.5zM112 53.3H113.5V54.8H112zM113.5 53.3H115V54.8H113.5zM112 56.3H113.5V57.8H112zM112 57.8H113.5V59.3H112zM112 60.8H113.5V62.3H112zM113.5 60.8H115V62.3H113.5zM113.5 62.3H115V63.8H113.5zM113.5 63.8H115V65.3H113.5zM113.5 65.3H115V66.8H113.5zM113.5 66.8H115V68.3H113.5zM112 69.8H113.5V71.3H112zM109 71.3H110.5V72.8H109zM110.5 72.8H112V74.3H110.5zM112 75.8H113.5V77.3H112zM113.5 75.8H115V77.3H113.5zM113.5 78.8H115V80.3H113.5zM113.5 81.8H115V83.3H113.5zM112 84.8H113.5V86.3H112zM113.5 84.8H115V86.3H113.5zM113.5 86.3H115V87.8H113.5zM112 87.8H113.5V89.3H112zM112 89.3H113.5V90.8H112zM112 92.3H113.5V93.8H112zM113.5 92.3H115V93.8H113.5zM109 93.8H110.5V95.3H109zM109 95.3H110.5V96.8H109zM109 96.8H110.5V98.3H109zM110.5 98.3H112V99.8H110.5zM109 99.8H110.5V101.3H109zM110.5 99.8H112V101.3H110.5zM110.5 101.3H112V102.8H110.5zM110.5 102.8H112V104.3H110.5zM110.5 104.3H112V105.8H110.5zM110.5 105.8H112V107.3H110.5zM110.5 107.3H112V108.8H110.5zM110.5 108.8H112V110.3H110.5z"/>
<path fill="#fc8a18" d="M106 27.8H107.5V29.3H106zM104.5 29.3H106V30.8H104.5zM106 29.3H107.5V30.8H106zM109 29.3H110.5V30.8H109zM106 30.8H107.5V32.3H106zM112 30.8H113.5V32.3H112zM106 32.3H107.5V33.8H106zM107.5 32.3H109V33.8H107.5zM110.5 32.3H112V33.8H110.5zM109 35.3H110.5V36.8H109zM112 35.3H113.5V36.8H112zM109 39.8H110.5V41.3H109zM110.5 42.8H112V44.3H110.5zM110.5 48.8H112V50.3H110.5zM110.5 51.8H112V53.3H110.5zM112 51.8H113.5V53.3H112zM110.5 53.3H112V54.8H110.5zM112 54.8H113.5V56.3H112zM112 59.3H113.5V60.8H112zM112 62.3H113.5V63.8H112zM115 65.3H116.5V66.8H115zM115 66.8H116.5V68.3H115zM106 72.8H107.5V74.3H106zM107.5 72.8H109V74.3H107.5zM109 72.8H110.5V74.3H109zM110.5 80.3H112V81.8H110.5zM112 80.3H113.5V81.8H112zM112 81.8H113.5V83.3H112zM110.5 83.3H112V84.8H110.5zM112 86.3H113.5V87.8H112zM109 98.3H110.5V99.8H109zM109 102.8H110.5V104.3H109z"/>
<path fill="#fc9c18" d="M112 27.8H113.5V29.3H112zM113.5 29.3H115V30.8H113.5zM113.5 33.8H115V35.3H113.5zM113.5 35.3H115V36.8H113.5zM115 35.3H116.5V36.8H115zM113.5 36.8H115V38.3H113.5zM112 39.8H113.5V41.3H112zM112 41.3H113.5V42.8H112zM112 42.8H113.5V44.3H112zM110.5 44.3H112V45.8H110.5zM110.5 45.8H112V47.3H110.5zM113.5 47.3H115V48.8H113.5zM116.5 66.8H118V68.3H116.5zM113.5 68.3H115V69.8H113.5zM113.5 69.8H115V71.3H113.5zM113.5 83.3H115V84.8H113.5zM115 84.8H116.5V86.3H115zM113.5 90.8H115V92.3H113.5zM115 90.8H116.5V92.3H115zM115 92.3H116.5V93.8H115zM116.5 93.8H118V95.3H116.5zM112 95.3H113.5V96.8H112zM113.5 96.8H115V98.3H113.5zM112 98.3H113.5V99.8H112zM113.5 98.3H115V99.8H113.5zM112 99.8H113.5V101.3H112zM113.5 99.8H115V101.3H113.5zM113.5 104.3H115V105.8H113.5zM113.5 105.8H115V107.3H113.5zM113.5 108.8H115V110.3H113.5z"/>
<path fill="#fca218" d="M113.5 27.8H115V29.3H113.5zM115 36.8H116.5V38.3H115zM112 45.8H113.5V47.3H112zM115 56.3H116.5V57.8H115zM115 57.8H116.5V59.3H115zM115 59.3H116.5V60.8H115zM115 68.3H116.5V69.8H115zM115 69.8H116.5V71.3H115zM112 72.8H113.5V74.3H112zM113.5 72.8H115V74.3H113.5zM113.5 77.3H115V78.8H113.5zM115 80.3H116.5V81.8H115zM115 81.8H116.5V83.3H115zM115 89.3H116.5V90.8H115zM112 93.8H113.5V95.3H112zM116.5 95.3H118V96.8H116.5zM112 96.8H113.5V98.3H112zM115 96.8H116.5V98.3H115zM116.5 96.8H118V98.3H116.5zM113.5 107.3H115V108.8H113.5zM112 108.8H113.5V110.3H112z"/>
<path fill="#fcba18" d="M115 27.8H116.5V29.3H115zM116.5 29.3H118V30.8H116.5zM116.5 30.8H118V32.3H116.5zM116.5 32.3H118V33.8H116.5zM115 50.3H116.5V51.8H115zM116.5 50.3H118V51.8H116.5zM116.5 51.8H118V53.3H116.5zM116.5 57.8H118V59.3H116.5zM118 62.3H119.5V63.8H118zM119.5 62.3H121V63.8H119.5zM116.5 63.8H118V65.3H116.5zM118 68.3H119.5V69.8H118zM116.5 83.3H118V84.8H116.5zM115 101.3H116.5V102.8H115zM118 104.3H119.5V105.8H118zM118 105.8H119.5V107.3H118zM118 107.3H119.5V108.8H118zM119.5 107.3H121V108.8H119.5z"/>
<path fill="#fccc18" d="M116.5 27.8H118V29.3H116.5zM118 29.3H119.5V30.8H118zM118 32.3H119.5V33.8H118zM119.5 33.8H121V35.3H119.5zM118 35.3H119.5V36.8H118zM118 36.8H119.5V38.3H118zM116.5 38.3H118V39.8H116.5zM116.5 39.8H118V41.3H116.5zM116.5 41.3H118V42.8H116.5zM116.5 42.8H118V44.3H116.5zM115 44.3H116.5V45.8H115zM116.5 44.3H118V45.8H116.5zM118 45.8H119.5V47.3H118zM118 48.8H119.5V50.3H118zM118 50.3H119.5V51.8H118zM118 53.3H119.5V54.8H118zM118 56.3H119.5V57.8H118zM119.5 57.8H121V59.3H119.5zM119.5 59.3H121V60.8H119.5zM121 63.8H122.5V65.3H121zM122.5 65.3H124V66.8H122.5zM124 66.8H125.5V68.3H124zM122.5 68.3H124V69.8H122.5zM121 71.3H122.5V72.8H121zM119.5 74.3H121V75.8H119.5zM119.5 78.8H121V80.3H119.5zM119.5 80.3H121V81.8H119.5zM119.5 81.8H121V83.3H119.5zM118 83.3H119.5V84.8H118zM119.5 83.3H121V84.8H119.5zM118 86.3H119.5V87.8H118zM119.5 86.3H121V87.8H119.5zM122.5 86.3H124V87.8H122.5zM118 87.8H119.5V89.3H118zM121 87.8H122.5V89.3H121zM122.5 87.8H124V89.3H122.5zM121 89.3H122.5V90.8H121zM122.5 89.3H124V90.8H122.5zM119.5 90.8H121V92.3H119.5zM119.5 92.3H121V93.8H119.5zM121 98.3H122.5V99.8H121zM118 101.3H119.5V102.8H118zM119.5 101.3H121V102.8H119.5zM122.5 107.3H124V108.8H122.5zM121 108.8H122.5V110.3H121z"/>
<path fill="#fcd218" d="M118 27.8H119.5V29.3H118zM119.5 27.8H121V29.3H119.5zM119.5 29.3H121V30.8H119.5zM118 30.8H119.5V32.3H118zM119.5 35.3H121V36.8H119.5zM119.5 36.8H121V38.3H119.5zM118 54.8H119.5V56.3H118zM119.5 56.3H121V57.8H119.5zM121 60.8H122.5V62.3H121zM122.5 62.3H124V63.8H122.5zM124 62.3H125.5V63.8H124zM124 65.3H125.5V66.8H124zM124 68.3H125.5V69.8H124zM122.5 69.8H124V71.3H122.5zM122.5 71.3H124V72.8H122.5zM121 72.8H122.5V74.3H121zM118 74.3H119.5V75.8H118zM121 78.8H122.5V80.3H121zM121 81.8H122.5V83.3H121zM122.5 81.8H124V83.3H122.5zM121 83.3H122.5V84.8H121zM121 84.8H122.5V86.3H121zM122.5 84.8H124V86.3H122.5zM124 86.3H125.5V87.8H124zM125.5 86.3H127V87.8H125.5zM124 87.8H125.5V89.3H124zM125.5 87.8H127V89.3H125.5zM124 89.3H125.5V90.8H124zM121 90.8H122.5V92.3H121zM121 92.3H122.5V93.8H121zM121 93.8H122.5V95.3H121zM121 95.3H122.5V96.8H121zM121 99.8H122.5V101.3H121zM122.5 104.3H124V105.8H122.5zM124 108.8H125.5V110.3H124z"/>
<path fill="#fcf01e" d="M121 27.8H122.5V29.3H121zM122.5 27.8H124V29.3H122.5zM122.5 30.8H124V32.3H122.5zM122.5 32.3H124V33.8H122.5zM125.5 35.3H127V36.8H125.5zM125.5 39.8H127V41.3H125.5zM124 42.8H125.5V44.3H124zM121 47.3H122.5V48.8H121zM121 50.3H122.5V51.8H121zM122.5 51.8H124V53.3H122.5zM127 51.8H128.5V53.3H127zM124 53.3H125.5V54.8H124zM125.5 53.3H127V54.8H125.5zM125.5 54.8H127V56.3H125.5zM127 54.8H128.5V56.3H127zM128.5 54.8H130V56.3H128.5zM125.5 56.3H127V57.8H125.5zM130 57.8H131.5V59.3H130zM125.5 59.3H127V60.8H125.5zM128.5 59.3H130V60.8H128.5zM131.5 59.3H133V60.8H131.5zM127 60.8H128.5V62.3H127zM128.5 60.8H130V62.3H128.5zM130 60.8H131.5V62.3H130zM128.5 62.3H130V63.8H128.5zM134.5 65.3H136V66.8H134.5zM128.5 66.8H130V68.3H128.5zM134.5 66.8H136V68.3H134.5zM127 68.3H128.5V69.8H127zM133 69.8H134.5V71.3H133zM130 71.3H131.5V72.8H130zM130 74.3H131.5V75.8H130zM125.5 75.8H127V77.3H125.5zM127 80.3H128.5V81.8H127zM128.5 83.3H130V84.8H128.5zM130 86.3H131.5V87.8H130zM128.5 96.8H130V98.3H128.5zM125.5 98.3H127V99.8H125.5zM128.5 101.3H130V102.8H128.5zM128.5 102.8H130V104.3H128.5zM130 104.3H131.5V105.8H130z"/>
<path fill="#eaf624" d="M124 27.8H125.5V29.3H124zM125.5 42.8H127V44.3H125.5zM125.5 48.8H127V50.3H125.5zM133 62.3H134.5V63.8H133zM133 63.8H134.5V65.3H133zM131.5 65.3H133V66.8H131.5zM133 65.3H134.5V66.8H133zM130 66.8H131.5V68.3H130zM131.5 66.8H133V68.3H131.5zM133 71.3H134.5V72.8H133zM128.5 77.3H130V78.8H128.5zM139 77.3H140.5V78.8H139zM130 93.8H131.5V95.3H130zM128.5 98.3H130V99.8H128.5zM131.5 99.8H133V101.3H131.5zM133 105.8H134.5V107.3H133zM131.5 107.3H133V108.8H131.5z"/>
<path fill="#def624" d="M125.5 27.8H127V29.3H125.5zM127 30.8H128.5V32.3H127zM128.5 36.8H130V38.3H128.5zM127 47.3H128.5V48.8H127zM124 48.8H125.5V50.3H124zM134.5 62.3H136V63.8H134.5zM136 63.8H137.5V65.3H136zM136 69.8H137.5V71.3H136zM136 77.3H137.5V78.8H136zM134.5 78.8H136V80.3H134.5zM140.5 78.8H142V80.3H140.5zM128.5 80.3H130V81.8H128.5zM137.5 80.3H139V81.8H137.5zM130 81.8H131.5V83.3H130zM137.5 81.8H139V83.3H137.5zM134.5 105.8H136V107.3H134.5z"/>
<path fill="#ccf62a" d="M127 27.8H128.5V29.3H127zM127 44.3H128.5V45.8H127zM125.5 45.8H127V47.3H125.5zM124 47.3H125.5V48.8H124zM128.5 48.8H130V50.3H128.5zM137.5 48.8H139V50.3H137.5zM131.5 51.8H133V53.3H131.5zM131.5 54.8H133V56.3H131.5zM136 60.8H137.5V62.3H136zM136 62.3H137.5V63.8H136zM136 68.3H137.5V69.8H136zM136 72.8H137.5V74.3H136zM137.5 75.8H139V77.3H137.5zM139 75.8H140.5V77.3H139zM140.5 77.3H142V78.8H140.5zM130 80.3H131.5V81.8H130zM134.5 80.3H136V81.8H134.5zM139 80.3H140.5V81.8H139zM131.5 81.8H133V83.3H131.5zM134.5 84.8H136V86.3H134.5zM136 84.8H137.5V86.3H136zM131.5 95.3H133V96.8H131.5zM131.5 96.8H133V98.3H131.5zM134.5 99.8H136V101.3H134.5zM137.5 101.3H139V102.8H137.5zM134.5 102.8H136V104.3H134.5zM136 102.8H137.5V104.3H136zM136 104.3H137.5V105.8H136zM136 105.8H137.5V107.3H136zM136 107.3H137.5V108.8H136zM134.5 108.8H136V110.3H134.5z"/>
<path fill="#baf630" d="M128.5 27.8H130V29.3H128.5zM128.5 33.8H130V35.3H128.5zM130 36.8H131.5V38.3H130zM128.5 47.3H130V48.8H128.5zM130 50.3H131.5V51.8H130zM134.5 50.3H136V51.8H134.5zM133 51.8H134.5V53.3H133zM134.5 56.3H136V57.8H134.5zM137.5 62.3H139V63.8H137.5zM137.5 69.8H139V71.3H137.5zM137.5 74.3H139V75.8H137.5zM139 74.3H140.5V75.8H139zM133 80.3H134.5V81.8H133zM133 81.8H134.5V83.3H133zM140.5 83.3H142V84.8H140.5zM134.5 87.8H136V89.3H134.5zM136 87.8H137.5V89.3H136zM133 96.8H134.5V98.3H133zM137.5 98.3H139V99.8H137.5zM137.5 99.8H139V101.3H137.5zM143.5 101.3H145V102.8H143.5zM137.5 104.3H139V105.8H137.5zM142 105.8H143.5V107.3H142zM136 108.8H137.5V110.3H136zM140.5 108.8H142V110.3H140.5z"/>
<path fill="#9cf636" d="M130 27.8H131.5V29.3H130zM130 29.3H131.5V30.8H130zM131.5 30.8H133V32.3H131.5zM133 36.8H134.5V38.3H133zM130 38.3H131.5V39.8H130zM136 39.8H137.5V41.3H136zM137.5 41.3H139V42.8H137.5zM137.5 42.8H139V44.3H137.5zM128.5 45.8H130V47.3H128.5zM136 45.8H137.5V47.3H136zM137.5 56.3H139V57.8H137.5zM139 56.3H140.5V57.8H139zM145 60.8H146.5V62.3H145zM145 68.3H146.5V69.8H145zM146.5 71.3H148V72.8H146.5zM143.5 72.8H145V74.3H143.5zM146.5 72.8H148V74.3H146.5zM148 72.8H149.5V74.3H148zM142 80.3H143.5V81.8H142zM142 81.8H143.5V83.3H142zM142 83.3H143.5V84.8H142zM143.5 86.3H145V87.8H143.5zM145 87.8H146.5V89.3H145zM140.5 89.3H142V90.8H140.5zM145 90.8H146.5V92.3H145zM134.5 93.8H136V95.3H134.5zM148 96.8H149.5V98.3H148zM143.5 98.3H145V99.8H143.5zM146.5 102.8H148V104.3H146.5z"/>
<path fill="#7ef642" d="M131.5 27.8H133V29.3H131.5zM160 30.8H161.5V32.3H160zM131.5 32.3H133V33.8H131.5zM131.5 33.8H133V35.3H131.5zM158.5 38.3H160V39.8H158.5zM140.5 41.3H142V42.8H140.5zM149.5 41.3H151V42.8H149.5zM136 44.3H137.5V45.8H136zM139 44.3H140.5V45.8H139zM140.5 47.3H142V48.8H140.5zM143.5 47.3H145V48.8H143.5zM143.5 48.8H145V50.3H143.5zM143.5 50.3H145V51.8H143.5zM140.5 51.8H142V53.3H140.5zM142 53.3H143.5V54.8H142zM142 54.8H143.5V56.3H142zM148 54.8H149.5V56.3H148zM143.5 56.3H145V57.8H143.5zM140.5 57.8H142V59.3H140.5zM143.5 57.8H145V59.3H143.5zM146.5 59.3H148V60.8H146.5zM145 63.8H146.5V65.3H145zM145 65.3H146.5V66.8H145zM146.5 68.3H148V69.8H146.5zM140.5 71.3H142V72.8H140.5zM149.5 72.8H151V74.3H149.5zM151 72.8H152.5V74.3H151zM143.5 74.3H145V75.8H143.5zM151 75.8H152.5V77.3H151zM145 77.3H146.5V78.8H145zM149.5 77.3H151V78.8H149.5zM143.5 78.8H145V80.3H143.5zM155.5 81.8H157V83.3H155.5zM143.5 83.3H145V84.8H143.5zM157 83.3H158.5V84.8H157zM160 83.3H161.5V84.8H160zM157 84.8H158.5V86.3H157zM152.5 87.8H154V89.3H152.5zM148 89.3H149.5V90.8H148zM137.5 90.8H139V92.3H137.5zM139 90.8H140.5V92.3H139zM140.5 90.8H142V92.3H140.5zM146.5 92.3H148V93.8H146.5zM148 93.8H149.5V95.3H148zM136 95.3H137.5V96.8H136zM143.5 95.3H145V96.8H143.5zM140.5 98.3H142V99.8H140.5zM149.5 102.8H151V104.3H149.5z"/>
<path fill="#4ef066" d="M133 27.8H134.5V29.3H133zM152.5 27.8H154V29.3H152.5zM146.5 29.3H148V30.8H146.5zM145 30.8H146.5V32.3H145zM154 32.3H155.5V33.8H154zM155.5 32.3H157V33.8H155.5zM152.5 33.8H154V35.3H152.5zM155.5 35.3H157V36.8H155.5zM157 36.8H158.5V38.3H157zM142 39.8H143.5V41.3H142zM145 39.8H146.5V41.3H145zM142 44.3H143.5V45.8H142zM143.5 44.3H145V45.8H143.5zM152.5 45.8H154V47.3H152.5zM151 48.8H152.5V50.3H151zM160 50.3H161.5V51.8H160zM151 54.8H152.5V56.3H151zM154 56.3H155.5V57.8H154zM160 56.3H161.5V57.8H160zM154 57.8H155.5V59.3H154zM157 60.8H158.5V62.3H157zM149.5 62.3H151V63.8H149.5zM151 62.3H152.5V63.8H151zM152.5 62.3H154V63.8H152.5zM146.5 63.8H148V65.3H146.5zM154 65.3H155.5V66.8H154zM155.5 65.3H157V66.8H155.5zM154 66.8H155.5V68.3H154zM157 69.8H158.5V71.3H157zM148 78.8H149.5V80.3H148zM158.5 78.8H160V80.3H158.5zM146.5 80.3H148V81.8H146.5zM149.5 83.3H151V84.8H149.5zM151 89.3H152.5V90.8H151zM158.5 96.8H160V98.3H158.5zM151 99.8H152.5V101.3H151zM160 99.8H161.5V101.3H160zM155.5 102.8H157V104.3H155.5zM154 104.3H155.5V105.8H154zM157 104.3H158.5V105.8H157zM154 105.8H155.5V107.3H154zM151 107.3H152.5V108.8H151zM152.5 107.3H154V108.8H152.5z"/>
<path fill="#42f06c" d="M134.5 27.8H136V29.3H134.5zM151 27.8H152.5V29.3H151zM143.5 29.3H145V30.8H143.5zM134.5 30.8H136V32.3H134.5zM143.5 30.8H145V32.3H143.5zM143.5 32.3H145V33.8H143.5zM143.5 33.8H145V35.3H143.5zM154 33.8H155.5V35.3H154zM157 33.8H158.5V35.3H157zM140.5 35.3H142V36.8H140.5zM143.5 35.3H145V36.8H143.5zM143.5 39.8H145V41.3H143.5zM143.5 42.8H145V44.3H143.5zM157 44.3H158.5V45.8H157zM160 44.3H161.5V45.8H160zM143.5 45.8H145V47.3H143.5zM148 45.8H149.5V47.3H148zM158.5 51.8H160V53.3H158.5zM160 53.3H161.5V54.8H160zM157 63.8H158.5V65.3H157zM152.5 65.3H154V66.8H152.5zM160 75.8H161.5V77.3H160zM160 77.3H161.5V78.8H160zM149.5 80.3H151V81.8H149.5zM146.5 81.8H148V83.3H146.5zM152.5 89.3H154V90.8H152.5zM155.5 89.3H157V90.8H155.5zM152.5 90.8H154V92.3H152.5zM158.5 90.8H160V92.3H158.5zM154 92.3H155.5V93.8H154zM151 95.3H152.5V96.8H151zM151 104.3H152.5V105.8H151zM151 105.8H152.5V107.3H151zM154 108.8H155.5V110.3H154z"/>
<path fill="#24f084" d="M136 27.8H137.5V29.3H136zM137.5 30.8H139V32.3H137.5zM140.5 32.3H142V33.8H140.5zM157 45.8H158.5V47.3H157zM158.5 45.8H160V47.3H158.5zM155.5 47.3H157V48.8H155.5zM160 60.8H161.5V62.3H160zM152.5 93.8H154V95.3H152.5z"/>
<path fill="#1ef08a" d="M137.5 27.8H139V29.3H137.5zM136 29.3H137.5V30.8H136zM137.5 29.3H139V30.8H137.5zM157 47.3H158.5V48.8H157zM154 48.8H155.5V50.3H154zM160 57.8H161.5V59.3H160z"/>
<path fill="#36f078" d="M139 27.8H140.5V29.3H139zM134.5 29.3H136V30.8H134.5zM139 30.8H140.5V32.3H139zM142 30.8H143.5V32.3H142zM137.5 33.8H139V35.3H137.5zM142 33.8H143.5V35.3H142zM155.5 33.8H157V35.3H155.5zM145 41.3H146.5V42.8H145zM145 42.8H146.5V44.3H145zM154 47.3H155.5V48.8H154zM160 47.3H161.5V48.8H160zM158.5 50.3H160V51.8H158.5zM151 51.8H152.5V53.3H151zM152.5 53.3H154V54.8H152.5zM152.5 54.8H154V56.3H152.5zM154 54.8H155.5V56.3H154zM155.5 92.3H157V93.8H155.5zM158.5 93.8H160V95.3H158.5zM152.5 95.3H154V96.8H152.5zM157 96.8H158.5V98.3H157zM160 96.8H161.5V98.3H160zM155.5 107.3H157V108.8H155.5zM157 107.3H158.5V108.8H157zM160 108.8H161.5V110.3H160z"/>
<path fill="#3cf072" d="M140.5 27.8H142V29.3H140.5zM140.5 29.3H142V30.8H140.5zM140.5 30.8H142V32.3H140.5zM134.5 32.3H136V33.8H134.5zM139 32.3H140.5V33.8H139zM142 35.3H143.5V36.8H142zM143.5 41.3H145V42.8H143.5zM145 45.8H146.5V47.3H145zM154 45.8H155.5V47.3H154zM155.5 45.8H157V47.3H155.5zM151 50.3H152.5V51.8H151zM155.5 54.8H157V56.3H155.5zM158.5 59.3H160V60.8H158.5zM158.5 60.8H160V62.3H158.5zM149.5 63.8H151V65.3H149.5zM151 63.8H152.5V65.3H151zM160 63.8H161.5V65.3H160zM151 65.3H152.5V66.8H151zM157 66.8H158.5V68.3H157zM158.5 75.8H160V77.3H158.5zM158.5 77.3H160V78.8H158.5zM148 80.3H149.5V81.8H148zM145 81.8H146.5V83.3H145zM149.5 81.8H151V83.3H149.5zM155.5 90.8H157V92.3H155.5zM157 92.3H158.5V93.8H157zM160 92.3H161.5V93.8H160zM151 93.8H152.5V95.3H151zM157 98.3H158.5V99.8H157zM160 98.3H161.5V99.8H160zM160 107.3H161.5V108.8H160zM158.5 108.8H160V110.3H158.5z"/>
<path fill="#30f07e" d="M142 27.8H143.5V29.3H142zM136 32.3H137.5V33.8H136zM142 32.3H143.5V33.8H142zM160 45.8H161.5V47.3H160zM152.5 92.3H154V93.8H152.5zM158.5 92.3H160V93.8H158.5z"/>
<path fill="#54f660" d="M143.5 27.8H145V29.3H143.5zM155.5 27.8H157V29.3H155.5zM157 27.8H158.5V29.3H157zM133 29.3H134.5V30.8H133zM151 29.3H152.5V30.8H151zM155.5 29.3H157V30.8H155.5zM157 30.8H158.5V32.3H157zM146.5 33.8H148V35.3H146.5zM151 33.8H152.5V35.3H151zM146.5 35.3H148V36.8H146.5zM157 35.3H158.5V36.8H157zM142 36.8H143.5V38.3H142zM155.5 36.8H157V38.3H155.5zM155.5 39.8H157V41.3H155.5zM148 41.3H149.5V42.8H148zM158.5 42.8H160V44.3H158.5zM155.5 44.3H157V45.8H155.5zM149.5 45.8H151V47.3H149.5zM152.5 47.3H154V48.8H152.5zM152.5 57.8H154V59.3H152.5zM157 57.8H158.5V59.3H157zM148 62.3H149.5V63.8H148zM148 65.3H149.5V66.8H148zM154 68.3H155.5V69.8H154zM155.5 68.3H157V69.8H155.5zM158.5 69.8H160V71.3H158.5zM158.5 72.8H160V74.3H158.5zM157 75.8H158.5V77.3H157zM155.5 77.3H157V78.8H155.5zM157 77.3H158.5V78.8H157zM160 78.8H161.5V80.3H160zM145 80.3H146.5V81.8H145zM148 83.3H149.5V84.8H148zM148 84.8H149.5V86.3H148zM149.5 84.8H151V86.3H149.5zM157 89.3H158.5V90.8H157zM158.5 89.3H160V90.8H158.5zM160 89.3H161.5V90.8H160zM151 90.8H152.5V92.3H151zM157 99.8H158.5V101.3H157zM151 102.8H152.5V104.3H151zM152.5 102.8H154V104.3H152.5zM160 102.8H161.5V104.3H160zM157 105.8H158.5V107.3H157z"/>
<path fill="#66f654" d="M145 27.8H146.5V29.3H145zM160 27.8H161.5V29.3H160zM149.5 29.3H151V30.8H149.5zM133 30.8H134.5V32.3H133zM148 30.8H149.5V32.3H148zM133 32.3H134.5V33.8H133zM151 35.3H152.5V36.8H151zM140.5 36.8H142V38.3H140.5zM145 36.8H146.5V38.3H145zM146.5 36.8H148V38.3H146.5zM151 36.8H152.5V38.3H151zM158.5 36.8H160V38.3H158.5zM146.5 39.8H148V41.3H146.5zM154 39.8H155.5V41.3H154zM146.5 44.3H148V45.8H146.5zM152.5 44.3H154V45.8H152.5zM146.5 48.8H148V50.3H146.5zM146.5 51.8H148V53.3H146.5zM157 56.3H158.5V57.8H157zM151 60.8H152.5V62.3H151zM152.5 60.8H154V62.3H152.5zM146.5 62.3H148V63.8H146.5zM148 66.8H149.5V68.3H148zM149.5 69.8H151V71.3H149.5zM152.5 75.8H154V77.3H152.5zM155.5 78.8H157V80.3H155.5zM151 80.3H152.5V81.8H151zM154 80.3H155.5V81.8H154zM160 80.3H161.5V81.8H160zM155.5 86.3H157V87.8H155.5zM157 86.3H158.5V87.8H157zM158.5 87.8H160V89.3H158.5zM149.5 89.3H151V90.8H149.5zM142 93.8H143.5V95.3H142zM152.5 101.3H154V102.8H152.5zM158.5 105.8H160V107.3H158.5z"/>
<path fill="#5af65a" d="M146.5 27.8H148V29.3H146.5zM149.5 27.8H151V29.3H149.5zM154 27.8H155.5V29.3H154zM145 32.3H146.5V33.8H145zM145 35.3H146.5V36.8H145zM152.5 36.8H154V38.3H152.5zM155.5 38.3H157V39.8H155.5zM157 38.3H158.5V39.8H157zM148 42.8H149.5V44.3H148zM148 44.3H149.5V45.8H148zM154 44.3H155.5V45.8H154zM146.5 45.8H148V47.3H146.5zM152.5 56.3H154V57.8H152.5zM151 57.8H152.5V59.3H151zM154 59.3H155.5V60.8H154zM154 60.8H155.5V62.3H154zM155.5 60.8H157V62.3H155.5zM155.5 62.3H157V63.8H155.5zM149.5 66.8H151V68.3H149.5zM158.5 68.3H160V69.8H158.5zM157 71.3H158.5V72.8H157zM160 72.8H161.5V74.3H160zM155.5 74.3H157V75.8H155.5zM157 74.3H158.5V75.8H157zM155.5 75.8H157V77.3H155.5zM158.5 80.3H160V81.8H158.5zM145 83.3H146.5V84.8H145zM157 87.8H158.5V89.3H157zM160 87.8H161.5V89.3H160zM142 95.3H143.5V96.8H142zM158.5 98.3H160V99.8H158.5zM155.5 101.3H157V102.8H155.5zM160 105.8H161.5V107.3H160z"/>
<path fill="#60f65a" d="M148 27.8H149.5V29.3H148zM148 29.3H149.5V30.8H148zM154 29.3H155.5V30.8H154zM157 29.3H158.5V30.8H157zM146.5 32.3H148V33.8H146.5zM152.5 32.3H154V33.8H152.5zM158.5 33.8H160V35.3H158.5zM160 33.8H161.5V35.3H160zM152.5 35.3H154V36.8H152.5zM154 36.8H155.5V38.3H154zM152.5 39.8H154V41.3H152.5zM158.5 39.8H160V41.3H158.5zM160 39.8H161.5V41.3H160zM146.5 42.8H148V44.3H146.5zM151 45.8H152.5V47.3H151zM149.5 51.8H151V53.3H149.5zM143.5 54.8H145V56.3H143.5zM155.5 56.3H157V57.8H155.5zM155.5 63.8H157V65.3H155.5zM146.5 65.3H148V66.8H146.5zM158.5 66.8H160V68.3H158.5zM148 68.3H149.5V69.8H148zM160 68.3H161.5V69.8H160zM151 69.8H152.5V71.3H151zM152.5 69.8H154V71.3H152.5zM155.5 69.8H157V71.3H155.5zM160 69.8H161.5V71.3H160zM155.5 71.3H157V72.8H155.5zM158.5 71.3H160V72.8H158.5zM146.5 77.3H148V78.8H146.5zM149.5 78.8H151V80.3H149.5zM157 78.8H158.5V80.3H157zM152.5 80.3H154V81.8H152.5zM151 81.8H152.5V83.3H151zM155.5 87.8H157V89.3H155.5zM140.5 93.8H142V95.3H140.5zM140.5 95.3H142V96.8H140.5zM149.5 95.3H151V96.8H149.5zM154 96.8H155.5V98.3H154zM152.5 98.3H154V99.8H152.5zM152.5 99.8H154V101.3H152.5zM154 99.8H155.5V101.3H154zM151 101.3H152.5V102.8H151zM154 101.3H155.5V102.8H154zM157 101.3H158.5V102.8H157zM158.5 102.8H160V104.3H158.5z"/>
<path fill="#78f642" d="M158.5 27.8H160V29.3H158.5zM149.5 32.3H151V33.8H149.5zM136 35.3H137.5V36.8H136zM160 38.3H161.5V39.8H160zM136 42.8H137.5V44.3H136zM148 57.8H149.5V59.3H148zM143.5 75.8H145V77.3H143.5zM148 90.8H149.5V92.3H148zM145 95.3H146.5V96.8H145z"/>
<path fill="#fc6618" d="M88 29.3H89.5V30.8H88zM97 33.8H98.5V35.3H97zM88 35.3H89.5V36.8H88zM100 35.3H101.5V36.8H100zM88 36.8H89.5V38.3H88zM89.5 38.3H91V39.8H89.5zM83.5 39.8H85V41.3H83.5zM85 39.8H86.5V41.3H85zM91 39.8H92.5V41.3H91zM103 39.8H104.5V41.3H103zM101.5 41.3H103V42.8H101.5zM86.5 42.8H88V44.3H86.5zM103 42.8H104.5V44.3H103zM85 44.3H86.5V45.8H85zM86.5 45.8H88V47.3H86.5zM104.5 45.8H106V47.3H104.5zM82 47.3H83.5V48.8H82zM83.5 47.3H85V48.8H83.5zM86.5 47.3H88V48.8H86.5zM107.5 47.3H109V48.8H107.5zM107.5 48.8H109V50.3H107.5zM106 50.3H107.5V51.8H106zM106 51.8H107.5V53.3H106zM107.5 51.8H109V53.3H107.5zM79 53.3H80.5V54.8H79zM80.5 53.3H82V54.8H80.5zM91 54.8H92.5V56.3H91zM106 54.8H107.5V56.3H106zM107.5 54.8H109V56.3H107.5zM104.5 57.8H106V59.3H104.5zM103 59.3H104.5V60.8H103zM104.5 59.3H106V60.8H104.5zM91 63.8H92.5V65.3H91zM101.5 65.3H103V66.8H101.5zM103 65.3H104.5V66.8H103zM88 66.8H89.5V68.3H88zM104.5 66.8H106V68.3H104.5zM106 66.8H107.5V68.3H106zM94 68.3H95.5V69.8H94zM101.5 68.3H103V69.8H101.5zM79 69.8H80.5V71.3H79zM92.5 69.8H94V71.3H92.5zM80.5 71.3H82V72.8H80.5zM89.5 71.3H91V72.8H89.5zM80.5 72.8H82V74.3H80.5zM85 72.8H86.5V74.3H85zM89.5 74.3H91V75.8H89.5zM79 75.8H80.5V77.3H79zM82 75.8H83.5V77.3H82zM85 77.3H86.5V78.8H85zM95.5 77.3H97V78.8H95.5zM104.5 77.3H106V78.8H104.5zM104.5 78.8H106V80.3H104.5zM103 84.8H104.5V86.3H103zM106 84.8H107.5V86.3H106zM94 86.3H95.5V87.8H94zM97 86.3H98.5V87.8H97zM100 86.3H101.5V87.8H100zM103 86.3H104.5V87.8H103zM104.5 86.3H106V87.8H104.5zM106 86.3H107.5V87.8H106zM101.5 87.8H103V89.3H101.5zM106 87.8H107.5V89.3H106zM104.5 90.8H106V92.3H104.5zM106 93.8H107.5V95.3H106zM98.5 95.3H100V96.8H98.5zM104.5 95.3H106V96.8H104.5zM95.5 96.8H97V98.3H95.5zM98.5 96.8H100V98.3H98.5zM103 96.8H104.5V98.3H103zM104.5 96.8H106V98.3H104.5zM97 98.3H98.5V99.8H97zM104.5 98.3H106V99.8H104.5zM91 101.3H92.5V102.8H91zM89.5 102.8H91V104.3H89.5zM92.5 102.8H94V104.3H92.5zM94 104.3H95.5V105.8H94zM103 105.8H104.5V107.3H103zM104.5 105.8H106V107.3H104.5zM89.5 107.3H91V108.8H89.5zM104.5 107.3H106V108.8H104.5zM86.5 108.8H88V110.3H86.5zM89.5 108.8H91V110.3H89.5zM106 108.8H107.5V110.3H106z"/>
<path fill="#fc7e18" d="M101.5 29.3H103V30.8H101.5zM103 30.8H104.5V32.3H103zM103 32.3H104.5V33.8H103zM106 33.8H107.5V35.3H106zM106 35.3H107.5V36.8H106zM109 36.8H110.5V38.3H109zM107.5 39.8H109V41.3H107.5zM109 47.3H110.5V48.8H109zM109 48.8H110.5V50.3H109zM110.5 54.8H112V56.3H110.5zM107.5 68.3H109V69.8H107.5zM109 68.3H110.5V69.8H109zM104.5 69.8H106V71.3H104.5zM110.5 69.8H112V71.3H110.5zM106 71.3H107.5V72.8H106zM107.5 71.3H109V72.8H107.5zM110.5 75.8H112V77.3H110.5zM110.5 78.8H112V80.3H110.5zM109 81.8H110.5V83.3H109zM109 89.3H110.5V90.8H109zM110.5 89.3H112V90.8H110.5zM107.5 96.8H109V98.3H107.5zM107.5 99.8H109V101.3H107.5zM107.5 101.3H109V102.8H107.5zM109 107.3H110.5V108.8H109zM109 108.8H110.5V110.3H109z"/>
<path fill="#fc7818" d="M103 29.3H104.5V30.8H103zM100 30.8H101.5V32.3H100zM101.5 32.3H103V33.8H101.5zM104.5 33.8H106V35.3H104.5zM103 35.3H104.5V36.8H103zM104.5 35.3H106V36.8H104.5zM103 36.8H104.5V38.3H103zM104.5 36.8H106V38.3H104.5zM107.5 36.8H109V38.3H107.5zM110.5 36.8H112V38.3H110.5zM106 38.3H107.5V39.8H106zM106 39.8H107.5V41.3H106zM104.5 41.3H106V42.8H104.5zM106 41.3H107.5V42.8H106zM107.5 41.3H109V42.8H107.5zM106 42.8H107.5V44.3H106zM107.5 42.8H109V44.3H107.5zM106 44.3H107.5V45.8H106zM107.5 44.3H109V45.8H107.5zM109 50.3H110.5V51.8H109zM109 53.3H110.5V54.8H109zM106 56.3H107.5V57.8H106zM107.5 56.3H109V57.8H107.5zM110.5 57.8H112V59.3H110.5zM107.5 59.3H109V60.8H107.5zM110.5 59.3H112V60.8H110.5zM110.5 60.8H112V62.3H110.5zM110.5 62.3H112V63.8H110.5zM107.5 66.8H109V68.3H107.5zM104.5 68.3H106V69.8H104.5zM106 68.3H107.5V69.8H106zM106 69.8H107.5V71.3H106zM107.5 69.8H109V71.3H107.5zM109 69.8H110.5V71.3H109zM104.5 74.3H106V75.8H104.5zM106 75.8H107.5V77.3H106zM107.5 75.8H109V77.3H107.5zM106 77.3H107.5V78.8H106zM107.5 77.3H109V78.8H107.5zM109 77.3H110.5V78.8H109zM107.5 78.8H109V80.3H107.5zM109 78.8H110.5V80.3H109zM107.5 80.3H109V81.8H107.5zM107.5 81.8H109V83.3H107.5zM107.5 83.3H109V84.8H107.5zM107.5 84.8H109V86.3H107.5zM109 86.3H110.5V87.8H109zM110.5 86.3H112V87.8H110.5zM110.5 87.8H112V89.3H110.5zM107.5 89.3H109V90.8H107.5zM107.5 92.3H109V93.8H107.5zM107.5 98.3H109V99.8H107.5zM106 99.8H107.5V101.3H106zM106 101.3H107.5V102.8H106zM106 102.8H107.5V104.3H106zM107.5 102.8H109V104.3H107.5zM106 104.3H107.5V105.8H106zM107.5 104.3H109V105.8H107.5zM107.5 105.8H109V107.3H107.5zM107.5 107.3H109V108.8H107.5z"/>
<path fill="#fc9618" d="M112 29.3H113.5V30.8H112zM113.5 32.3H115V33.8H113.5zM112 47.3H113.5V48.8H112zM113.5 48.8H115V50.3H113.5zM113.5 50.3H115V51.8H113.5zM113.5 54.8H115V56.3H113.5zM113.5 56.3H115V57.8H113.5zM113.5 57.8H115V59.3H113.5zM113.5 59.3H115V60.8H113.5zM115 60.8H116.5V62.3H115zM115 62.3H116.5V63.8H115zM115 63.8H116.5V65.3H115zM112 68.3H113.5V69.8H112zM110.5 71.3H112V72.8H110.5zM110.5 74.3H112V75.8H110.5zM112 77.3H113.5V78.8H112zM113.5 80.3H115V81.8H113.5zM112 83.3H113.5V84.8H112zM113.5 87.8H115V89.3H113.5zM113.5 89.3H115V90.8H113.5zM112 90.8H113.5V92.3H112zM110.5 93.8H112V95.3H110.5zM113.5 93.8H115V95.3H113.5zM115 93.8H116.5V95.3H115zM110.5 95.3H112V96.8H110.5zM113.5 95.3H115V96.8H113.5zM115 95.3H116.5V96.8H115zM110.5 96.8H112V98.3H110.5z"/>
<path fill="#fcae18" d="M115 29.3H116.5V30.8H115zM113.5 39.8H115V41.3H113.5zM113.5 42.8H115V44.3H113.5zM112 44.3H113.5V45.8H112zM115 51.8H116.5V53.3H115zM115 53.3H116.5V54.8H115zM115 54.8H116.5V56.3H115zM116.5 60.8H118V62.3H116.5zM118 66.8H119.5V68.3H118zM119.5 66.8H121V68.3H119.5zM116.5 69.8H118V71.3H116.5zM115 71.3H116.5V72.8H115zM115 72.8H116.5V74.3H115zM116.5 84.8H118V86.3H116.5zM115 87.8H116.5V89.3H115zM116.5 89.3H118V90.8H116.5zM116.5 90.8H118V92.3H116.5zM118 95.3H119.5V96.8H118zM118 98.3H119.5V99.8H118zM113.5 101.3H115V102.8H113.5zM112 102.8H113.5V104.3H112zM112 104.3H113.5V105.8H112zM115 104.3H116.5V105.8H115zM116.5 104.3H118V105.8H116.5zM112 107.3H113.5V108.8H112zM115 107.3H116.5V108.8H115z"/>
<path fill="#fce41e" d="M121 29.3H122.5V30.8H121zM121 32.3H122.5V33.8H121zM122.5 36.8H124V38.3H122.5zM124 41.3H125.5V42.8H124zM119.5 42.8H121V44.3H119.5zM121 42.8H122.5V44.3H121zM122.5 42.8H124V44.3H122.5zM121 44.3H122.5V45.8H121zM119.5 45.8H121V47.3H119.5zM121 45.8H122.5V47.3H121zM119.5 48.8H121V50.3H119.5zM119.5 50.3H121V51.8H119.5zM119.5 51.8H121V53.3H119.5zM122.5 56.3H124V57.8H122.5zM124 57.8H125.5V59.3H124zM122.5 59.3H124V60.8H122.5zM124 60.8H125.5V62.3H124zM125.5 60.8H127V62.3H125.5zM125.5 69.8H127V71.3H125.5zM128.5 71.3H130V72.8H128.5zM124 72.8H125.5V74.3H124zM130 72.8H131.5V74.3H130zM122.5 75.8H124V77.3H122.5zM124 75.8H125.5V77.3H124zM124 78.8H125.5V80.3H124zM125.5 80.3H127V81.8H125.5zM127 81.8H128.5V83.3H127zM127 83.3H128.5V84.8H127zM128.5 86.3H130V87.8H128.5zM128.5 87.8H130V89.3H128.5zM130 87.8H131.5V89.3H130zM128.5 90.8H130V92.3H128.5zM125.5 93.8H127V95.3H125.5zM124 95.3H125.5V96.8H124zM125.5 95.3H127V96.8H125.5zM127 95.3H128.5V96.8H127zM125.5 96.8H127V98.3H125.5zM124 99.8H125.5V101.3H124zM125.5 99.8H127V101.3H125.5zM122.5 101.3H124V102.8H122.5zM125.5 101.3H127V102.8H125.5zM127 101.3H128.5V102.8H127zM124 102.8H125.5V104.3H124zM125.5 102.8H127V104.3H125.5zM127 102.8H128.5V104.3H127zM125.5 104.3H127V105.8H125.5zM127 104.3H128.5V105.8H127zM128.5 104.3H130V105.8H128.5zM125.5 107.3H127V108.8H125.5zM127 107.3H128.5V108.8H127zM125.5 108.8H127V110.3H125.5z"/>
<path fill="#fcea1e" d="M122.5 29.3H124V30.8H122.5zM121 30.8H122.5V32.3H121zM122.5 33.8H124V35.3H122.5zM122.5 35.3H124V36.8H122.5zM124 35.3H125.5V36.8H124zM125.5 36.8H127V38.3H125.5zM125.5 38.3H127V39.8H125.5zM122.5 44.3H124V45.8H122.5zM121 51.8H122.5V53.3H121zM121 53.3H122.5V54.8H121zM122.5 53.3H124V54.8H122.5zM127 53.3H128.5V54.8H127zM128.5 53.3H130V54.8H128.5zM121 54.8H122.5V56.3H121zM122.5 54.8H124V56.3H122.5zM124 54.8H125.5V56.3H124zM124 56.3H125.5V57.8H124zM127 56.3H128.5V57.8H127zM128.5 56.3H130V57.8H128.5zM125.5 57.8H127V59.3H125.5zM127 57.8H128.5V59.3H127zM128.5 57.8H130V59.3H128.5zM124 59.3H125.5V60.8H124zM130 59.3H131.5V60.8H130zM127 62.3H128.5V63.8H127zM127 66.8H128.5V68.3H127zM128.5 68.3H130V69.8H128.5zM128.5 69.8H130V71.3H128.5zM130 69.8H131.5V71.3H130zM131.5 69.8H133V71.3H131.5zM134.5 69.8H136V71.3H134.5zM127 71.3H128.5V72.8H127zM127 72.8H128.5V74.3H127zM131.5 72.8H133V74.3H131.5zM122.5 74.3H124V75.8H122.5zM124 74.3H125.5V75.8H124zM125.5 74.3H127V75.8H125.5zM128.5 74.3H130V75.8H128.5zM122.5 77.3H124V78.8H122.5zM124 77.3H125.5V78.8H124zM125.5 77.3H127V78.8H125.5zM125.5 78.8H127V80.3H125.5zM128.5 84.8H130V86.3H128.5zM128.5 89.3H130V90.8H128.5zM130 89.3H131.5V90.8H130zM128.5 92.3H130V93.8H128.5zM127 93.8H128.5V95.3H127zM128.5 93.8H130V95.3H128.5zM128.5 95.3H130V96.8H128.5zM124 96.8H125.5V98.3H124zM127 96.8H128.5V98.3H127zM124 98.3H125.5V99.8H124zM127 99.8H128.5V101.3H127zM124 101.3H125.5V102.8H124zM130 105.8H131.5V107.3H130zM127 108.8H128.5V110.3H127zM128.5 108.8H130V110.3H128.5z"/>
<path fill="#f0f624" d="M124 29.3H125.5V30.8H124zM125.5 41.3H127V42.8H125.5zM127 48.8H128.5V50.3H127zM127 50.3H128.5V51.8H127zM128.5 51.8H130V53.3H128.5zM131.5 56.3H133V57.8H131.5zM133 57.8H134.5V59.3H133zM133 59.3H134.5V60.8H133zM130 63.8H131.5V65.3H130zM131.5 63.8H133V65.3H131.5zM133 66.8H134.5V68.3H133zM133 72.8H134.5V74.3H133zM130 75.8H131.5V77.3H130zM130 77.3H131.5V78.8H130zM136 78.8H137.5V80.3H136zM137.5 78.8H139V80.3H137.5zM128.5 81.8H130V83.3H128.5zM131.5 83.3H133V84.8H131.5zM131.5 84.8H133V86.3H131.5zM131.5 89.3H133V90.8H131.5zM130 92.3H131.5V93.8H130zM133 101.3H134.5V102.8H133zM133 102.8H134.5V104.3H133z"/>
<path fill="#e4f624" d="M125.5 29.3H127V30.8H125.5zM124 30.8H125.5V32.3H124zM125.5 30.8H127V32.3H125.5zM124 32.3H125.5V33.8H124zM125.5 32.3H127V33.8H125.5zM127 32.3H128.5V33.8H127zM125.5 33.8H127V35.3H125.5zM127 35.3H128.5V36.8H127zM127 38.3H128.5V39.8H127zM127 39.8H128.5V41.3H127zM127 41.3H128.5V42.8H127zM127 42.8H128.5V44.3H127zM124 44.3H125.5V45.8H124zM125.5 50.3H127V51.8H125.5zM130 53.3H131.5V54.8H130zM130 54.8H131.5V56.3H130zM133 60.8H134.5V62.3H133zM130 65.3H131.5V66.8H130zM136 65.3H137.5V66.8H136zM134.5 72.8H136V74.3H134.5zM133 74.3H134.5V75.8H133zM134.5 74.3H136V75.8H134.5zM127 75.8H128.5V77.3H127zM130 78.8H131.5V80.3H130zM133 83.3H134.5V84.8H133zM133 84.8H134.5V86.3H133zM133 86.3H134.5V87.8H133zM133 87.8H134.5V89.3H133zM130 99.8H131.5V101.3H130zM133 99.8H134.5V101.3H133zM134.5 104.3H136V105.8H134.5zM133 107.3H134.5V108.8H133zM134.5 107.3H136V108.8H134.5zM130 108.8H131.5V110.3H130zM131.5 108.8H133V110.3H131.5z"/>
<path fill="#d8f624" d="M127 29.3H128.5V30.8H127zM127 33.8H128.5V35.3H127zM128.5 39.8H130V41.3H128.5zM125.5 47.3H127V48.8H125.5zM124 50.3H125.5V51.8H124zM131.5 53.3H133V54.8H131.5zM133 56.3H134.5V57.8H133zM134.5 60.8H136V62.3H134.5zM137.5 63.8H139V65.3H137.5zM137.5 65.3H139V66.8H137.5zM136 66.8H137.5V68.3H136zM134.5 71.3H136V72.8H134.5zM131.5 75.8H133V77.3H131.5zM134.5 75.8H136V77.3H134.5zM136 75.8H137.5V77.3H136zM137.5 77.3H139V78.8H137.5zM128.5 78.8H130V80.3H128.5zM136 80.3H137.5V81.8H136zM136 81.8H137.5V83.3H136zM134.5 83.3H136V84.8H134.5zM136 83.3H137.5V84.8H136zM133 89.3H134.5V90.8H133zM130 95.3H131.5V96.8H130zM131.5 98.3H133V99.8H131.5zM133 98.3H134.5V99.8H133zM134.5 101.3H136V102.8H134.5zM143.5 102.8H145V104.3H143.5z"/>
<path fill="#c6f62a" d="M128.5 29.3H130V30.8H128.5zM128.5 30.8H130V32.3H128.5zM128.5 32.3H130V33.8H128.5zM128.5 42.8H130V44.3H128.5zM137.5 50.3H139V51.8H137.5zM130 51.8H131.5V53.3H130zM133 54.8H134.5V56.3H133zM139 62.3H140.5V63.8H139zM139 65.3H140.5V66.8H139zM133 77.3H134.5V78.8H133zM133 78.8H134.5V80.3H133zM134.5 81.8H136V83.3H134.5zM140.5 81.8H142V83.3H140.5zM136 86.3H137.5V87.8H136zM143.5 89.3H145V90.8H143.5zM130 98.3H131.5V99.8H130zM143.5 99.8H145V101.3H143.5zM139 101.3H140.5V102.8H139zM137.5 102.8H139V104.3H137.5z"/>
<path fill="#84f63c" d="M131.5 29.3H133V30.8H131.5zM158.5 30.8H160V32.3H158.5zM148 32.3H149.5V33.8H148zM158.5 32.3H160V33.8H158.5zM160 32.3H161.5V33.8H160zM148 35.3H149.5V36.8H148zM149.5 35.3H151V36.8H149.5zM131.5 36.8H133V38.3H131.5zM134.5 36.8H136V38.3H134.5zM137.5 36.8H139V38.3H137.5zM148 36.8H149.5V38.3H148zM149.5 39.8H151V41.3H149.5zM136 41.3H137.5V42.8H136zM139 41.3H140.5V42.8H139zM131.5 42.8H133V44.3H131.5zM134.5 42.8H136V44.3H134.5zM139 42.8H140.5V44.3H139zM149.5 42.8H151V44.3H149.5zM151 42.8H152.5V44.3H151zM131.5 44.3H133V45.8H131.5zM133 44.3H134.5V45.8H133zM134.5 44.3H136V45.8H134.5zM148 53.3H149.5V54.8H148zM140.5 54.8H142V56.3H140.5zM148 69.8H149.5V71.3H148zM139 71.3H140.5V72.8H139zM146.5 74.3H148V75.8H146.5zM149.5 74.3H151V75.8H149.5zM151 74.3H152.5V75.8H151zM145 75.8H146.5V77.3H145zM148 75.8H149.5V77.3H148zM149.5 75.8H151V77.3H149.5zM143.5 77.3H145V78.8H143.5zM152.5 83.3H154V84.8H152.5zM143.5 84.8H145V86.3H143.5zM155.5 84.8H157V86.3H155.5zM160 84.8H161.5V86.3H160zM145 86.3H146.5V87.8H145zM148 86.3H149.5V87.8H148zM152.5 86.3H154V87.8H152.5zM149.5 87.8H151V89.3H149.5zM136 90.8H137.5V92.3H136zM142 90.8H143.5V92.3H142zM146.5 90.8H148V92.3H146.5zM136 96.8H137.5V98.3H136zM146.5 96.8H148V98.3H146.5zM142 98.3H143.5V99.8H142zM148 107.3H149.5V108.8H148zM148 108.8H149.5V110.3H148z"/>
<path fill="#30f078" d="M139 29.3H140.5V30.8H139zM142 29.3H143.5V30.8H142zM136 30.8H137.5V32.3H136zM152.5 48.8H154V50.3H152.5zM160 48.8H161.5V50.3H160zM160 93.8H161.5V95.3H160zM155.5 108.8H157V110.3H155.5zM157 108.8H158.5V110.3H157z"/>
<path fill="#48f066" d="M145 29.3H146.5V30.8H145zM154 30.8H155.5V32.3H154zM134.5 33.8H136V35.3H134.5zM157 39.8H158.5V41.3H157zM142 41.3H143.5V42.8H142zM160 51.8H161.5V53.3H160zM158.5 57.8H160V59.3H158.5zM152.5 66.8H154V68.3H152.5zM160 74.3H161.5V75.8H160zM154 90.8H155.5V92.3H154zM160 90.8H161.5V92.3H160zM152.5 105.8H154V107.3H152.5zM151 108.8H152.5V110.3H151zM152.5 108.8H154V110.3H152.5z"/>
<path fill="#60f654" d="M152.5 29.3H154V30.8H152.5zM151 32.3H152.5V33.8H151zM137.5 35.3H139V36.8H137.5zM160 35.3H161.5V36.8H160zM142 38.3H143.5V39.8H142zM151 38.3H152.5V39.8H151zM152.5 38.3H154V39.8H152.5zM146.5 41.3H148V42.8H146.5zM157 41.3H158.5V42.8H157zM151 47.3H152.5V48.8H151zM149.5 48.8H151V50.3H149.5zM155.5 59.3H157V60.8H155.5zM152.5 71.3H154V72.8H152.5zM145 78.8H146.5V80.3H145zM146.5 83.3H148V84.8H146.5zM151 83.3H152.5V84.8H151zM160 86.3H161.5V87.8H160zM149.5 93.8H151V95.3H149.5zM152.5 96.8H154V98.3H152.5zM151 98.3H152.5V99.8H151zM154 98.3H155.5V99.8H154zM160 101.3H161.5V102.8H160z"/>
<path fill="#8af63c" d="M158.5 29.3H160V30.8H158.5zM131.5 35.3H133V36.8H131.5zM148 38.3H149.5V39.8H148zM131.5 39.8H133V41.3H131.5zM139 39.8H140.5V41.3H139zM131.5 41.3H133V42.8H131.5zM130 44.3H131.5V45.8H130zM149.5 56.3H151V57.8H149.5zM139 57.8H140.5V59.3H139zM142 57.8H143.5V59.3H142zM145 57.8H146.5V59.3H145zM134.5 92.3H136V93.8H134.5zM139 96.8H140.5V98.3H139zM149.5 98.3H151V99.8H149.5zM149.5 99.8H151V101.3H149.5zM149.5 101.3H151V102.8H149.5zM148 104.3H149.5V105.8H148zM148 105.8H149.5V107.3H148z"/>
<path fill="#78f648" d="M160 29.3H161.5V30.8H160zM148 33.8H149.5V35.3H148zM134.5 35.3H136V36.8H134.5zM154 41.3H155.5V42.8H154zM140.5 42.8H142V44.3H140.5zM152.5 42.8H154V44.3H152.5zM154 42.8H155.5V44.3H154zM140.5 44.3H142V45.8H140.5zM139 45.8H140.5V47.3H139zM142 48.8H143.5V50.3H142zM142 50.3H143.5V51.8H142zM145 50.3H146.5V51.8H145zM145 51.8H146.5V53.3H145zM148 51.8H149.5V53.3H148zM146.5 57.8H148V59.3H146.5zM148 59.3H149.5V60.8H148zM149.5 59.3H151V60.8H149.5zM151 59.3H152.5V60.8H151zM146.5 66.8H148V68.3H146.5zM149.5 71.3H151V72.8H149.5zM152.5 72.8H154V74.3H152.5zM154 72.8H155.5V74.3H154zM148 77.3H149.5V78.8H148zM151 77.3H152.5V78.8H151zM154 77.3H155.5V78.8H154zM143.5 80.3H145V81.8H143.5zM152.5 81.8H154V83.3H152.5zM154 81.8H155.5V83.3H154zM157 81.8H158.5V83.3H157zM158.5 81.8H160V83.3H158.5zM154 83.3H155.5V84.8H154zM155.5 83.3H157V84.8H155.5zM154 84.8H155.5V86.3H154zM149.5 86.3H151V87.8H149.5zM151 86.3H152.5V87.8H151zM151 87.8H152.5V89.3H151zM142 92.3H143.5V93.8H142zM148 92.3H149.5V93.8H148zM137.5 93.8H139V95.3H137.5zM146.5 93.8H148V95.3H146.5zM139 95.3H140.5V96.8H139zM149.5 107.3H151V108.8H149.5zM149.5 108.8H151V110.3H149.5z"/>
<path fill="#fc4212" d="M83.5 30.8H85V32.3H83.5zM85 32.3H86.5V33.8H85zM95.5 38.3H97V39.8H95.5zM98.5 38.3H100V39.8H98.5zM95.5 39.8H97V41.3H95.5zM97 39.8H98.5V41.3H97zM95.5 41.3H97V42.8H95.5zM79 42.8H80.5V44.3H79zM95.5 42.8H97V44.3H95.5zM95.5 44.3H97V45.8H95.5zM94 48.8H95.5V50.3H94zM95.5 50.3H97V51.8H95.5zM98.5 50.3H100V51.8H98.5zM83.5 51.8H85V53.3H83.5zM97 51.8H98.5V53.3H97zM82 54.8H83.5V56.3H82zM91 60.8H92.5V62.3H91zM94 60.8H95.5V62.3H94zM95.5 60.8H97V62.3H95.5zM98.5 60.8H100V62.3H98.5zM95.5 62.3H97V63.8H95.5zM97 62.3H98.5V63.8H97zM97 69.8H98.5V71.3H97zM97 71.3H98.5V72.8H97zM91 78.8H92.5V80.3H91zM86.5 80.3H88V81.8H86.5zM79 83.3H80.5V84.8H79zM80.5 83.3H82V84.8H80.5zM82 83.3H83.5V84.8H82zM85 83.3H86.5V84.8H85zM95.5 90.8H97V92.3H95.5zM79 92.3H80.5V93.8H79zM80.5 92.3H82V93.8H80.5zM82 92.3H83.5V93.8H82zM83.5 92.3H85V93.8H83.5zM85 92.3H86.5V93.8H85zM82 96.8H83.5V98.3H82zM79 98.3H80.5V99.8H79zM80.5 98.3H82V99.8H80.5zM97 102.8H98.5V104.3H97zM98.5 102.8H100V104.3H98.5zM98.5 107.3H100V108.8H98.5zM98.5 108.8H100V110.3H98.5zM100 108.8H101.5V110.3H100zM101.5 108.8H103V110.3H101.5z"/>
<path fill="#fca818" d="M115 30.8H116.5V32.3H115zM115 32.3H116.5V33.8H115zM115 33.8H116.5V35.3H115zM113.5 38.3H115V39.8H113.5zM113.5 45.8H115V47.3H113.5zM116.5 65.3H118V66.8H116.5zM112 71.3H113.5V72.8H112zM113.5 71.3H115V72.8H113.5zM112 74.3H113.5V75.8H112zM113.5 74.3H115V75.8H113.5zM115 75.8H116.5V77.3H115zM115 78.8H116.5V80.3H115zM116.5 80.3H118V81.8H116.5zM115 83.3H116.5V84.8H115zM115 86.3H116.5V87.8H115zM116.5 92.3H118V93.8H116.5zM115 98.3H116.5V99.8H115zM116.5 98.3H118V99.8H116.5zM115 99.8H116.5V101.3H115zM116.5 99.8H118V101.3H116.5zM112 101.3H113.5V102.8H112zM113.5 102.8H115V104.3H113.5zM112 105.8H113.5V107.3H112zM115 105.8H116.5V107.3H115zM115 108.8H116.5V110.3H115z"/>
<path fill="#fcde1e" d="M119.5 30.8H121V32.3H119.5zM121 33.8H122.5V35.3H121zM124 36.8H125.5V38.3H124zM122.5 38.3H124V39.8H122.5zM122.5 39.8H124V41.3H122.5zM119.5 41.3H121V42.8H119.5zM121 41.3H122.5V42.8H121zM122.5 41.3H124V42.8H122.5zM118 42.8H119.5V44.3H118zM119.5 44.3H121V45.8H119.5zM119.5 47.3H121V48.8H119.5zM119.5 54.8H121V56.3H119.5zM122.5 57.8H124V59.3H122.5zM121 59.3H122.5V60.8H121zM122.5 60.8H124V62.3H122.5zM125.5 63.8H127V65.3H125.5zM125.5 65.3H127V66.8H125.5zM125.5 68.3H127V69.8H125.5zM125.5 71.3H127V72.8H125.5zM122.5 72.8H124V74.3H122.5zM125.5 72.8H127V74.3H125.5zM128.5 72.8H130V74.3H128.5zM121 74.3H122.5V75.8H121zM121 77.3H122.5V78.8H121zM122.5 78.8H124V80.3H122.5zM122.5 80.3H124V81.8H122.5zM124 80.3H125.5V81.8H124zM125.5 81.8H127V83.3H125.5zM127 84.8H128.5V86.3H127zM127 92.3H128.5V93.8H127zM124 93.8H125.5V95.3H124zM122.5 96.8H124V98.3H122.5zM124 104.3H125.5V105.8H124zM121 105.8H122.5V107.3H121zM124 105.8H125.5V107.3H124zM125.5 105.8H127V107.3H125.5zM127 105.8H128.5V107.3H127zM128.5 107.3H130V108.8H128.5z"/>
<path fill="#aef630" d="M130 30.8H131.5V32.3H130zM130 32.3H131.5V33.8H130zM137.5 47.3H139V48.8H137.5zM133 48.8H134.5V50.3H133zM136 48.8H137.5V50.3H136zM139 50.3H140.5V51.8H139zM137.5 51.8H139V53.3H137.5zM137.5 53.3H139V54.8H137.5zM134.5 54.8H136V56.3H134.5zM137.5 59.3H139V60.8H137.5zM142 59.3H143.5V60.8H142zM139 60.8H140.5V62.3H139zM142 62.3H143.5V63.8H142zM140.5 68.3H142V69.8H140.5zM136 71.3H137.5V72.8H136zM139 72.8H140.5V74.3H139zM142 72.8H143.5V74.3H142zM140.5 75.8H142V77.3H140.5zM142 78.8H143.5V80.3H142zM139 87.8H140.5V89.3H139zM142 89.3H143.5V90.8H142zM133 90.8H134.5V92.3H133zM146.5 99.8H148V101.3H146.5zM142 101.3H143.5V102.8H142zM143.5 108.8H145V110.3H143.5z"/>
<path fill="#5af660" d="M146.5 30.8H148V32.3H146.5zM151 30.8H152.5V32.3H151zM157 32.3H158.5V33.8H157zM145 33.8H146.5V35.3H145zM154 35.3H155.5V36.8H154zM143.5 36.8H145V38.3H143.5zM160 42.8H161.5V44.3H160zM149.5 50.3H151V51.8H149.5zM158.5 65.3H160V66.8H158.5zM160 65.3H161.5V66.8H160zM145 84.8H146.5V86.3H145zM151 92.3H152.5V93.8H151zM158.5 104.3H160V105.8H158.5z"/>
<path fill="#6cf64e" d="M149.5 30.8H151V32.3H149.5zM149.5 33.8H151V35.3H149.5zM139 35.3H140.5V36.8H139zM160 36.8H161.5V38.3H160zM131.5 38.3H133V39.8H131.5zM145 38.3H146.5V39.8H145zM154 38.3H155.5V39.8H154zM148 39.8H149.5V41.3H148zM151 39.8H152.5V41.3H151zM152.5 41.3H154V42.8H152.5zM158.5 41.3H160V42.8H158.5zM155.5 42.8H157V44.3H155.5zM149.5 44.3H151V45.8H149.5zM140.5 45.8H142V47.3H140.5zM149.5 47.3H151V48.8H149.5zM145 48.8H146.5V50.3H145zM146.5 50.3H148V51.8H146.5zM148 50.3H149.5V51.8H148zM142 51.8H143.5V53.3H142zM149.5 53.3H151V54.8H149.5zM145 54.8H146.5V56.3H145zM146.5 54.8H148V56.3H146.5zM149.5 54.8H151V56.3H149.5zM151 56.3H152.5V57.8H151zM158.5 56.3H160V57.8H158.5zM149.5 57.8H151V59.3H149.5zM152.5 59.3H154V60.8H152.5zM160 66.8H161.5V68.3H160zM154 69.8H155.5V71.3H154zM151 71.3H152.5V72.8H151zM154 71.3H155.5V72.8H154zM160 71.3H161.5V72.8H160zM155.5 72.8H157V74.3H155.5zM152.5 74.3H154V75.8H152.5zM154 74.3H155.5V75.8H154zM152.5 77.3H154V78.8H152.5zM152.5 78.8H154V80.3H152.5zM154 78.8H155.5V80.3H154zM155.5 80.3H157V81.8H155.5zM157 80.3H158.5V81.8H157zM146.5 84.8H148V86.3H146.5zM151 84.8H152.5V86.3H151zM154 86.3H155.5V87.8H154zM158.5 86.3H160V87.8H158.5zM154 87.8H155.5V89.3H154zM149.5 90.8H151V92.3H149.5zM137.5 92.3H139V93.8H137.5zM149.5 92.3H151V93.8H149.5zM136 93.8H137.5V95.3H136zM139 93.8H140.5V95.3H139zM140.5 96.8H142V98.3H140.5zM142 96.8H143.5V98.3H142zM151 96.8H152.5V98.3H151zM158.5 99.8H160V101.3H158.5zM149.5 105.8H151V107.3H149.5z"/>
<path fill="#4ef060" d="M152.5 30.8H154V32.3H152.5zM136 33.8H137.5V35.3H136zM142 42.8H143.5V44.3H142zM151 53.3H152.5V54.8H151zM157 59.3H158.5V60.8H157zM155.5 66.8H157V68.3H155.5zM155.5 99.8H157V101.3H155.5z"/>
<path fill="#48f06c" d="M155.5 30.8H157V32.3H155.5zM139 33.8H140.5V35.3H139zM145 44.3H146.5V45.8H145zM158.5 44.3H160V45.8H158.5zM142 45.8H143.5V47.3H142zM158.5 53.3H160V54.8H158.5zM157 54.8H158.5V56.3H157zM154 62.3H155.5V63.8H154zM157 62.3H158.5V63.8H157zM158.5 62.3H160V63.8H158.5zM148 63.8H149.5V65.3H148zM152.5 63.8H154V65.3H152.5zM158.5 63.8H160V65.3H158.5zM151 66.8H152.5V68.3H151zM149.5 68.3H151V69.8H149.5zM151 68.3H152.5V69.8H151zM152.5 68.3H154V69.8H152.5zM157 68.3H158.5V69.8H157zM158.5 74.3H160V75.8H158.5zM157 90.8H158.5V92.3H157zM154 93.8H155.5V95.3H154zM154 95.3H155.5V96.8H154zM155.5 96.8H157V98.3H155.5zM155.5 98.3H157V99.8H155.5zM152.5 104.3H154V105.8H152.5zM155.5 104.3H157V105.8H155.5zM155.5 105.8H157V107.3H155.5zM154 107.3H155.5V108.8H154zM158.5 107.3H160V108.8H158.5z"/>
<path fill="#fc3c12" d="M83.5 32.3H85V33.8H83.5zM98.5 39.8H100V41.3H98.5zM97 41.3H98.5V42.8H97zM98.5 41.3H100V42.8H98.5zM97 42.8H98.5V44.3H97zM98.5 42.8H100V44.3H98.5zM97 44.3H98.5V45.8H97zM98.5 44.3H100V45.8H98.5zM94 45.8H95.5V47.3H94zM95.5 45.8H97V47.3H95.5zM98.5 45.8H100V47.3H98.5zM94 47.3H95.5V48.8H94zM95.5 47.3H97V48.8H95.5zM98.5 47.3H100V48.8H98.5zM95.5 48.8H97V50.3H95.5zM97 48.8H98.5V50.3H97zM98.5 48.8H100V50.3H98.5zM97 50.3H98.5V51.8H97zM83.5 54.8H85V56.3H83.5zM89.5 60.8H91V62.3H89.5zM100 60.8H101.5V62.3H100zM86.5 83.3H88V84.8H86.5zM86.5 84.8H88V86.3H86.5zM79 96.8H80.5V98.3H79zM80.5 96.8H82V98.3H80.5z"/>
<path fill="#fcd81e" d="M119.5 32.3H121V33.8H119.5zM121 35.3H122.5V36.8H121zM121 36.8H122.5V38.3H121zM118 38.3H119.5V39.8H118zM119.5 38.3H121V39.8H119.5zM121 38.3H122.5V39.8H121zM124 38.3H125.5V39.8H124zM118 39.8H119.5V41.3H118zM119.5 39.8H121V41.3H119.5zM121 39.8H122.5V41.3H121zM124 39.8H125.5V41.3H124zM118 41.3H119.5V42.8H118zM118 44.3H119.5V45.8H118zM119.5 53.3H121V54.8H119.5zM121 56.3H122.5V57.8H121zM121 57.8H122.5V59.3H121zM125.5 62.3H127V63.8H125.5zM122.5 63.8H124V65.3H122.5zM124 63.8H125.5V65.3H124zM125.5 66.8H127V68.3H125.5zM124 69.8H125.5V71.3H124zM124 71.3H125.5V72.8H124zM121 75.8H122.5V77.3H121zM118 77.3H119.5V78.8H118zM119.5 77.3H121V78.8H119.5zM121 80.3H122.5V81.8H121zM124 81.8H125.5V83.3H124zM122.5 83.3H124V84.8H122.5zM124 83.3H125.5V84.8H124zM125.5 83.3H127V84.8H125.5zM124 84.8H125.5V86.3H124zM125.5 84.8H127V86.3H125.5zM121 86.3H122.5V87.8H121zM127 86.3H128.5V87.8H127zM127 87.8H128.5V89.3H127zM125.5 89.3H127V90.8H125.5zM127 89.3H128.5V90.8H127zM122.5 90.8H124V92.3H122.5zM124 90.8H125.5V92.3H124zM125.5 90.8H127V92.3H125.5zM127 90.8H128.5V92.3H127zM122.5 92.3H124V93.8H122.5zM124 92.3H125.5V93.8H124zM125.5 92.3H127V93.8H125.5zM122.5 93.8H124V95.3H122.5zM122.5 95.3H124V96.8H122.5zM121 96.8H122.5V98.3H121zM122.5 98.3H124V99.8H122.5zM122.5 99.8H124V101.3H122.5zM121 101.3H122.5V102.8H121zM121 102.8H122.5V104.3H121zM122.5 102.8H124V104.3H122.5zM121 104.3H122.5V105.8H121zM122.5 105.8H124V107.3H122.5zM128.5 105.8H130V107.3H128.5zM121 107.3H122.5V108.8H121zM124 107.3H125.5V108.8H124z"/>
<path fill="#18f08a" d="M137.5 32.3H139V33.8H137.5zM152.5 51.8H154V53.3H152.5zM154 51.8H155.5V53.3H154zM155.5 51.8H157V53.3H155.5z"/>
<path fill="#fc5412" d="M85 33.8H86.5V35.3H85zM92.5 39.8H94V41.3H92.5zM92.5 41.3H94V42.8H92.5zM82 42.8H83.5V44.3H82zM83.5 50.3H85V51.8H83.5zM92.5 77.3H94V78.8H92.5zM89.5 80.3H91V81.8H89.5zM82 84.8H83.5V86.3H82zM92.5 90.8H94V92.3H92.5zM91 95.3H92.5V96.8H91zM82 101.3H83.5V102.8H82z"/>
<path fill="#fcb418" d="M116.5 33.8H118V35.3H116.5zM116.5 35.3H118V36.8H116.5zM115 38.3H116.5V39.8H115zM113.5 41.3H115V42.8H113.5zM113.5 44.3H115V45.8H113.5zM115 47.3H116.5V48.8H115zM116.5 47.3H118V48.8H116.5zM115 48.8H116.5V50.3H115zM116.5 48.8H118V50.3H116.5zM116.5 59.3H118V60.8H116.5zM118 60.8H119.5V62.3H118zM116.5 62.3H118V63.8H116.5zM118 65.3H119.5V66.8H118zM119.5 65.3H121V66.8H119.5zM121 66.8H122.5V68.3H121zM116.5 68.3H118V69.8H116.5zM119.5 68.3H121V69.8H119.5zM118 69.8H119.5V71.3H118zM119.5 69.8H121V71.3H119.5zM116.5 71.3H118V72.8H116.5zM119.5 71.3H121V72.8H119.5zM116.5 75.8H118V77.3H116.5zM115 77.3H116.5V78.8H115zM116.5 78.8H118V80.3H116.5zM116.5 81.8H118V83.3H116.5zM118 93.8H119.5V95.3H118zM118 96.8H119.5V98.3H118zM118 99.8H119.5V101.3H118zM115 102.8H116.5V104.3H115zM116.5 102.8H118V104.3H116.5zM119.5 104.3H121V105.8H119.5zM116.5 105.8H118V107.3H116.5zM116.5 107.3H118V108.8H116.5zM116.5 108.8H118V110.3H116.5zM118 108.8H119.5V110.3H118zM119.5 108.8H121V110.3H119.5z"/>
<path fill="#fcc618" d="M118 33.8H119.5V35.3H118zM115 42.8H116.5V44.3H115zM118 47.3H119.5V48.8H118zM118 51.8H119.5V53.3H118zM116.5 54.8H118V56.3H116.5zM118 57.8H119.5V59.3H118zM118 59.3H119.5V60.8H118zM121 62.3H122.5V63.8H121zM121 69.8H122.5V71.3H121zM118 72.8H119.5V74.3H118zM116.5 74.3H118V75.8H116.5zM118 75.8H119.5V77.3H118zM119.5 75.8H121V77.3H119.5zM116.5 77.3H118V78.8H116.5zM119.5 87.8H121V89.3H119.5zM119.5 89.3H121V90.8H119.5zM119.5 96.8H121V98.3H119.5zM122.5 108.8H124V110.3H122.5z"/>
<path fill="#f6f61e" d="M124 33.8H125.5V35.3H124zM122.5 47.3H124V48.8H122.5zM122.5 50.3H124V51.8H122.5zM125.5 51.8H127V53.3H125.5zM127 59.3H128.5V60.8H127zM128.5 63.8H130V65.3H128.5zM134.5 63.8H136V65.3H134.5zM128.5 65.3H130V66.8H128.5zM130 68.3H131.5V69.8H130zM131.5 68.3H133V69.8H131.5zM133 68.3H134.5V69.8H133zM131.5 74.3H133V75.8H131.5zM127 77.3H128.5V78.8H127zM130 84.8H131.5V86.3H130zM131.5 87.8H133V89.3H131.5zM130 102.8H131.5V104.3H130zM131.5 104.3H133V105.8H131.5zM133 104.3H134.5V105.8H133z"/>
<path fill="#a8f630" d="M130 33.8H131.5V35.3H130zM128.5 44.3H130V45.8H128.5zM131.5 47.3H133V48.8H131.5zM130 48.8H131.5V50.3H130zM134.5 48.8H136V50.3H134.5zM139 48.8H140.5V50.3H139zM134.5 53.3H136V54.8H134.5zM137.5 54.8H139V56.3H137.5zM139 59.3H140.5V60.8H139zM140.5 59.3H142V60.8H140.5zM137.5 60.8H139V62.3H137.5zM140.5 60.8H142V62.3H140.5zM142 60.8H143.5V62.3H142zM140.5 66.8H142V68.3H140.5zM142 68.3H143.5V69.8H142zM142 69.8H143.5V71.3H142zM143.5 69.8H145V71.3H143.5zM145 71.3H146.5V72.8H145zM137.5 72.8H139V74.3H137.5zM140.5 72.8H142V74.3H140.5zM145 72.8H146.5V74.3H145zM140.5 74.3H142V75.8H140.5zM142 77.3H143.5V78.8H142zM139 86.3H140.5V87.8H139zM140.5 86.3H142V87.8H140.5zM142 86.3H143.5V87.8H142zM140.5 87.8H142V89.3H140.5zM136 89.3H137.5V90.8H136zM145 89.3H146.5V90.8H145zM143.5 90.8H145V92.3H143.5zM133 92.3H134.5V93.8H133zM136 98.3H137.5V99.8H136zM139 99.8H140.5V101.3H139zM142 99.8H143.5V101.3H142zM148 99.8H149.5V101.3H148zM142 107.3H143.5V108.8H142zM145 107.3H146.5V108.8H145zM137.5 108.8H139V110.3H137.5zM139 108.8H140.5V110.3H139zM142 108.8H143.5V110.3H142zM145 108.8H146.5V110.3H145z"/>
<path fill="#72f648" d="M133 33.8H134.5V35.3H133zM140.5 38.3H142V39.8H140.5zM146.5 38.3H148V39.8H146.5zM140.5 39.8H142V41.3H140.5zM151 41.3H152.5V42.8H151zM155.5 41.3H157V42.8H155.5zM151 44.3H152.5V45.8H151zM143.5 51.8H145V53.3H143.5zM143.5 53.3H145V54.8H143.5zM145 53.3H146.5V54.8H145zM146.5 53.3H148V54.8H146.5zM146.5 60.8H148V62.3H146.5zM148 60.8H149.5V62.3H148zM149.5 60.8H151V62.3H149.5zM157 72.8H158.5V74.3H157zM146.5 75.8H148V77.3H146.5zM151 78.8H152.5V80.3H151zM160 81.8H161.5V83.3H160zM139 92.3H140.5V93.8H139zM148 95.3H149.5V96.8H148zM158.5 101.3H160V102.8H158.5zM149.5 104.3H151V105.8H149.5z"/>
<path fill="#2af07e" d="M140.5 33.8H142V35.3H140.5zM158.5 47.3H160V48.8H158.5zM157 51.8H158.5V53.3H157zM155.5 53.3H157V54.8H155.5zM160 62.3H161.5V63.8H160zM157 65.3H158.5V66.8H157zM155.5 93.8H157V95.3H155.5zM157 93.8H158.5V95.3H157zM155.5 95.3H157V96.8H155.5zM157 95.3H158.5V96.8H157z"/>
<path fill="#c0f62a" d="M128.5 35.3H130V36.8H128.5zM131.5 50.3H133V51.8H131.5zM133 53.3H134.5V54.8H133zM134.5 57.8H136V59.3H134.5zM139 66.8H140.5V68.3H139zM137.5 68.3H139V69.8H137.5zM131.5 80.3H133V81.8H131.5zM140.5 80.3H142V81.8H140.5zM139 83.3H140.5V84.8H139zM134.5 86.3H136V87.8H134.5zM137.5 86.3H139V87.8H137.5zM131.5 92.3H133V93.8H131.5zM131.5 93.8H133V95.3H131.5zM134.5 98.3H136V99.8H134.5zM136 99.8H137.5V101.3H136zM139 102.8H140.5V104.3H139zM142 102.8H143.5V104.3H142zM139 105.8H140.5V107.3H139zM140.5 105.8H142V107.3H140.5zM140.5 107.3H142V108.8H140.5z"/>
<path fill="#b4f630" d="M130 35.3H131.5V36.8H130zM131.5 48.8H133V50.3H131.5zM133 50.3H134.5V51.8H133zM136 50.3H137.5V51.8H136zM134.5 51.8H136V53.3H134.5zM136 54.8H137.5V56.3H136zM136 56.3H137.5V57.8H136zM136 57.8H137.5V59.3H136zM140.5 62.3H142V63.8H140.5zM140.5 63.8H142V65.3H140.5zM142 63.8H143.5V65.3H142zM140.5 65.3H142V66.8H140.5zM139 68.3H140.5V69.8H139zM139 84.8H140.5V86.3H139zM140.5 84.8H142V86.3H140.5zM137.5 87.8H139V89.3H137.5zM142 87.8H143.5V89.3H142zM143.5 87.8H145V89.3H143.5zM134.5 89.3H136V90.8H134.5zM133 93.8H134.5V95.3H133zM133 95.3H134.5V96.8H133zM145 99.8H146.5V101.3H145zM140.5 101.3H142V102.8H140.5zM140.5 102.8H142V104.3H140.5zM145 102.8H146.5V104.3H145zM139 104.3H140.5V105.8H139zM140.5 104.3H142V105.8H140.5zM142 104.3H143.5V105.8H142zM145 104.3H146.5V105.8H145zM137.5 105.8H139V107.3H137.5zM145 105.8H146.5V107.3H145zM137.5 107.3H139V108.8H137.5zM139 107.3H140.5V108.8H139zM143.5 107.3H145V108.8H143.5z"/>
<path fill="#90f636" d="M133 35.3H134.5V36.8H133zM139 36.8H140.5V38.3H139zM149.5 36.8H151V38.3H149.5zM133 38.3H134.5V39.8H133zM134.5 38.3H136V39.8H134.5zM136 38.3H137.5V39.8H136zM149.5 38.3H151V39.8H149.5zM130 42.8H131.5V44.3H130zM137.5 44.3H139V45.8H137.5zM130 45.8H131.5V47.3H130zM133 45.8H134.5V47.3H133zM134.5 45.8H136V47.3H134.5zM136 47.3H137.5V48.8H136zM139 51.8H140.5V53.3H139zM140.5 53.3H142V54.8H140.5zM142 56.3H143.5V57.8H142zM148 56.3H149.5V57.8H148zM137.5 57.8H139V59.3H137.5zM143.5 59.3H145V60.8H143.5zM143.5 65.3H145V66.8H143.5zM145 66.8H146.5V68.3H145zM146.5 69.8H148V71.3H146.5zM143.5 71.3H145V72.8H143.5zM148 74.3H149.5V75.8H148zM146.5 86.3H148V87.8H146.5zM148 87.8H149.5V89.3H148zM134.5 90.8H136V92.3H134.5zM143.5 96.8H145V98.3H143.5zM145 96.8H146.5V98.3H145zM149.5 96.8H151V98.3H149.5zM145 98.3H146.5V99.8H145zM146.5 107.3H148V108.8H146.5zM146.5 108.8H148V110.3H146.5z"/>
<path fill="#6cf654" d="M158.5 35.3H160V36.8H158.5zM143.5 38.3H145V39.8H143.5zM160 41.3H161.5V42.8H160zM142 47.3H143.5V48.8H142zM145 47.3H146.5V48.8H145zM148 47.3H149.5V48.8H148zM148 48.8H149.5V50.3H148zM143.5 81.8H145V83.3H143.5zM136 92.3H137.5V93.8H136zM140.5 92.3H142V93.8H140.5zM146.5 95.3H148V96.8H146.5z"/>
<path fill="#fcc018" d="M116.5 36.8H118V38.3H116.5zM115 39.8H116.5V41.3H115zM115 41.3H116.5V42.8H115zM115 45.8H116.5V47.3H115zM116.5 45.8H118V47.3H116.5zM116.5 53.3H118V54.8H116.5zM116.5 56.3H118V57.8H116.5zM119.5 60.8H121V62.3H119.5zM118 63.8H119.5V65.3H118zM119.5 63.8H121V65.3H119.5zM121 65.3H122.5V66.8H121zM122.5 66.8H124V68.3H122.5zM121 68.3H122.5V69.8H121zM118 71.3H119.5V72.8H118zM116.5 72.8H118V74.3H116.5zM119.5 72.8H121V74.3H119.5zM115 74.3H116.5V75.8H115zM118 78.8H119.5V80.3H118zM118 80.3H119.5V81.8H118zM118 81.8H119.5V83.3H118zM118 84.8H119.5V86.3H118zM119.5 84.8H121V86.3H119.5zM116.5 86.3H118V87.8H116.5zM116.5 87.8H118V89.3H116.5zM118 89.3H119.5V90.8H118zM118 90.8H119.5V92.3H118zM118 92.3H119.5V93.8H118zM119.5 93.8H121V95.3H119.5zM119.5 95.3H121V96.8H119.5zM119.5 98.3H121V99.8H119.5zM119.5 99.8H121V101.3H119.5zM116.5 101.3H118V102.8H116.5zM118 102.8H119.5V104.3H118zM119.5 102.8H121V104.3H119.5zM119.5 105.8H121V107.3H119.5z"/>
<path fill="#f6f01e" d="M127 36.8H128.5V38.3H127zM122.5 45.8H124V47.3H122.5zM121 48.8H122.5V50.3H121zM122.5 48.8H124V50.3H122.5zM130 56.3H131.5V57.8H130zM131.5 57.8H133V59.3H131.5zM131.5 60.8H133V62.3H131.5zM130 62.3H131.5V63.8H130zM127 63.8H128.5V65.3H127zM127 65.3H128.5V66.8H127zM134.5 68.3H136V69.8H134.5zM131.5 71.3H133V72.8H131.5zM130 83.3H131.5V84.8H130zM130 90.8H131.5V92.3H130zM127 98.3H128.5V99.8H127zM128.5 99.8H130V101.3H128.5zM131.5 101.3H133V102.8H131.5zM131.5 105.8H133V107.3H131.5zM130 107.3H131.5V108.8H130z"/>
<path fill="#8af636" d="M136 36.8H137.5V38.3H136zM133 42.8H134.5V44.3H133zM139 47.3H140.5V48.8H139zM140.5 48.8H142V50.3H140.5zM146.5 56.3H148V57.8H146.5zM142 71.3H143.5V72.8H142zM158.5 83.3H160V84.8H158.5zM152.5 84.8H154V86.3H152.5zM146.5 89.3H148V90.8H146.5zM137.5 95.3H139V96.8H137.5z"/>
<path fill="#d8f62a" d="M128.5 38.3H130V39.8H128.5z"/>
<path fill="#9cf630" d="M137.5 38.3H139V39.8H137.5zM136 51.8H137.5V53.3H136zM136 53.3H137.5V54.8H136zM143.5 60.8H145V62.3H143.5zM143.5 66.8H145V68.3H143.5zM143.5 68.3H145V69.8H143.5zM140.5 69.8H142V71.3H140.5zM142 74.3H143.5V75.8H142zM142 75.8H143.5V77.3H142zM146.5 87.8H148V89.3H146.5zM143.5 92.3H145V93.8H143.5zM143.5 93.8H145V95.3H143.5zM146.5 104.3H148V105.8H146.5z"/>
<path fill="#a2f630" d="M139 38.3H140.5V39.8H139zM130 39.8H131.5V41.3H130zM133 39.8H134.5V41.3H133zM134.5 39.8H136V41.3H134.5zM137.5 39.8H139V41.3H137.5zM130 41.3H131.5V42.8H130zM137.5 45.8H139V47.3H137.5zM130 47.3H131.5V48.8H130zM139 53.3H140.5V54.8H139zM143.5 62.3H145V63.8H143.5zM139 69.8H140.5V71.3H139zM145 69.8H146.5V71.3H145zM142 84.8H143.5V86.3H142zM137.5 89.3H139V90.8H137.5zM134.5 95.3H136V96.8H134.5zM134.5 96.8H136V98.3H134.5zM145 101.3H146.5V102.8H145z"/>
<path fill="#d2f62a" d="M128.5 41.3H130V42.8H128.5zM125.5 44.3H127V45.8H125.5zM124 45.8H125.5V47.3H124zM127 45.8H128.5V47.3H127zM128.5 50.3H130V51.8H128.5zM134.5 59.3H136V60.8H134.5zM136 59.3H137.5V60.8H136zM139 63.8H140.5V65.3H139zM137.5 66.8H139V68.3H137.5zM136 74.3H137.5V75.8H136zM133 75.8H134.5V77.3H133zM131.5 77.3H133V78.8H131.5zM134.5 77.3H136V78.8H134.5zM131.5 78.8H133V80.3H131.5zM139 81.8H140.5V83.3H139zM137.5 83.3H139V84.8H137.5zM137.5 84.8H139V86.3H137.5zM131.5 90.8H133V92.3H131.5zM130 96.8H131.5V98.3H130zM136 101.3H137.5V102.8H136zM143.5 104.3H145V105.8H143.5zM143.5 105.8H145V107.3H143.5zM133 108.8H134.5V110.3H133z"/>
<path fill="#96f636" d="M133 41.3H134.5V42.8H133zM134.5 41.3H136V42.8H134.5zM131.5 45.8H133V47.3H131.5zM133 47.3H134.5V48.8H133zM134.5 47.3H136V48.8H134.5zM140.5 50.3H142V51.8H140.5zM139 54.8H140.5V56.3H139zM140.5 56.3H142V57.8H140.5zM145 56.3H146.5V57.8H145zM145 59.3H146.5V60.8H145zM145 62.3H146.5V63.8H145zM143.5 63.8H145V65.3H143.5zM142 65.3H143.5V66.8H142zM142 66.8H143.5V68.3H142zM137.5 71.3H139V72.8H137.5zM148 71.3H149.5V72.8H148zM145 74.3H146.5V75.8H145zM158.5 84.8H160V86.3H158.5zM139 89.3H140.5V90.8H139zM145 92.3H146.5V93.8H145zM145 93.8H146.5V95.3H145zM137.5 96.8H139V98.3H137.5zM139 98.3H140.5V99.8H139zM146.5 98.3H148V99.8H146.5zM148 98.3H149.5V99.8H148zM140.5 99.8H142V101.3H140.5zM146.5 101.3H148V102.8H146.5zM148 101.3H149.5V102.8H148zM148 102.8H149.5V104.3H148zM146.5 105.8H148V107.3H146.5z"/>
<path fill="#54f060" d="M157 42.8H158.5V44.3H157zM158.5 54.8H160V56.3H158.5zM160 54.8H161.5V56.3H160zM155.5 57.8H157V59.3H155.5zM154 63.8H155.5V65.3H154zM149.5 65.3H151V66.8H149.5zM146.5 78.8H148V80.3H146.5zM154 89.3H155.5V90.8H154zM154 102.8H155.5V104.3H154zM157 102.8H158.5V104.3H157zM160 104.3H161.5V105.8H160z"/>
<path fill="#fc3612" d="M97 45.8H98.5V47.3H97zM97 47.3H98.5V48.8H97z"/>
<path fill="#72f64e" d="M146.5 47.3H148V48.8H146.5zM154 75.8H155.5V77.3H154z"/>
<path fill="#18f09c" d="M155.5 48.8H157V50.3H155.5zM157 48.8H158.5V50.3H157z"/>
<path fill="#18f090" d="M158.5 48.8H160V50.3H158.5zM160 59.3H161.5V60.8H160z"/>
<path fill="#1ef084" d="M152.5 50.3H154V51.8H152.5zM157 50.3H158.5V51.8H157z"/>
<path fill="#18f096" d="M154 50.3H155.5V51.8H154zM155.5 50.3H157V51.8H155.5z"/>
<path fill="#f6f624" d="M124 51.8H125.5V53.3H124zM131.5 62.3H133V63.8H131.5zM127 69.8H128.5V71.3H127zM127 74.3H128.5V75.8H127zM128.5 75.8H130V77.3H128.5zM127 78.8H128.5V80.3H127zM139 78.8H140.5V80.3H139zM131.5 86.3H133V87.8H131.5zM130 101.3H131.5V102.8H130zM131.5 102.8H133V104.3H131.5z"/>
<path fill="#2af084" d="M154 53.3H155.5V54.8H154zM160 95.3H161.5V96.8H160z"/>
<path fill="#3cf078" d="M157 53.3H158.5V54.8H157zM148 81.8H149.5V83.3H148zM158.5 95.3H160V96.8H158.5z"/></g><ellipse cx="137.4" cy="38.3" rx="2.6" ry="2.8" fill="#1c0cd8"/><ellipse cx="137.4" cy="65.0" rx="2.6" ry="2.8" fill="#1c0cd8"/><ellipse cx="137.4" cy="88.7" rx="2.6" ry="2.8" fill="#1c0cd8"/></g></g>
<g clip-path="url(#c2)"><g filter="url(#bl)"><g shape-rendering="crispEdges"><path fill="#fc1e0c" d="M156.5 27.8H159V30.3H156.5zM161.5 35.3H164V37.8H161.5zM156.5 37.8H159V40.3H156.5zM161.5 37.8H164V40.3H161.5zM166.5 40.3H169V42.8H166.5zM169 40.3H171.5V42.8H169zM171.5 50.3H174V52.8H171.5zM161.5 52.8H164V55.3H161.5zM164 52.8H166.5V55.3H164zM166.5 52.8H169V55.3H166.5zM171.5 52.8H174V55.3H171.5zM156.5 55.3H159V57.8H156.5zM166.5 55.3H169V57.8H166.5zM156.5 57.8H159V60.3H156.5zM166.5 57.8H169V60.3H166.5zM161.5 60.3H164V62.8H161.5zM164 60.3H166.5V62.8H164zM166.5 60.3H169V62.8H166.5zM156.5 62.8H159V65.3H156.5zM176.5 62.8H179V65.3H176.5zM159 65.3H161.5V67.8H159zM161.5 65.3H164V67.8H161.5zM169 65.3H171.5V67.8H169zM171.5 65.3H174V67.8H171.5zM176.5 65.3H179V67.8H176.5zM179 65.3H181.5V67.8H179zM159 67.8H161.5V70.3H159zM161.5 67.8H164V70.3H161.5zM164 67.8H166.5V70.3H164zM174 67.8H176.5V70.3H174zM176.5 67.8H179V70.3H176.5zM161.5 70.3H164V72.8H161.5zM164 70.3H166.5V72.8H164zM166.5 70.3H169V72.8H166.5zM174 70.3H176.5V72.8H174zM176.5 70.3H179V72.8H176.5zM179 70.3H181.5V72.8H179zM161.5 72.8H164V75.3H161.5zM161.5 75.3H164V77.8H161.5zM156.5 77.8H159V80.3H156.5zM159 77.8H161.5V80.3H159zM169 77.8H171.5V80.3H169zM171.5 80.3H174V82.8H171.5zM156.5 82.8H159V85.3H156.5zM171.5 82.8H174V85.3H171.5zM179 82.8H181.5V85.3H179zM181.5 82.8H184V85.3H181.5zM156.5 85.3H159V87.8H156.5zM159 85.3H161.5V87.8H159zM171.5 85.3H174V87.8H171.5zM174 85.3H176.5V87.8H174zM176.5 85.3H179V87.8H176.5zM156.5 87.8H159V90.3H156.5zM174 87.8H176.5V90.3H174zM176.5 87.8H179V90.3H176.5zM156.5 90.3H159V92.8H156.5zM161.5 90.3H164V92.8H161.5zM171.5 90.3H174V92.8H171.5zM156.5 92.8H159V95.3H156.5zM164 92.8H166.5V95.3H164zM171.5 92.8H174V95.3H171.5zM174 92.8H176.5V95.3H174zM179 92.8H181.5V95.3H179zM156.5 95.3H159V97.8H156.5zM169 95.3H171.5V97.8H169zM171.5 95.3H174V97.8H171.5zM174 95.3H176.5V97.8H174zM166.5 97.8H169V100.3H166.5zM171.5 97.8H174V100.3H171.5zM166.5 100.3H169V102.8H166.5zM171.5 100.3H174V102.8H171.5zM176.5 100.3H179V102.8H176.5zM179 100.3H181.5V102.8H179zM161.5 102.8H164V105.3H161.5zM164 102.8H166.5V105.3H164zM181.5 102.8H184V105.3H181.5zM156.5 105.3H159V107.8H156.5zM159 105.3H161.5V107.8H159zM164 105.3H166.5V107.8H164zM169 105.3H171.5V107.8H169zM156.5 107.8H159V110.3H156.5z"/>
<path fill="#fc180c" d="M159 27.8H161.5V30.3H159zM174 27.8H176.5V30.3H174zM174 30.3H176.5V32.8H174zM164 32.8H166.5V35.3H164zM164 37.8H166.5V40.3H164zM166.5 37.8H169V40.3H166.5zM156.5 40.3H159V42.8H156.5zM159 55.3H161.5V57.8H159zM161.5 55.3H164V57.8H161.5zM161.5 57.8H164V60.3H161.5zM164 57.8H166.5V60.3H164zM156.5 60.3H159V62.8H156.5zM159 60.3H161.5V62.8H159zM169 60.3H171.5V62.8H169zM174 60.3H176.5V62.8H174zM156.5 65.3H159V67.8H156.5zM156.5 67.8H159V70.3H156.5zM156.5 70.3H159V72.8H156.5zM159 70.3H161.5V72.8H159zM169 70.3H171.5V72.8H169zM159 72.8H161.5V75.3H159zM169 72.8H171.5V75.3H169zM156.5 75.3H159V77.8H156.5zM159 75.3H161.5V77.8H159zM166.5 75.3H169V77.8H166.5zM161.5 77.8H164V80.3H161.5zM164 77.8H166.5V80.3H164zM166.5 77.8H169V80.3H166.5zM159 82.8H161.5V85.3H159zM174 82.8H176.5V85.3H174zM176.5 90.3H179V92.8H176.5zM166.5 95.3H169V97.8H166.5zM176.5 95.3H179V97.8H176.5zM179 95.3H181.5V97.8H179zM159 97.8H161.5V100.3H159zM164 97.8H166.5V100.3H164zM169 97.8H171.5V100.3H169zM174 97.8H176.5V100.3H174zM169 100.3H171.5V102.8H169zM174 100.3H176.5V102.8H174zM159 102.8H161.5V105.3H159zM174 102.8H176.5V105.3H174z"/>
<path fill="#fc240c" d="M161.5 27.8H164V30.3H161.5zM171.5 27.8H174V30.3H171.5zM176.5 27.8H179V30.3H176.5zM171.5 30.3H174V32.8H171.5zM176.5 30.3H179V32.8H176.5zM161.5 32.8H164V35.3H161.5zM166.5 32.8H169V35.3H166.5zM169 32.8H171.5V35.3H169zM171.5 32.8H174V35.3H171.5zM156.5 35.3H159V37.8H156.5zM159 35.3H161.5V37.8H159zM166.5 35.3H169V37.8H166.5zM169 35.3H171.5V37.8H169zM174 35.3H176.5V37.8H174zM176.5 35.3H179V37.8H176.5zM159 37.8H161.5V40.3H159zM169 37.8H171.5V40.3H169zM174 37.8H176.5V40.3H174zM176.5 37.8H179V40.3H176.5zM159 40.3H161.5V42.8H159zM161.5 40.3H164V42.8H161.5zM164 40.3H166.5V42.8H164zM171.5 40.3H174V42.8H171.5zM174 40.3H176.5V42.8H174zM156.5 42.8H159V45.3H156.5zM159 42.8H161.5V45.3H159zM166.5 42.8H169V45.3H166.5zM169 42.8H171.5V45.3H169zM156.5 45.3H159V47.8H156.5zM159 45.3H161.5V47.8H159zM176.5 45.3H179V47.8H176.5zM179 45.3H181.5V47.8H179zM164 47.8H166.5V50.3H164zM169 47.8H171.5V50.3H169zM179 47.8H181.5V50.3H179zM169 50.3H171.5V52.8H169zM179 50.3H181.5V52.8H179zM169 52.8H171.5V55.3H169zM174 52.8H176.5V55.3H174zM164 55.3H166.5V57.8H164zM169 55.3H171.5V57.8H169zM171.5 55.3H174V57.8H171.5zM169 57.8H171.5V60.3H169zM174 57.8H176.5V60.3H174zM171.5 60.3H174V62.8H171.5zM176.5 60.3H179V62.8H176.5zM179 60.3H181.5V62.8H179zM159 62.8H161.5V65.3H159zM161.5 62.8H164V65.3H161.5zM164 62.8H166.5V65.3H164zM169 62.8H171.5V65.3H169zM171.5 62.8H174V65.3H171.5zM179 62.8H181.5V65.3H179zM169 67.8H171.5V70.3H169zM179 67.8H181.5V70.3H179zM171.5 70.3H174V72.8H171.5zM171.5 72.8H174V75.3H171.5zM174 72.8H176.5V75.3H174zM176.5 72.8H179V75.3H176.5zM179 72.8H181.5V75.3H179zM164 75.3H166.5V77.8H164zM169 75.3H171.5V77.8H169zM179 75.3H181.5V77.8H179zM171.5 77.8H174V80.3H171.5zM174 77.8H176.5V80.3H174zM159 80.3H161.5V82.8H159zM161.5 80.3H164V82.8H161.5zM164 80.3H166.5V82.8H164zM166.5 80.3H169V82.8H166.5zM169 80.3H171.5V82.8H169zM174 80.3H176.5V82.8H174zM179 80.3H181.5V82.8H179zM161.5 82.8H164V85.3H161.5zM164 82.8H166.5V85.3H164zM169 82.8H171.5V85.3H169zM176.5 82.8H179V85.3H176.5zM169 85.3H171.5V87.8H169zM179 85.3H181.5V87.8H179zM181.5 85.3H184V87.8H181.5zM171.5 87.8H174V90.3H171.5zM179 87.8H181.5V90.3H179zM164 90.3H166.5V92.8H164zM166.5 90.3H169V92.8H166.5zM169 90.3H171.5V92.8H169zM174 90.3H176.5V92.8H174zM169 92.8H171.5V95.3H169zM156.5 97.8H159V100.3H156.5zM181.5 97.8H184V100.3H181.5zM156.5 100.3H159V102.8H156.5zM181.5 100.3H184V102.8H181.5zM156.5 102.8H159V105.3H156.5zM169 102.8H171.5V105.3H169zM171.5 102.8H174V105.3H171.5zM176.5 102.8H179V105.3H176.5zM179 102.8H181.5V105.3H179zM161.5 105.3H164V107.8H161.5zM166.5 105.3H169V107.8H166.5zM171.5 105.3H174V107.8H171.5zM174 105.3H176.5V107.8H174zM179 105.3H181.5V107.8H179zM161.5 107.8H164V110.3H161.5zM164 107.8H166.5V110.3H164zM166.5 107.8H169V110.3H166.5zM179 107.8H181.5V110.3H179zM181.5 107.8H184V110.3H181.5z"/>
<path fill="#fc300c" d="M164 27.8H166.5V30.3H164zM169 27.8H171.5V30.3H169zM179 27.8H181.5V30.3H179zM156.5 30.3H159V32.8H156.5zM164 30.3H166.5V32.8H164zM171.5 35.3H174V37.8H171.5zM179 40.3H181.5V42.8H179zM176.5 42.8H179V45.3H176.5zM174 45.3H176.5V47.8H174zM159 50.3H161.5V52.8H159zM179 55.3H181.5V57.8H179zM166.5 65.3H169V67.8H166.5zM184 82.8H186.5V85.3H184zM161.5 85.3H164V87.8H161.5zM164 87.8H166.5V90.3H164zM181.5 92.8H184V95.3H181.5zM174 107.8H176.5V110.3H174zM184 107.8H186.5V110.3H184z"/>
<path fill="#fc3612" d="M166.5 27.8H169V30.3H166.5zM179 30.3H181.5V32.8H179zM161.5 45.3H164V47.8H161.5zM181.5 45.3H184V47.8H181.5zM161.5 47.8H164V50.3H161.5zM181.5 47.8H184V50.3H181.5zM156.5 50.3H159V52.8H156.5zM156.5 52.8H159V55.3H156.5zM181.5 52.8H184V55.3H181.5zM181.5 55.3H184V57.8H181.5zM181.5 62.8H184V65.3H181.5zM181.5 67.8H184V70.3H181.5zM176.5 77.8H179V80.3H176.5zM181.5 77.8H184V80.3H181.5zM181.5 90.3H184V92.8H181.5zM184 102.8H186.5V105.3H184z"/>
<path fill="#fc4812" d="M181.5 27.8H184V30.3H181.5zM181.5 32.8H184V35.3H181.5zM181.5 35.3H184V37.8H181.5zM184 40.3H186.5V42.8H184zM184 47.8H186.5V50.3H184zM184 52.8H186.5V55.3H184zM184 57.8H186.5V60.3H184zM184 62.8H186.5V65.3H184zM186.5 80.3H189V82.8H186.5zM186.5 82.8H189V85.3H186.5zM184 90.3H186.5V92.8H184zM184 92.8H186.5V95.3H184zM184 95.3H186.5V97.8H184zM186.5 102.8H189V105.3H186.5zM186.5 105.3H189V107.8H186.5z"/>
<path fill="#fc6018" d="M184 27.8H186.5V30.3H184zM186.5 40.3H189V42.8H186.5zM186.5 42.8H189V45.3H186.5zM186.5 45.3H189V47.8H186.5zM186.5 52.8H189V55.3H186.5zM186.5 55.3H189V57.8H186.5zM186.5 57.8H189V60.3H186.5zM186.5 62.8H189V65.3H186.5zM186.5 67.8H189V70.3H186.5zM186.5 70.3H189V72.8H186.5zM186.5 92.8H189V95.3H186.5zM189 95.3H191.5V97.8H189zM189 107.8H191.5V110.3H189z"/>
<path fill="#fc7818" d="M186.5 27.8H189V30.3H186.5zM186.5 32.8H189V35.3H186.5zM186.5 35.3H189V37.8H186.5zM189 45.3H191.5V47.8H189zM191.5 47.8H194V50.3H191.5zM189 62.8H191.5V65.3H189zM189 77.8H191.5V80.3H189zM189 80.3H191.5V82.8H189zM189 87.8H191.5V90.3H189zM191.5 105.3H194V107.8H191.5zM191.5 107.8H194V110.3H191.5z"/>
<path fill="#fc8418" d="M189 27.8H191.5V30.3H189zM186.5 30.3H189V32.8H186.5zM189 32.8H191.5V35.3H189zM189 42.8H191.5V45.3H189zM189 55.3H191.5V57.8H189zM191.5 65.3H194V67.8H191.5zM191.5 72.8H194V75.3H191.5z"/>
<path fill="#fc9618" d="M191.5 27.8H194V30.3H191.5zM194 35.3H196.5V37.8H194zM196.5 35.3H199V37.8H196.5zM191.5 37.8H194V40.3H191.5zM191.5 52.8H194V55.3H191.5zM194 62.8H196.5V65.3H194zM194 65.3H196.5V67.8H194zM191.5 87.8H194V90.3H191.5zM194 95.3H196.5V97.8H194zM194 100.3H196.5V102.8H194zM196.5 105.3H199V107.8H196.5zM194 107.8H196.5V110.3H194z"/>
<path fill="#fca818" d="M194 27.8H196.5V30.3H194zM194 30.3H196.5V32.8H194zM196.5 32.8H199V35.3H196.5zM194 37.8H196.5V40.3H194zM194 45.3H196.5V47.8H194zM194 55.3H196.5V57.8H194zM196.5 62.8H199V65.3H196.5zM196.5 65.3H199V67.8H196.5zM191.5 80.3H194V82.8H191.5zM191.5 82.8H194V85.3H191.5zM196.5 85.3H199V87.8H196.5zM199 85.3H201.5V87.8H199zM194 87.8H196.5V90.3H194zM199 87.8H201.5V90.3H199zM196.5 90.3H199V92.8H196.5zM196.5 92.8H199V95.3H196.5zM196.5 100.3H199V102.8H196.5zM199 102.8H201.5V105.3H199zM199 107.8H201.5V110.3H199z"/>
<path fill="#fcba18" d="M196.5 27.8H199V30.3H196.5zM199 35.3H201.5V37.8H199zM196.5 47.8H199V50.3H196.5zM196.5 50.3H199V52.8H196.5zM199 55.3H201.5V57.8H199zM194 80.3H196.5V82.8H194zM196.5 80.3H199V82.8H196.5zM194 85.3H196.5V87.8H194zM199 90.3H201.5V92.8H199zM199 95.3H201.5V97.8H199zM199 100.3H201.5V102.8H199zM201.5 107.8H204V110.3H201.5z"/>
<path fill="#fccc18" d="M199 27.8H201.5V30.3H199zM199 50.3H201.5V52.8H199zM201.5 82.8H204V85.3H201.5zM201.5 87.8H204V90.3H201.5zM201.5 95.3H204V97.8H201.5z"/>
<path fill="#fcd81e" d="M201.5 27.8H204V30.3H201.5zM201.5 42.8H204V45.3H201.5zM199 45.3H201.5V47.8H199zM201.5 45.3H204V47.8H201.5zM199 47.8H201.5V50.3H199zM201.5 50.3H204V52.8H201.5zM201.5 52.8H204V55.3H201.5zM201.5 55.3H204V57.8H201.5zM201.5 60.3H204V62.8H201.5zM201.5 65.3H204V67.8H201.5zM201.5 67.8H204V70.3H201.5zM204 70.3H206.5V72.8H204zM204 72.8H206.5V75.3H204zM201.5 75.3H204V77.8H201.5zM204 75.3H206.5V77.8H204zM201.5 77.8H204V80.3H201.5zM201.5 92.8H204V95.3H201.5zM201.5 97.8H204V100.3H201.5zM201.5 100.3H204V102.8H201.5zM204 105.3H206.5V107.8H204z"/>
<path fill="#f6f61e" d="M204 27.8H206.5V30.3H204zM206.5 47.8H209V50.3H206.5zM206.5 67.8H209V70.3H206.5zM206.5 82.8H209V85.3H206.5zM209 87.8H211.5V90.3H209zM206.5 97.8H209V100.3H206.5zM206.5 100.3H209V102.8H206.5zM209 100.3H211.5V102.8H209zM211.5 102.8H214V105.3H211.5zM214 105.3H216.5V107.8H214z"/>
<path fill="#ccf62a" d="M206.5 27.8H209V30.3H206.5zM206.5 30.3H209V32.8H206.5zM209 47.8H211.5V50.3H209zM209 50.3H211.5V52.8H209zM211.5 57.8H214V60.3H211.5zM216.5 57.8H219V60.3H216.5zM216.5 60.3H219V62.8H216.5zM214 62.8H216.5V65.3H214zM216.5 62.8H219V65.3H216.5zM211.5 65.3H214V67.8H211.5zM209 67.8H211.5V70.3H209zM211.5 67.8H214V70.3H211.5zM221.5 87.8H224V90.3H221.5zM221.5 90.3H224V92.8H221.5zM214 92.8H216.5V95.3H214zM216.5 92.8H219V95.3H216.5zM214 100.3H216.5V102.8H214zM219 102.8H221.5V105.3H219zM219 105.3H221.5V107.8H219zM221.5 107.8H224V110.3H221.5z"/>
<path fill="#9cf636" d="M209 27.8H211.5V30.3H209zM206.5 35.3H209V37.8H206.5zM221.5 65.3H224V67.8H221.5z"/>
<path fill="#8af63c" d="M211.5 27.8H214V30.3H211.5zM224 47.8H226.5V50.3H224zM224 65.3H226.5V67.8H224zM224 87.8H226.5V90.3H224zM224 102.8H226.5V105.3H224z"/>
<path fill="#66f654" d="M214 27.8H216.5V30.3H214zM236.5 27.8H239V30.3H236.5zM229 30.3H231.5V32.8H229zM221.5 32.8H224V35.3H221.5zM209 35.3H211.5V37.8H209zM229 35.3H231.5V37.8H229zM219 37.8H221.5V40.3H219zM226.5 37.8H229V40.3H226.5zM231.5 52.8H234V55.3H231.5zM234 57.8H236.5V60.3H234zM226.5 65.3H229V67.8H226.5zM229 65.3H231.5V67.8H229zM229 70.3H231.5V72.8H229zM229 92.8H231.5V95.3H229zM226.5 97.8H229V100.3H226.5zM229 97.8H231.5V100.3H229z"/>
<path fill="#30f078" d="M216.5 27.8H219V30.3H216.5zM211.5 35.3H214V37.8H211.5zM236.5 35.3H239V37.8H236.5zM231.5 97.8H234V100.3H231.5zM231.5 107.8H234V110.3H231.5z"/>
<path fill="#3cf072" d="M219 27.8H221.5V30.3H219zM216.5 30.3H219V32.8H216.5zM214 32.8H216.5V35.3H214zM236.5 42.8H239V45.3H236.5zM236.5 77.8H239V80.3H236.5zM234 80.3H236.5V82.8H234zM234 87.8H236.5V90.3H234zM234 95.3H236.5V97.8H234zM236.5 95.3H239V97.8H236.5zM229 105.3H231.5V107.8H229zM231.5 105.3H234V107.8H231.5z"/>
<path fill="#5af65a" d="M221.5 27.8H224V30.3H221.5zM236.5 47.8H239V50.3H236.5zM224 55.3H226.5V57.8H224zM229 57.8H231.5V60.3H229zM234 62.8H236.5V65.3H234zM229 85.3H231.5V87.8H229z"/>
<path fill="#7ef642" d="M224 27.8H226.5V30.3H224zM224 37.8H226.5V40.3H224zM224 40.3H226.5V42.8H224zM211.5 42.8H214V45.3H211.5zM214 42.8H216.5V45.3H214zM216.5 42.8H219V45.3H216.5zM229 45.3H231.5V47.8H229zM226.5 47.8H229V50.3H226.5zM236.5 57.8H239V60.3H236.5zM224 62.8H226.5V65.3H224z"/>
<path fill="#72f648" d="M226.5 27.8H229V30.3H226.5zM226.5 35.3H229V37.8H226.5zM209 37.8H211.5V40.3H209zM226.5 50.3H229V52.8H226.5zM231.5 50.3H234V52.8H231.5zM231.5 55.3H234V57.8H231.5zM226.5 67.8H229V70.3H226.5zM226.5 92.8H229V95.3H226.5z"/>
<path fill="#6cf64e" d="M229 27.8H231.5V30.3H229zM231.5 27.8H234V30.3H231.5zM234 27.8H236.5V30.3H234zM211.5 30.3H214V32.8H211.5zM226.5 30.3H229V32.8H226.5zM234 30.3H236.5V32.8H234zM209 32.8H211.5V35.3H209zM229 32.8H231.5V35.3H229zM219 40.3H221.5V42.8H219zM229 47.8H231.5V50.3H229zM231.5 47.8H234V50.3H231.5zM224 50.3H226.5V52.8H224zM236.5 52.8H239V55.3H236.5zM224 60.3H226.5V62.8H224zM226.5 60.3H229V62.8H226.5zM231.5 60.3H234V62.8H231.5zM226.5 62.8H229V65.3H226.5zM229 62.8H231.5V65.3H229zM231.5 62.8H234V65.3H231.5zM226.5 70.3H229V72.8H226.5zM229 75.3H231.5V77.8H229zM231.5 75.3H234V77.8H231.5zM229 77.8H231.5V80.3H229zM231.5 77.8H234V80.3H231.5zM226.5 102.8H229V105.3H226.5z"/>
<path fill="#fc2a0c" d="M159 30.3H161.5V32.8H159zM161.5 30.3H164V32.8H161.5zM169 30.3H171.5V32.8H169zM159 32.8H161.5V35.3H159zM179 32.8H181.5V35.3H179zM171.5 37.8H174V40.3H171.5zM179 37.8H181.5V40.3H179zM164 42.8H166.5V45.3H164zM171.5 42.8H174V45.3H171.5zM174 42.8H176.5V45.3H174zM179 42.8H181.5V45.3H179zM169 45.3H171.5V47.8H169zM171.5 45.3H174V47.8H171.5zM159 47.8H161.5V50.3H159zM166.5 47.8H169V50.3H166.5zM171.5 47.8H174V50.3H171.5zM174 47.8H176.5V50.3H174zM176.5 47.8H179V50.3H176.5zM164 50.3H166.5V52.8H164zM166.5 50.3H169V52.8H166.5zM174 50.3H176.5V52.8H174zM176.5 50.3H179V52.8H176.5zM159 52.8H161.5V55.3H159zM176.5 52.8H179V55.3H176.5zM179 52.8H181.5V55.3H179zM174 55.3H176.5V57.8H174zM171.5 57.8H174V60.3H171.5zM176.5 57.8H179V60.3H176.5zM179 57.8H181.5V60.3H179zM166.5 62.8H169V65.3H166.5zM164 65.3H166.5V67.8H164zM166.5 67.8H169V70.3H166.5zM171.5 67.8H174V70.3H171.5zM171.5 75.3H174V77.8H171.5zM174 75.3H176.5V77.8H174zM176.5 75.3H179V77.8H176.5zM179 77.8H181.5V80.3H179zM156.5 80.3H159V82.8H156.5zM176.5 80.3H179V82.8H176.5zM181.5 80.3H184V82.8H181.5zM164 85.3H166.5V87.8H164zM184 85.3H186.5V87.8H184zM161.5 87.8H164V90.3H161.5zM169 87.8H171.5V90.3H169zM181.5 87.8H184V90.3H181.5zM179 90.3H181.5V92.8H179zM166.5 92.8H169V95.3H166.5zM166.5 102.8H169V105.3H166.5zM176.5 105.3H179V107.8H176.5zM181.5 105.3H184V107.8H181.5zM159 107.8H161.5V110.3H159zM169 107.8H171.5V110.3H169z"/>
<path fill="#fc3012" d="M166.5 30.3H169V32.8H166.5zM156.5 32.8H159V35.3H156.5zM179 35.3H181.5V37.8H179zM176.5 40.3H179V42.8H176.5zM161.5 42.8H164V45.3H161.5zM164 45.3H166.5V47.8H164zM166.5 45.3H169V47.8H166.5zM156.5 47.8H159V50.3H156.5zM161.5 50.3H164V52.8H161.5zM181.5 50.3H184V52.8H181.5zM176.5 55.3H179V57.8H176.5zM181.5 65.3H184V67.8H181.5zM181.5 75.3H184V77.8H181.5zM184 80.3H186.5V82.8H184zM166.5 82.8H169V85.3H166.5zM166.5 85.3H169V87.8H166.5zM166.5 87.8H169V90.3H166.5zM181.5 95.3H184V97.8H181.5zM171.5 107.8H174V110.3H171.5zM176.5 107.8H179V110.3H176.5z"/>
<path fill="#fc5418" d="M181.5 30.3H184V32.8H181.5zM184 37.8H186.5V40.3H184zM186.5 50.3H189V52.8H186.5zM186.5 65.3H189V67.8H186.5zM184 70.3H186.5V72.8H184zM186.5 75.3H189V77.8H186.5zM186.5 77.8H189V80.3H186.5zM186.5 87.8H189V90.3H186.5zM186.5 90.3H189V92.8H186.5zM186.5 100.3H189V102.8H186.5z"/>
<path fill="#fc6c18" d="M184 30.3H186.5V32.8H184zM184 32.8H186.5V35.3H184zM189 50.3H191.5V52.8H189zM189 65.3H191.5V67.8H189zM189 67.8H191.5V70.3H189zM189 70.3H191.5V72.8H189zM189 72.8H191.5V75.3H189zM189 92.8H191.5V95.3H189zM189 100.3H191.5V102.8H189z"/>
<path fill="#fc8a18" d="M189 30.3H191.5V32.8H189zM189 35.3H191.5V37.8H189zM191.5 45.3H194V47.8H191.5zM191.5 67.8H194V70.3H191.5zM191.5 70.3H194V72.8H191.5zM191.5 90.3H194V92.8H191.5z"/>
<path fill="#fc9c18" d="M191.5 30.3H194V32.8H191.5zM191.5 40.3H194V42.8H191.5zM191.5 42.8H194V45.3H191.5zM194 47.8H196.5V50.3H194zM194 50.3H196.5V52.8H194zM194 52.8H196.5V55.3H194zM194 60.3H196.5V62.8H194zM194 75.3H196.5V77.8H194zM191.5 77.8H194V80.3H191.5zM196.5 87.8H199V90.3H196.5zM194 90.3H196.5V92.8H194zM194 92.8H196.5V95.3H194zM194 97.8H196.5V100.3H194zM194 102.8H196.5V105.3H194zM196.5 102.8H199V105.3H196.5zM194 105.3H196.5V107.8H194zM196.5 107.8H199V110.3H196.5z"/>
<path fill="#fcb418" d="M196.5 30.3H199V32.8H196.5zM194 40.3H196.5V42.8H194zM194 42.8H196.5V45.3H194zM196.5 52.8H199V55.3H196.5zM199 57.8H201.5V60.3H199zM199 60.3H201.5V62.8H199zM196.5 75.3H199V77.8H196.5zM196.5 77.8H199V80.3H196.5zM196.5 82.8H199V85.3H196.5zM199 82.8H201.5V85.3H199zM196.5 95.3H199V97.8H196.5zM201.5 105.3H204V107.8H201.5z"/>
<path fill="#fcc018" d="M199 30.3H201.5V32.8H199zM199 32.8H201.5V35.3H199zM199 40.3H201.5V42.8H199zM196.5 42.8H199V45.3H196.5zM196.5 45.3H199V47.8H196.5zM199 52.8H201.5V55.3H199zM199 62.8H201.5V65.3H199zM199 65.3H201.5V67.8H199zM196.5 67.8H199V70.3H196.5zM196.5 72.8H199V75.3H196.5zM199 72.8H201.5V75.3H199zM199 75.3H201.5V77.8H199zM199 77.8H201.5V80.3H199zM199 80.3H201.5V82.8H199zM194 82.8H196.5V85.3H194zM201.5 85.3H204V87.8H201.5zM199 92.8H201.5V95.3H199zM199 97.8H201.5V100.3H199zM201.5 102.8H204V105.3H201.5z"/>
<path fill="#fcd218" d="M201.5 30.3H204V32.8H201.5zM201.5 40.3H204V42.8H201.5zM199 42.8H201.5V45.3H199zM201.5 57.8H204V60.3H201.5zM201.5 70.3H204V72.8H201.5zM201.5 72.8H204V75.3H201.5z"/>
<path fill="#fcea1e" d="M204 30.3H206.5V32.8H204zM204 47.8H206.5V50.3H204zM204 55.3H206.5V57.8H204zM204 57.8H206.5V60.3H204zM204 62.8H206.5V65.3H204zM204 65.3H206.5V67.8H204zM209 75.3H211.5V77.8H209zM204 82.8H206.5V85.3H204zM204 87.8H206.5V90.3H204zM204 92.8H206.5V95.3H204zM204 97.8H206.5V100.3H204zM204 100.3H206.5V102.8H204zM206.5 102.8H209V105.3H206.5zM206.5 105.3H209V107.8H206.5zM209 107.8H211.5V110.3H209z"/>
<path fill="#8af636" d="M209 30.3H211.5V32.8H209zM226.5 72.8H229V75.3H226.5zM224 82.8H226.5V85.3H224zM226.5 82.8H229V85.3H226.5zM226.5 85.3H229V87.8H226.5z"/>
<path fill="#60f65a" d="M214 30.3H216.5V32.8H214zM221.5 30.3H224V32.8H221.5zM236.5 30.3H239V32.8H236.5zM234 32.8H236.5V35.3H234zM229 37.8H231.5V40.3H229zM211.5 40.3H214V42.8H211.5zM229 40.3H231.5V42.8H229zM229 42.8H231.5V45.3H229zM226.5 55.3H229V57.8H226.5zM229 55.3H231.5V57.8H229zM234 55.3H236.5V57.8H234zM224 57.8H226.5V60.3H224zM226.5 57.8H229V60.3H226.5zM236.5 60.3H239V62.8H236.5zM236.5 70.3H239V72.8H236.5zM229 82.8H231.5V85.3H229zM231.5 85.3H234V87.8H231.5zM229 87.8H231.5V90.3H229zM231.5 87.8H234V90.3H231.5zM236.5 87.8H239V90.3H236.5zM231.5 92.8H234V95.3H231.5z"/>
<path fill="#42f06c" d="M219 30.3H221.5V32.8H219zM211.5 32.8H214V35.3H211.5zM216.5 32.8H219V35.3H216.5zM219 32.8H221.5V35.3H219zM214 35.3H216.5V37.8H214zM234 37.8H236.5V40.3H234zM231.5 42.8H234V45.3H231.5zM234 42.8H236.5V45.3H234zM236.5 45.3H239V47.8H236.5zM231.5 70.3H234V72.8H231.5zM234 70.3H236.5V72.8H234zM229 102.8H231.5V105.3H229z"/>
<path fill="#78f648" d="M224 30.3H226.5V32.8H224zM224 32.8H226.5V35.3H224zM221.5 35.3H224V37.8H221.5zM221.5 37.8H224V40.3H221.5zM221.5 40.3H224V42.8H221.5zM229 50.3H231.5V52.8H229zM236.5 55.3H239V57.8H236.5zM229 67.8H231.5V70.3H229zM226.5 90.3H229V92.8H226.5zM224 100.3H226.5V102.8H224z"/>
<path fill="#60f654" d="M231.5 30.3H234V32.8H231.5zM226.5 40.3H229V42.8H226.5zM226.5 42.8H229V45.3H226.5zM229 60.3H231.5V62.8H229zM231.5 72.8H234V75.3H231.5zM231.5 82.8H234V85.3H231.5zM226.5 95.3H229V97.8H226.5zM229 95.3H231.5V97.8H229z"/>
<path fill="#f6180c" d="M174 32.8H176.5V35.3H174zM176.5 32.8H179V35.3H176.5zM164 35.3H166.5V37.8H164zM159 57.8H161.5V60.3H159zM174 62.8H176.5V65.3H174zM174 65.3H176.5V67.8H174zM156.5 72.8H159V75.3H156.5zM164 72.8H166.5V75.3H164zM166.5 72.8H169V75.3H166.5zM159 87.8H161.5V90.3H159zM159 90.3H161.5V92.8H159zM161.5 92.8H164V95.3H161.5zM176.5 92.8H179V95.3H176.5zM159 95.3H161.5V97.8H159zM161.5 95.3H164V97.8H161.5zM164 95.3H166.5V97.8H164zM161.5 97.8H164V100.3H161.5zM176.5 97.8H179V100.3H176.5zM179 97.8H181.5V100.3H179zM159 100.3H161.5V102.8H159zM161.5 100.3H164V102.8H161.5zM164 100.3H166.5V102.8H164z"/>
<path fill="#fc9018" d="M191.5 32.8H194V35.3H191.5zM191.5 35.3H194V37.8H191.5zM189 37.8H191.5V40.3H189zM189 40.3H191.5V42.8H189zM191.5 60.3H194V62.8H191.5zM191.5 62.8H194V65.3H191.5zM191.5 75.3H194V77.8H191.5z"/>
<path fill="#fca218" d="M194 32.8H196.5V35.3H194zM196.5 37.8H199V40.3H196.5zM191.5 55.3H194V57.8H191.5zM191.5 57.8H194V60.3H191.5zM194 57.8H196.5V60.3H194zM196.5 60.3H199V62.8H196.5zM194 67.8H196.5V70.3H194zM194 70.3H196.5V72.8H194zM194 72.8H196.5V75.3H194zM191.5 85.3H194V87.8H191.5zM199 105.3H201.5V107.8H199z"/>
<path fill="#fcde1e" d="M201.5 32.8H204V35.3H201.5zM201.5 35.3H204V37.8H201.5zM201.5 47.8H204V50.3H201.5zM201.5 62.8H204V65.3H201.5zM206.5 75.3H209V77.8H206.5zM201.5 80.3H204V82.8H201.5zM201.5 90.3H204V92.8H201.5zM204 95.3H206.5V97.8H204zM204 107.8H206.5V110.3H204z"/>
<path fill="#f0f624" d="M204 32.8H206.5V35.3H204zM206.5 50.3H209V52.8H206.5zM206.5 57.8H209V60.3H206.5zM209 80.3H211.5V82.8H209zM209 82.8H211.5V85.3H209zM206.5 87.8H209V90.3H206.5zM209 90.3H211.5V92.8H209zM206.5 92.8H209V95.3H206.5zM214 102.8H216.5V105.3H214z"/>
<path fill="#aef630" d="M206.5 32.8H209V35.3H206.5zM209 42.8H211.5V45.3H209zM211.5 52.8H214V55.3H211.5zM219 52.8H221.5V55.3H219zM219 55.3H221.5V57.8H219zM216.5 75.3H219V77.8H216.5zM219 80.3H221.5V82.8H219zM214 87.8H216.5V90.3H214zM219 97.8H221.5V100.3H219z"/>
<path fill="#72f64e" d="M226.5 32.8H229V35.3H226.5zM231.5 57.8H234V60.3H231.5z"/>
<path fill="#4ef066" d="M231.5 32.8H234V35.3H231.5zM216.5 40.3H219V42.8H216.5zM226.5 52.8H229V55.3H226.5zM236.5 62.8H239V65.3H236.5zM234 65.3H236.5V67.8H234zM236.5 65.3H239V67.8H236.5zM231.5 67.8H234V70.3H231.5zM234 92.8H236.5V95.3H234zM229 100.3H231.5V102.8H229z"/>
<path fill="#48f06c" d="M236.5 32.8H239V35.3H236.5zM216.5 35.3H219V37.8H216.5zM214 37.8H216.5V40.3H214zM216.5 37.8H219V40.3H216.5zM234 47.8H236.5V50.3H234zM234 50.3H236.5V52.8H234zM234 67.8H236.5V70.3H234zM236.5 82.8H239V85.3H236.5zM234 85.3H236.5V87.8H234zM234 90.3H236.5V92.8H234z"/>
<path fill="#fc6618" d="M184 35.3H186.5V37.8H184zM186.5 37.8H189V40.3H186.5zM189 47.8H191.5V50.3H189zM189 97.8H191.5V100.3H189zM189 102.8H191.5V105.3H189zM189 105.3H191.5V107.8H189z"/>
<path fill="#e4f624" d="M204 35.3H206.5V37.8H204zM204 37.8H206.5V40.3H204zM206.5 42.8H209V45.3H206.5zM206.5 55.3H209V57.8H206.5zM209 65.3H211.5V67.8H209zM209 70.3H211.5V72.8H209zM211.5 72.8H214V75.3H211.5zM206.5 90.3H209V92.8H206.5zM219 92.8H221.5V95.3H219zM211.5 100.3H214V102.8H211.5zM219 107.8H221.5V110.3H219z"/>
<path fill="#54f660" d="M219 35.3H221.5V37.8H219zM234 35.3H236.5V37.8H234zM214 40.3H216.5V42.8H214zM229 52.8H231.5V55.3H229zM234 52.8H236.5V55.3H234zM236.5 67.8H239V70.3H236.5zM236.5 85.3H239V87.8H236.5zM226.5 100.3H229V102.8H226.5zM226.5 105.3H229V107.8H226.5z"/>
<path fill="#84f63c" d="M224 35.3H226.5V37.8H224zM221.5 42.8H224V45.3H221.5zM226.5 45.3H229V47.8H226.5zM221.5 50.3H224V52.8H221.5zM221.5 52.8H224V55.3H221.5zM224 70.3H226.5V72.8H224zM226.5 80.3H229V82.8H226.5zM224 97.8H226.5V100.3H224zM224 105.3H226.5V107.8H224z"/>
<path fill="#48f066" d="M231.5 35.3H234V37.8H231.5zM234 45.3H236.5V47.8H234zM236.5 50.3H239V52.8H236.5zM236.5 75.3H239V77.8H236.5zM234 77.8H236.5V80.3H234zM234 82.8H236.5V85.3H234z"/>
<path fill="#fc4212" d="M181.5 37.8H184V40.3H181.5zM181.5 40.3H184V42.8H181.5zM184 50.3H186.5V52.8H184zM184 55.3H186.5V57.8H184zM184 60.3H186.5V62.8H184zM184 65.3H186.5V67.8H184zM184 75.3H186.5V77.8H184zM184 100.3H186.5V102.8H184z"/>
<path fill="#fcc618" d="M199 37.8H201.5V40.3H199zM199 67.8H201.5V70.3H199zM196.5 70.3H199V72.8H196.5zM199 70.3H201.5V72.8H199z"/>
<path fill="#fce41e" d="M201.5 37.8H204V40.3H201.5zM204 42.8H206.5V45.3H204zM204 45.3H206.5V47.8H204zM204 50.3H206.5V52.8H204zM204 60.3H206.5V62.8H204zM204 67.8H206.5V70.3H204zM206.5 72.8H209V75.3H206.5zM204 77.8H206.5V80.3H204zM206.5 77.8H209V80.3H206.5zM204 85.3H206.5V87.8H204zM204 102.8H206.5V105.3H204zM209 102.8H211.5V105.3H209zM209 105.3H211.5V107.8H209z"/>
<path fill="#9cf630" d="M206.5 37.8H209V40.3H206.5zM221.5 47.8H224V50.3H221.5zM214 50.3H216.5V52.8H214zM221.5 72.8H224V75.3H221.5zM219 75.3H221.5V77.8H219zM224 75.3H226.5V77.8H224zM214 77.8H216.5V80.3H214zM226.5 77.8H229V80.3H226.5zM216.5 85.3H219V87.8H216.5z"/>
<path fill="#3cf078" d="M211.5 37.8H214V40.3H211.5z"/>
<path fill="#36f078" d="M231.5 37.8H234V40.3H231.5zM234 40.3H236.5V42.8H234zM236.5 80.3H239V82.8H236.5zM231.5 95.3H234V97.8H231.5zM231.5 102.8H234V105.3H231.5zM229 107.8H231.5V110.3H229z"/>
<path fill="#18f08a" d="M236.5 37.8H239V40.3H236.5zM231.5 100.3H234V102.8H231.5z"/>
<path fill="#fcae18" d="M196.5 40.3H199V42.8H196.5zM196.5 55.3H199V57.8H196.5zM196.5 57.8H199V60.3H196.5zM194 77.8H196.5V80.3H194zM196.5 97.8H199V100.3H196.5z"/>
<path fill="#fcf01e" d="M204 40.3H206.5V42.8H204zM204 52.8H206.5V55.3H204zM206.5 60.3H209V62.8H206.5zM206.5 62.8H209V65.3H206.5zM206.5 70.3H209V72.8H206.5zM204 80.3H206.5V82.8H204zM206.5 80.3H209V82.8H206.5zM204 90.3H206.5V92.8H204zM209 92.8H211.5V95.3H209zM209 97.8H211.5V100.3H209z"/>
<path fill="#baf630" d="M206.5 40.3H209V42.8H206.5zM214 55.3H216.5V57.8H214zM216.5 55.3H219V57.8H216.5zM219 67.8H221.5V70.3H219zM221.5 77.8H224V80.3H221.5zM211.5 80.3H214V82.8H211.5zM219 82.8H221.5V85.3H219zM221.5 82.8H224V85.3H221.5zM219 85.3H221.5V87.8H219zM216.5 97.8H219V100.3H216.5zM221.5 102.8H224V105.3H221.5z"/>
<path fill="#90f636" d="M209 40.3H211.5V42.8H209zM224 45.3H226.5V47.8H224zM219 50.3H221.5V52.8H219zM221.5 55.3H224V57.8H221.5zM221.5 60.3H224V62.8H221.5zM221.5 67.8H224V70.3H221.5zM221.5 70.3H224V72.8H221.5zM224 80.3H226.5V82.8H224zM224 85.3H226.5V87.8H224zM226.5 87.8H229V90.3H226.5zM224 90.3H226.5V92.8H224zM221.5 97.8H224V100.3H221.5zM221.5 100.3H224V102.8H221.5z"/>
<path fill="#30f07e" d="M231.5 40.3H234V42.8H231.5z"/>
<path fill="#18f090" d="M236.5 40.3H239V42.8H236.5zM236.5 97.8H239V100.3H236.5zM236.5 107.8H239V110.3H236.5z"/>
<path fill="#fc3c12" d="M181.5 42.8H184V45.3H181.5zM181.5 57.8H184V60.3H181.5zM181.5 60.3H184V62.8H181.5zM181.5 70.3H184V72.8H181.5zM181.5 72.8H184V75.3H181.5zM184 77.8H186.5V80.3H184zM186.5 85.3H189V87.8H186.5zM184 87.8H186.5V90.3H184zM184 97.8H186.5V100.3H184zM184 105.3H186.5V107.8H184zM186.5 107.8H189V110.3H186.5z"/>
<path fill="#fc4e12" d="M184 42.8H186.5V45.3H184zM184 45.3H186.5V47.8H184zM184 67.8H186.5V70.3H184zM184 72.8H186.5V75.3H184zM186.5 97.8H189V100.3H186.5z"/>
<path fill="#96f636" d="M219 42.8H221.5V45.3H219zM214 45.3H216.5V47.8H214zM216.5 45.3H219V47.8H216.5zM221.5 45.3H224V47.8H221.5zM216.5 50.3H219V52.8H216.5zM221.5 57.8H224V60.3H221.5zM221.5 62.8H224V65.3H221.5zM224 67.8H226.5V70.3H224zM224 72.8H226.5V75.3H224zM226.5 75.3H229V77.8H226.5zM219 77.8H221.5V80.3H219zM224 92.8H226.5V95.3H224zM224 107.8H226.5V110.3H224z"/>
<path fill="#78f642" d="M224 42.8H226.5V45.3H224zM229 72.8H231.5V75.3H229z"/>
<path fill="#f6f01e" d="M206.5 45.3H209V47.8H206.5zM209 60.3H211.5V62.8H209zM206.5 65.3H209V67.8H206.5zM209 72.8H211.5V75.3H209zM209 77.8H211.5V80.3H209zM206.5 95.3H209V97.8H206.5zM209 95.3H211.5V97.8H209zM211.5 105.3H214V107.8H211.5zM206.5 107.8H209V110.3H206.5zM211.5 107.8H214V110.3H211.5zM214 107.8H216.5V110.3H214z"/>
<path fill="#c6f62a" d="M209 45.3H211.5V47.8H209zM219 62.8H221.5V65.3H219zM219 65.3H221.5V67.8H219zM214 70.3H216.5V72.8H214zM221.5 85.3H224V87.8H221.5zM211.5 87.8H214V90.3H211.5zM219 87.8H221.5V90.3H219zM214 90.3H216.5V92.8H214zM216.5 90.3H219V92.8H216.5zM221.5 92.8H224V95.3H221.5z"/>
<path fill="#a8f630" d="M211.5 45.3H214V47.8H211.5zM214 47.8H216.5V50.3H214zM219 47.8H221.5V50.3H219zM216.5 52.8H219V55.3H216.5zM214 75.3H216.5V77.8H214zM216.5 77.8H219V80.3H216.5zM216.5 80.3H219V82.8H216.5zM214 82.8H216.5V85.3H214zM216.5 82.8H219V85.3H216.5zM214 85.3H216.5V87.8H214zM221.5 95.3H224V97.8H221.5zM219 100.3H221.5V102.8H219z"/>
<path fill="#a2f630" d="M219 45.3H221.5V47.8H219zM216.5 47.8H219V50.3H216.5zM214 52.8H216.5V55.3H214zM219 72.8H221.5V75.3H219zM224 77.8H226.5V80.3H224zM214 80.3H216.5V82.8H214zM224 95.3H226.5V97.8H224z"/>
<path fill="#6cf654" d="M231.5 45.3H234V47.8H231.5z"/>
<path fill="#fc5a18" d="M186.5 47.8H189V50.3H186.5zM186.5 60.3H189V62.8H186.5zM186.5 72.8H189V75.3H186.5zM186.5 95.3H189V97.8H186.5z"/>
<path fill="#b4f630" d="M211.5 47.8H214V50.3H211.5zM219 57.8H221.5V60.3H219zM219 60.3H221.5V62.8H219zM219 70.3H221.5V72.8H219zM216.5 72.8H219V75.3H216.5zM221.5 80.3H224V82.8H221.5zM211.5 85.3H214V87.8H211.5zM216.5 87.8H219V90.3H216.5z"/>
<path fill="#fc7e18" d="M191.5 50.3H194V52.8H191.5zM189 52.8H191.5V55.3H189zM189 57.8H191.5V60.3H189zM189 82.8H191.5V85.3H189zM191.5 92.8H194V95.3H191.5zM191.5 95.3H194V97.8H191.5zM191.5 97.8H194V100.3H191.5zM191.5 100.3H194V102.8H191.5zM191.5 102.8H194V105.3H191.5z"/>
<path fill="#c0f630" d="M211.5 50.3H214V52.8H211.5zM211.5 82.8H214V85.3H211.5zM216.5 100.3H219V102.8H216.5z"/>
<path fill="#d8f624" d="M206.5 52.8H209V55.3H206.5zM211.5 60.3H214V62.8H211.5zM214 60.3H216.5V62.8H214zM211.5 70.3H214V72.8H211.5zM211.5 77.8H214V80.3H211.5zM216.5 105.3H219V107.8H216.5zM216.5 107.8H219V110.3H216.5z"/>
<path fill="#c0f62a" d="M209 52.8H211.5V55.3H209zM211.5 55.3H214V57.8H211.5zM214 65.3H216.5V67.8H214zM216.5 65.3H219V67.8H216.5zM214 67.8H216.5V70.3H214zM216.5 67.8H219V70.3H216.5zM216.5 70.3H219V72.8H216.5zM214 72.8H216.5V75.3H214zM221.5 75.3H224V77.8H221.5zM211.5 90.3H214V92.8H211.5zM216.5 95.3H219V97.8H216.5zM219 95.3H221.5V97.8H219zM221.5 105.3H224V107.8H221.5z"/>
<path fill="#54f060" d="M224 52.8H226.5V55.3H224zM234 75.3H236.5V77.8H234zM229 80.3H231.5V82.8H229zM236.5 92.8H239V95.3H236.5zM226.5 107.8H229V110.3H226.5z"/>
<path fill="#d2f62a" d="M209 55.3H211.5V57.8H209zM214 57.8H216.5V60.3H214zM211.5 62.8H214V65.3H211.5zM211.5 92.8H214V95.3H211.5zM214 95.3H216.5V97.8H214zM214 97.8H216.5V100.3H214zM216.5 102.8H219V105.3H216.5z"/>
<path fill="#def624" d="M209 57.8H211.5V60.3H209zM211.5 75.3H214V77.8H211.5zM219 90.3H221.5V92.8H219zM211.5 95.3H214V97.8H211.5z"/>
<path fill="#fc7218" d="M189 60.3H191.5V62.8H189zM189 75.3H191.5V77.8H189zM189 85.3H191.5V87.8H189zM189 90.3H191.5V92.8H189z"/>
<path fill="#5af660" d="M234 60.3H236.5V62.8H234zM231.5 65.3H234V67.8H231.5zM234 72.8H236.5V75.3H234zM236.5 72.8H239V75.3H236.5zM231.5 80.3H234V82.8H231.5zM229 90.3H231.5V92.8H229zM231.5 90.3H234V92.8H231.5zM236.5 90.3H239V92.8H236.5z"/>
<path fill="#f6f624" d="M209 62.8H211.5V65.3H209zM206.5 85.3H209V87.8H206.5z"/>
<path fill="#eaf624" d="M209 85.3H211.5V87.8H209zM211.5 97.8H214V100.3H211.5z"/>
<path fill="#f0120c" d="M159 92.8H161.5V95.3H159z"/>
<path fill="#18f096" d="M234 97.8H236.5V100.3H234z"/>
<path fill="#18f0ae" d="M234 100.3H236.5V102.8H234z"/>
<path fill="#18f0a8" d="M236.5 100.3H239V102.8H236.5z"/>
<path fill="#18f0a2" d="M234 102.8H236.5V105.3H234zM236.5 102.8H239V105.3H236.5z"/>
<path fill="#24f084" d="M234 105.3H236.5V107.8H234z"/>
<path fill="#18f09c" d="M236.5 105.3H239V107.8H236.5z"/>
<path fill="#2af07e" d="M234 107.8H236.5V110.3H234z"/>
<path fill="#1428eb" d="M212.2 34.4H218V37H212.2z"/>
<path fill="#d714e1" d="M212.2 37H218V39.4H212.2z"/>
<path fill="#1ee1eb" d="M212.2 39.4H218V41.8H212.2z"/>
<path fill="#1964f0" d="M212.4 61.8H217.8V64.4H212.4z"/>
<path fill="#d214e6" d="M212.4 64.4H217.8V66.8H212.4z"/>
<path fill="#1edcc8" d="M212.4 66.8H217.8V69.2H212.4z"/>
<path fill="#141ee6" d="M212.5 86.6H217.8V89H212.5z"/>
<path fill="#3c14eb" d="M212.5 89H215.2V92H212.5z"/>
<path fill="#aa14eb" d="M215.2 89H217.8V92H215.2z"/></g></g></g>
<g clip-path="url(#c3)"><g filter="url(#bl)"><g shape-rendering="crispEdges"><path fill="#fc1e0c" d="M234 27.8H238.6V33H234zM238.6 27.8H243.8V33H238.6zM243.8 27.8H249V33H243.8zM249 27.8H254.2V33H249zM238.6 33H243.8V38.2H238.6zM238.6 48.6H243.8V53.8H238.6zM238.6 53.8H243.8V59H238.6zM238.6 59H243.8V64.2H238.6zM243.8 59H249V64.2H243.8zM234 64.2H238.6V69.4H234z"/>
<path fill="#fc240c" d="M254.2 27.8H259.4V33H254.2zM254.2 33H259.4V38.2H254.2zM254.2 38.2H259.4V43.4H254.2zM234 43.4H238.6V48.6H234zM254.2 43.4H259.4V48.6H254.2zM243.8 64.2H249V69.4H243.8zM243.8 69.4H249V74.6H243.8z"/>
<path fill="#fc4812" d="M259.4 27.8H264.6V33H259.4zM259.4 48.6H264.6V53.8H259.4zM254.2 74.6H259.4V79.8H254.2zM238.6 85H243.8V90.2H238.6zM254.2 100.6H259.4V105.8H254.2z"/>
<path fill="#fcde1e" d="M264.6 27.8H269.8V33H264.6zM264.6 33H269.8V38.2H264.6zM264.6 38.2H269.8V43.4H264.6zM269.8 38.2H275V43.4H269.8zM269.8 43.4H275V48.6H269.8zM269.8 53.8H275V59H269.8zM275 64.2H280.2V69.4H275z"/>
<path fill="#fcd81e" d="M269.8 27.8H275V33H269.8zM269.8 33H275V38.2H269.8zM275 43.4H280.2V48.6H275zM269.8 48.6H275V53.8H269.8zM280.2 79.8H285.4V85H280.2zM280.2 105.8H285.4V110.3H280.2z"/>
<path fill="#f0f624" d="M275 27.8H280.2V33H275zM280.2 74.6H285.4V79.8H280.2zM285.4 90.2H290.6V95.4H285.4zM285.4 105.8H290.6V110.3H285.4z"/>
<path fill="#aef630" d="M280.2 27.8H285.4V33H280.2z"/>
<path fill="#18f0d8" d="M285.4 27.8H290.6V33H285.4zM295.8 27.8H301V33H295.8zM301 27.8H306.2V33H301zM306.2 27.8H311.4V33H306.2zM311.4 27.8H316V33H311.4zM285.4 33H290.6V38.2H285.4zM295.8 33H301V38.2H295.8zM301 33H306.2V38.2H301zM306.2 33H311.4V38.2H306.2zM311.4 33H316V38.2H311.4zM285.4 38.2H290.6V43.4H285.4zM295.8 38.2H301V43.4H295.8zM301 38.2H306.2V43.4H301zM306.2 38.2H311.4V43.4H306.2zM311.4 38.2H316V43.4H311.4z"/>
<path fill="#48f06c" d="M290.6 27.8H295.8V33H290.6z"/>
<path fill="#f6180c" d="M234 33H238.6V38.2H234zM234 38.2H238.6V43.4H234zM243.8 38.2H249V43.4H243.8zM243.8 43.4H249V48.6H243.8zM249 43.4H254.2V48.6H249zM243.8 48.6H249V53.8H243.8zM249 48.6H254.2V53.8H249zM234 53.8H238.6V59H234zM243.8 53.8H249V59H243.8zM249 53.8H254.2V59H249z"/>
<path fill="#fc180c" d="M243.8 33H249V38.2H243.8zM249 33H254.2V38.2H249zM234 48.6H238.6V53.8H234zM254.2 53.8H259.4V59H254.2zM234 59H238.6V64.2H234z"/>
<path fill="#fc3c12" d="M259.4 33H264.6V38.2H259.4zM254.2 59H259.4V64.2H254.2zM238.6 74.6H243.8V79.8H238.6zM249 74.6H254.2V79.8H249zM254.2 79.8H259.4V85H254.2zM238.6 90.2H243.8V95.4H238.6zM249 90.2H254.2V95.4H249zM238.6 95.4H243.8V100.6H238.6zM238.6 105.8H243.8V110.3H238.6zM249 105.8H254.2V110.3H249zM254.2 105.8H259.4V110.3H254.2z"/>
<path fill="#fcea1e" d="M275 33H280.2V38.2H275zM275 48.6H280.2V53.8H275zM275 53.8H280.2V59H275zM285.4 85H290.6V90.2H285.4z"/>
<path fill="#a8f630" d="M280.2 33H285.4V38.2H280.2zM280.2 48.6H285.4V53.8H280.2zM280.2 53.8H285.4V59H280.2z"/>
<path fill="#e412fc" d="M290.6 33H295.8V38.2H290.6z"/>
<path fill="#d80600" d="M238.6 38.2H243.8V43.4H238.6zM238.6 43.4H243.8V48.6H238.6z"/>
<path fill="#f0120c" d="M249 38.2H254.2V43.4H249z"/>
<path fill="#fc4212" d="M259.4 38.2H264.6V43.4H259.4zM254.2 64.2H259.4V69.4H254.2zM254.2 69.4H259.4V74.6H254.2zM249 85H254.2V90.2H249zM234 95.4H238.6V100.6H234zM243.8 100.6H249V105.8H243.8zM234 105.8H238.6V110.3H234z"/>
<path fill="#fce41e" d="M275 38.2H280.2V43.4H275z"/>
<path fill="#baf630" d="M280.2 38.2H285.4V43.4H280.2z"/>
<path fill="#1872f6" d="M290.6 38.2H295.8V43.4H290.6z"/>
<path fill="#fc5418" d="M259.4 43.4H264.6V48.6H259.4zM259.4 59H264.6V64.2H259.4zM259.4 74.6H264.6V79.8H259.4zM259.4 79.8H264.6V85H259.4zM254.2 85H259.4V90.2H254.2zM254.2 95.4H259.4V100.6H254.2zM259.4 105.8H264.6V110.3H259.4z"/>
<path fill="#fcb418" d="M264.6 43.4H269.8V48.6H264.6zM269.8 74.6H275V79.8H269.8z"/>
<path fill="#8af636" d="M280.2 43.4H285.4V48.6H280.2z"/>
<path fill="#3cf072" d="M285.4 43.4H290.6V48.6H285.4zM285.4 53.8H290.6V59H285.4z"/>
<path fill="#18f0c6" d="M290.6 43.4H295.8V48.6H290.6zM290.6 53.8H295.8V59H290.6zM311.4 59H316V64.2H311.4zM311.4 74.6H316V79.8H311.4z"/>
<path fill="#36f078" d="M295.8 43.4H301V48.6H295.8z"/>
<path fill="#30f078" d="M301 43.4H306.2V48.6H301zM285.4 59H290.6V64.2H285.4zM295.8 69.4H301V74.6H295.8z"/>
<path fill="#18f090" d="M306.2 43.4H311.4V48.6H306.2zM301 79.8H306.2V85H301zM295.8 100.6H301V105.8H295.8zM301 100.6H306.2V105.8H301zM301 105.8H306.2V110.3H301z"/>
<path fill="#18f0ba" d="M311.4 43.4H316V48.6H311.4zM290.6 48.6H295.8V53.8H290.6zM311.4 53.8H316V59H311.4zM306.2 59H311.4V64.2H306.2z"/>
<path fill="#fc2a0c" d="M254.2 48.6H259.4V53.8H254.2zM249 59H254.2V64.2H249zM238.6 64.2H243.8V69.4H238.6zM234 69.4H238.6V74.6H234zM238.6 69.4H243.8V74.6H238.6zM234 79.8H238.6V85H234zM234 100.6H238.6V105.8H234z"/>
<path fill="#fcc018" d="M264.6 48.6H269.8V53.8H264.6zM264.6 53.8H269.8V59H264.6zM275 100.6H280.2V105.8H275z"/>
<path fill="#30f07e" d="M285.4 48.6H290.6V53.8H285.4zM301 69.4H306.2V74.6H301zM295.8 74.6H301V79.8H295.8z"/>
<path fill="#24f084" d="M295.8 48.6H301V53.8H295.8zM301 53.8H306.2V59H301zM295.8 79.8H301V85H295.8z"/>
<path fill="#42f06c" d="M301 48.6H306.2V53.8H301zM295.8 59H301V64.2H295.8z"/>
<path fill="#1ef08a" d="M306.2 48.6H311.4V53.8H306.2z"/>
<path fill="#18f0ae" d="M311.4 48.6H316V53.8H311.4zM306.2 79.8H311.4V85H306.2zM306.2 90.2H311.4V95.4H306.2z"/>
<path fill="#fc5a18" d="M259.4 53.8H264.6V59H259.4zM259.4 69.4H264.6V74.6H259.4zM254.2 90.2H259.4V95.4H254.2zM259.4 90.2H264.6V95.4H259.4z"/>
<path fill="#18f0a8" d="M295.8 53.8H301V59H295.8zM306.2 69.4H311.4V74.6H306.2zM306.2 74.6H311.4V79.8H306.2zM306.2 95.4H311.4V100.6H306.2z"/>
<path fill="#18f096" d="M306.2 53.8H311.4V59H306.2zM301 74.6H306.2V79.8H301z"/>
<path fill="#fca218" d="M264.6 59H269.8V64.2H264.6zM264.6 64.2H269.8V69.4H264.6zM275 90.2H280.2V95.4H275z"/>
<path fill="#fcd218" d="M269.8 59H275V64.2H269.8zM269.8 64.2H275V69.4H269.8zM269.8 69.4H275V74.6H269.8zM280.2 85H285.4V90.2H280.2zM280.2 90.2H285.4V95.4H280.2z"/>
<path fill="#fccc18" d="M275 59H280.2V64.2H275zM275 69.4H280.2V74.6H275z"/>
<path fill="#d2f62a" d="M280.2 59H285.4V64.2H280.2z"/>
<path fill="#12c0f0" d="M290.6 59H295.8V64.2H290.6z"/>
<path fill="#7ef642" d="M301 59H306.2V64.2H301zM301 64.2H306.2V69.4H301z"/>
<path fill="#fc3012" d="M249 64.2H254.2V69.4H249zM234 74.6H238.6V79.8H234zM243.8 74.6H249V79.8H243.8zM238.6 79.8H243.8V85H238.6zM243.8 79.8H249V85H243.8zM249 79.8H254.2V85H249zM243.8 90.2H249V95.4H243.8zM243.8 95.4H249V100.6H243.8zM238.6 100.6H243.8V105.8H238.6z"/>
<path fill="#fc6018" d="M259.4 64.2H264.6V69.4H259.4z"/>
<path fill="#b4f630" d="M280.2 64.2H285.4V69.4H280.2z"/>
<path fill="#9cf636" d="M285.4 64.2H290.6V69.4H285.4zM285.4 69.4H290.6V74.6H285.4z"/>
<path fill="#d212f6" d="M290.6 64.2H295.8V69.4H290.6z"/>
<path fill="#2af07e" d="M295.8 64.2H301V69.4H295.8zM295.8 85H301V90.2H295.8zM301 85H306.2V90.2H301zM301 95.4H306.2V100.6H301z"/>
<path fill="#18f09c" d="M306.2 64.2H311.4V69.4H306.2zM295.8 95.4H301V100.6H295.8z"/>
<path fill="#12f0ea" d="M311.4 64.2H316V69.4H311.4z"/>
<path fill="#fc3612" d="M249 69.4H254.2V74.6H249zM234 85H238.6V90.2H234zM243.8 85H249V90.2H243.8zM234 90.2H238.6V95.4H234zM249 95.4H254.2V100.6H249zM243.8 105.8H249V110.3H243.8z"/>
<path fill="#fc8418" d="M264.6 69.4H269.8V74.6H264.6zM264.6 85H269.8V90.2H264.6zM264.6 90.2H269.8V95.4H264.6zM264.6 100.6H269.8V105.8H264.6z"/>
<path fill="#f6f01e" d="M280.2 69.4H285.4V74.6H280.2z"/>
<path fill="#78f648" d="M290.6 69.4H295.8V74.6H290.6z"/>
<path fill="#18f0de" d="M311.4 69.4H316V74.6H311.4zM311.4 90.2H316V95.4H311.4z"/>
<path fill="#fc9018" d="M264.6 74.6H269.8V79.8H264.6zM264.6 79.8H269.8V85H264.6z"/>
<path fill="#fcba18" d="M275 74.6H280.2V79.8H275zM275 79.8H280.2V85H275z"/>
<path fill="#c0f62a" d="M285.4 74.6H290.6V79.8H285.4z"/>
<path fill="#6cf64e" d="M290.6 74.6H295.8V79.8H290.6z"/>
<path fill="#fcae18" d="M269.8 79.8H275V85H269.8zM269.8 85H275V90.2H269.8z"/>
<path fill="#ccf62a" d="M285.4 79.8H290.6V85H285.4z"/>
<path fill="#84f63c" d="M290.6 79.8H295.8V85H290.6zM290.6 95.4H295.8V100.6H290.6z"/>
<path fill="#12f0e4" d="M311.4 79.8H316V85H311.4z"/>
<path fill="#fc6618" d="M259.4 85H264.6V90.2H259.4zM259.4 100.6H264.6V105.8H259.4z"/>
<path fill="#fc9c18" d="M275 85H280.2V90.2H275zM269.8 105.8H275V110.3H269.8z"/>
<path fill="#1e2af0" d="M290.6 85H295.8V90.2H290.6z"/>
<path fill="#18f0cc" d="M306.2 85H311.4V90.2H306.2zM311.4 85H316V90.2H311.4zM311.4 100.6H316V105.8H311.4zM306.2 105.8H311.4V110.3H306.2zM311.4 105.8H316V110.3H311.4z"/>
<path fill="#fc8a18" d="M269.8 90.2H275V95.4H269.8zM264.6 95.4H269.8V100.6H264.6z"/>
<path fill="#8418f6" d="M290.6 90.2H295.8V95.4H290.6z"/>
<path fill="#3cf078" d="M295.8 90.2H301V95.4H295.8z"/>
<path fill="#2af084" d="M301 90.2H306.2V95.4H301z"/>
<path fill="#fc6c18" d="M259.4 95.4H264.6V100.6H259.4z"/>
<path fill="#fca818" d="M269.8 95.4H275V100.6H269.8zM269.8 100.6H275V105.8H269.8z"/>
<path fill="#fcc618" d="M275 95.4H280.2V100.6H275zM280.2 95.4H285.4V100.6H280.2zM280.2 100.6H285.4V105.8H280.2zM275 105.8H280.2V110.3H275z"/>
<path fill="#eaf624" d="M285.4 95.4H290.6V100.6H285.4z"/>
<path fill="#12d2f0" d="M311.4 95.4H316V100.6H311.4z"/>
<path fill="#fc4e12" d="M249 100.6H254.2V105.8H249z"/>
<path fill="#e4f624" d="M285.4 100.6H290.6V105.8H285.4z"/>
<path fill="#90f636" d="M290.6 100.6H295.8V105.8H290.6z"/>
<path fill="#18f0d2" d="M306.2 100.6H311.4V105.8H306.2z"/>
<path fill="#fc7e18" d="M264.6 105.8H269.8V110.3H264.6z"/>
<path fill="#78f642" d="M290.6 105.8H295.8V110.3H290.6z"/>
<path fill="#18f08a" d="M295.8 105.8H301V110.3H295.8z"/></g></g></g>
<g clip-path="url(#c4)"><g filter="url(#bl)"><g shape-rendering="crispEdges"><path fill="#f41808" d="M311 27.8H319.8V36H311zM319.8 27.8H330.7V36H319.8z"/>
<path fill="#ffa010" d="M330.7 27.8H341.6V36H330.7zM330.7 102H341.6V110.3H330.7z"/>
<path fill="#38f0dc" d="M341.6 27.8H352.6V36H341.6z"/>
<path fill="#28a0f0" d="M352.6 27.8H363.5V36H352.6z"/>
<path fill="#b020f0" d="M363.5 27.8H374.7V36H363.5z"/>
<path fill="#6830f0" d="M374.7 27.8H386V36H374.7z"/>
<path fill="#3030f0" d="M386 27.8H394V36H386z"/>
<path fill="#f41008" d="M311 36H319.8V46.9H311zM319.8 36H330.7V46.9H319.8zM311 57.8H319.8V68.7H311zM319.8 57.8H330.7V68.7H319.8zM311 68.7H319.8V79.6H311z"/>
<path fill="#ff6010" d="M330.7 36H341.6V46.9H330.7zM319.8 79.6H330.7V90.8H319.8z"/>
<path fill="#a0f040" d="M341.6 36H352.6V46.9H341.6z"/>
<path fill="#18f0f0" d="M352.6 36H363.5V46.9H352.6z"/>
<path fill="#3838f0" d="M363.5 36H374.7V46.9H363.5z"/>
<path fill="#2058f0" d="M374.7 36H386V46.9H374.7z"/>
<path fill="#1818f0" d="M386 36H394V46.9H386zM386 46.9H394V57.8H386zM386 57.8H394V68.7H386zM386 68.7H394V79.6H386zM386 79.6H394V90.8H386z"/>
<path fill="#d40404" d="M311 46.9H319.8V57.8H311zM319.8 46.9H330.7V57.8H319.8z"/>
<path fill="#ff3010" d="M330.7 46.9H341.6V57.8H330.7z"/>
<path fill="#ffe418" d="M341.6 46.9H352.6V57.8H341.6z"/>
<path fill="#28f0a0" d="M352.6 46.9H363.5V57.8H352.6z"/>
<path fill="#2080f0" d="M363.5 46.9H374.7V57.8H363.5zM374.7 90.8H386V102H374.7z"/>
<path fill="#2070f0" d="M374.7 46.9H386V57.8H374.7z"/>
<path fill="#ff1c08" d="M330.7 57.8H341.6V68.7H330.7z"/>
<path fill="#ffcc18" d="M341.6 57.8H352.6V68.7H341.6z"/>
<path fill="#30f088" d="M352.6 57.8H363.5V68.7H352.6z"/>
<path fill="#9020f0" d="M363.5 57.8H374.7V68.7H363.5z"/>
<path fill="#20a0f0" d="M374.7 57.8H386V68.7H374.7zM374.7 79.6H386V90.8H374.7z"/>
<path fill="#ff2008" d="M319.8 68.7H330.7V79.6H319.8z"/>
<path fill="#ff2408" d="M330.7 68.7H341.6V79.6H330.7z"/>
<path fill="#ffb018" d="M341.6 68.7H352.6V79.6H341.6z"/>
<path fill="#70f050" d="M352.6 68.7H363.5V79.6H352.6z"/>
<path fill="#20c4f0" d="M363.5 68.7H374.7V79.6H363.5z"/>
<path fill="#20a4f0" d="M374.7 68.7H386V79.6H374.7z"/>
<path fill="#f81808" d="M311 79.6H319.8V90.8H311z"/>
<path fill="#ff6810" d="M330.7 79.6H341.6V90.8H330.7z"/>
<path fill="#ffd418" d="M341.6 79.6H352.6V90.8H341.6z"/>
<path fill="#d0f020" d="M352.6 79.6H363.5V90.8H352.6z"/>
<path fill="#1048f0" d="M363.5 79.6H374.7V90.8H363.5zM363.5 90.8H374.7V102H363.5z"/>
<path fill="#ff4010" d="M311 90.8H319.8V102H311zM311 102H319.8V110.3H311z"/>
<path fill="#ff7010" d="M319.8 90.8H330.7V102H319.8z"/>
<path fill="#ff8410" d="M330.7 90.8H341.6V102H330.7z"/>
<path fill="#fff018" d="M341.6 90.8H352.6V102H341.6z"/>
<path fill="#ecf010" d="M352.6 90.8H363.5V102H352.6z"/>
<path fill="#7020f0" d="M386 90.8H394V102H386z"/>
<path fill="#ff8010" d="M319.8 102H330.7V110.3H319.8z"/>
<path fill="#ffe818" d="M341.6 102H352.6V110.3H341.6z"/>
<path fill="#f0f010" d="M352.6 102H363.5V110.3H352.6z"/>
<path fill="#20f0f0" d="M363.5 102H374.7V110.3H363.5z"/>
<path fill="#2060f0" d="M374.7 102H386V110.3H374.7z"/>
<path fill="#a020f0" d="M386 102H394V110.3H386z"/></g></g></g>
<g clip-path="url(#c5)"><g filter="url(#bl)"><g shape-rendering="crispEdges"><path fill="#ff1008" d="M389 27.8H403.8V43H389z"/>
<path fill="#64f050" d="M403.8 27.8H429.7V43H403.8z"/>
<path fill="#ff14f0" d="M429.7 27.8H455.6V43H429.7z"/>
<path fill="#c010e0" d="M455.6 27.8H471V43H455.6z"/>
<path fill="#cc0000" d="M389 43H403.8V69H389z"/>
<path fill="#ffa408" d="M403.8 43H429.7V69H403.8zM403.8 69H429.7V94.9H403.8z"/>
<path fill="#6010f4" d="M429.7 43H455.6V69H429.7z"/>
<path fill="#d410f0" d="M455.6 43H471V69H455.6z"/>
<path fill="#ff3008" d="M389 69H403.8V94.9H389z"/>
<path fill="#1044f4" d="M429.7 69H455.6V94.9H429.7z"/>
<path fill="#c410f4" d="M455.6 69H471V94.9H455.6z"/>
<path fill="#ff7c08" d="M389 94.9H403.8V110.3H389z"/>
<path fill="#ffff10" d="M403.8 94.9H429.7V110.3H403.8z"/>
<path fill="#1090f4" d="M429.7 94.9H455.6V110.3H429.7z"/>
<path fill="#ff10f4" d="M455.6 94.9H471V110.3H455.6z"/></g></g></g>
<g clip-path="url(#c6)"><g filter="url(#bl)"><g shape-rendering="crispEdges"><path fill="#d00000" d="M466 27.8H507V69H466z"/>
<path fill="#c000d4" d="M507 27.8H548V69H507z"/>
<path fill="#ff1a00" d="M466 69H507V110.3H466z"/>
<path fill="#9a00ff" d="M507 69H548V110.3H507z"/></g></g></g>
<rect x="4.3" y="3.2" width="541.9" height="465" fill="none" stroke="#686868" stroke-width="1.5"/>
<line x1="4.3" y1="144.7" x2="546.2" y2="144.7" stroke="#686868" stroke-width="1.5"/>
<path fill="#111" d="M72.80 23.85H81.20V25.15H72.80zM79.80 20.20L89.60 24.50L79.80 28.90L81.30 24.50zM150.30 23.85H158.30V25.15H150.30zM156.90 20.20L166.70 24.50L156.90 28.90L158.40 24.50zM227.10 23.85H235.90V25.15H227.10zM234.50 20.20L244.30 24.50L234.50 28.90L236.00 24.50zM304.60 23.85H313.20V25.15H304.60zM311.80 20.20L321.60 24.50L311.80 28.90L313.30 24.50zM383.50 23.85H390.70V25.15H383.50zM389.30 20.20L399.10 24.50L389.30 28.90L390.80 24.50zM460.60 23.85H468.40V25.15H460.60zM467.00 20.20L476.80 24.50L467.00 28.90L468.50 24.50zM73.00 113.95H80.40V115.25H73.00zM79.00 110.30L88.80 114.60L79.00 119.00L80.50 114.60zM151.00 113.95H158.00V115.25H151.00zM156.60 110.30L166.40 114.60L156.60 119.00L158.10 114.60zM227.90 113.95H235.30V115.25H227.90zM233.90 110.30L243.70 114.60L233.90 119.00L235.40 114.60zM305.40 113.95H312.80V115.25H305.40zM311.40 110.30L321.20 114.60L311.40 119.00L312.90 114.60zM382.60 113.95H390.30V115.25H382.60zM388.90 110.30L398.70 114.60L388.90 119.00L390.40 114.60zM460.80 113.95H468.20V115.25H460.80zM466.80 110.30L476.60 114.60L466.80 119.00L468.30 114.60z"/>
<line x1="121.9" y1="148" x2="121.9" y2="432.3" stroke="#5a5a5a" stroke-width="1.3"/>
<line x1="121.30000000000001" y1="427.8" x2="469.6" y2="427.8" stroke="#5a5a5a" stroke-width="1.3"/>
<path d="M116.60 427.48H121.90M119.60 411.04H121.90M116.60 394.60H121.90M119.60 378.16H121.90M116.60 361.72H121.90M119.60 345.28H121.90M116.60 328.84H121.90M119.60 312.40H121.90M116.60 295.96H121.90M119.60 279.52H121.90M116.60 263.08H121.90M119.60 246.64H121.90M116.60 230.20H121.90M119.60 213.76H121.90M116.60 197.32H121.90M119.60 180.88H121.90M116.60 164.44H121.90M119.60 148.00H121.90M129.52 427.80V430.40M136.23 427.80V430.40M142.35 427.80V430.40M147.99 427.80V430.40M153.21 427.80V430.40M158.06 427.80V430.40M162.61 427.80V430.40M166.88 427.80V430.40M170.90 427.80V432.80M178.32 427.80V430.40M185.03 427.80V430.40M191.15 427.80V430.40M196.79 427.80V430.40M202.01 427.80V430.40M206.86 427.80V430.40M211.41 427.80V430.40M215.68 427.80V430.40M219.70 427.80V432.80M227.12 427.80V430.40M233.83 427.80V430.40M239.95 427.80V430.40M245.59 427.80V430.40M250.81 427.80V430.40M255.66 427.80V430.40M260.21 427.80V430.40M264.48 427.80V430.40M268.50 427.80V432.80M275.92 427.80V430.40M282.63 427.80V430.40M288.75 427.80V430.40M294.39 427.80V430.40M299.61 427.80V430.40M304.46 427.80V430.40M309.01 427.80V430.40M313.28 427.80V430.40M317.30 427.80V432.80M324.72 427.80V430.40M331.43 427.80V430.40M337.55 427.80V430.40M343.19 427.80V430.40M348.41 427.80V430.40M353.26 427.80V430.40M357.81 427.80V430.40M362.08 427.80V430.40M366.10 427.80V432.80M373.52 427.80V430.40M380.23 427.80V430.40M386.35 427.80V430.40M391.99 427.80V430.40M397.21 427.80V430.40M402.06 427.80V430.40M406.61 427.80V430.40M410.88 427.80V430.40M414.90 427.80V432.80M422.32 427.80V430.40M429.03 427.80V430.40M435.15 427.80V430.40M440.79 427.80V430.40M446.01 427.80V430.40M450.86 427.80V430.40M455.41 427.80V430.40M459.68 427.80V430.40M463.70 427.80V432.80" stroke="#4a4a4a" stroke-width="1.1" fill="none"/>
<polyline points="170.90,168.00 219.70,187.60 268.50,200.00 317.30,207.30 366.10,209.90 414.90,210.90 463.70,223.60" fill="none" stroke="#8a8a8a" stroke-width="0.9"/>
<polyline points="170.90,249.20 219.70,249.20 268.50,248.40 317.30,249.20 366.10,249.20 414.90,249.20 463.70,249.20" fill="none" stroke="#8ee6a6" stroke-width="1"/>
<polyline points="170.90,411.60 219.70,411.60 268.50,405.30 317.30,362.50 366.10,310.20 414.90,284.60 463.70,278.70" fill="none" stroke="#f0a0a0" stroke-width="0.9"/>
<rect x="167.80" y="164.90" width="6.2" height="6.2" fill="#474747"/>
<rect x="216.60" y="184.50" width="6.2" height="6.2" fill="#474747"/>
<rect x="265.40" y="196.90" width="6.2" height="6.2" fill="#474747"/>
<rect x="314.20" y="204.20" width="6.2" height="6.2" fill="#474747"/>
<rect x="363.00" y="206.80" width="6.2" height="6.2" fill="#474747"/>
<rect x="411.80" y="207.80" width="6.2" height="6.2" fill="#474747"/>
<rect x="460.60" y="220.50" width="6.2" height="6.2" fill="#474747"/>
<polygon points="170.90,244.90 175.20,252.20 166.60,252.20" fill="#1468d6"/>
<polygon points="219.70,244.90 224.00,252.20 215.40,252.20" fill="#1468d6"/>
<polygon points="268.50,244.10 272.80,251.40 264.20,251.40" fill="#1468d6"/>
<polygon points="317.30,244.90 321.60,252.20 313.00,252.20" fill="#1468d6"/>
<polygon points="366.10,244.90 370.40,252.20 361.80,252.20" fill="#1468d6"/>
<polygon points="414.90,244.90 419.20,252.20 410.60,252.20" fill="#1468d6"/>
<polygon points="463.70,244.90 468.00,252.20 459.40,252.20" fill="#1468d6"/>
<circle cx="170.90" cy="411.60" r="3.7" fill="#f0353d"/>
<circle cx="219.70" cy="411.60" r="3.7" fill="#f0353d"/>
<circle cx="268.50" cy="405.30" r="3.7" fill="#f0353d"/>
<circle cx="317.30" cy="362.50" r="3.7" fill="#f0353d"/>
<circle cx="366.10" cy="310.20" r="3.7" fill="#f0353d"/>
<circle cx="414.90" cy="284.60" r="3.7" fill="#f0353d"/>
<circle cx="463.70" cy="278.70" r="3.7" fill="#f0353d"/>
<text x="13.8" y="16.3" font-size="12" fill="#1a1a1a" stroke="#1a1a1a" textLength="56.5" lengthAdjust="spacingAndGlyphs">Distance</text>
<text x="38.6" y="28.6" font-size="12" fill="#1a1a1a" stroke="#1a1a1a" textLength="8.2" lengthAdjust="spacingAndGlyphs"><tspan font-style="italic">L</tspan></text>
<text x="110.0" y="28.6" font-size="12" fill="#1a1a1a" stroke="#1a1a1a" textLength="19.8" lengthAdjust="spacingAndGlyphs">2 <tspan font-style="italic">L</tspan></text>
<text x="188.0" y="28.6" font-size="12" fill="#1a1a1a" stroke="#1a1a1a" textLength="19.0" lengthAdjust="spacingAndGlyphs">4 <tspan font-style="italic">L</tspan></text>
<text x="265.0" y="28.6" font-size="12" fill="#1a1a1a" stroke="#1a1a1a" textLength="19.0" lengthAdjust="spacingAndGlyphs">8 <tspan font-style="italic">L</tspan></text>
<text x="339.0" y="28.6" font-size="12" fill="#1a1a1a" stroke="#1a1a1a" textLength="26.0" lengthAdjust="spacingAndGlyphs">16 <tspan font-style="italic">L</tspan></text>
<text x="415.8" y="28.6" font-size="12" fill="#1a1a1a" stroke="#1a1a1a" textLength="26.8" lengthAdjust="spacingAndGlyphs">32 <tspan font-style="italic">L</tspan></text>
<text x="493.4" y="28.6" font-size="12" fill="#1a1a1a" stroke="#1a1a1a" textLength="25.6" lengthAdjust="spacingAndGlyphs">64 <tspan font-style="italic">L</tspan></text>
<text x="525.6" y="20.7" font-size="12.5" fill="#e8282e" stroke="#e8282e" textLength="18.2" lengthAdjust="spacingAndGlyphs">(a)</text>
<text x="14.2" y="119.6" font-size="12.3" fill="#1a1a1a" stroke="#1a1a1a" textLength="56.4" lengthAdjust="spacingAndGlyphs">128×128</text>
<text x="99.6" y="119.6" font-size="12.3" fill="#1a1a1a" stroke="#1a1a1a" textLength="40.0" lengthAdjust="spacingAndGlyphs">64×64</text>
<text x="177.7" y="119.6" font-size="12.3" fill="#1a1a1a" stroke="#1a1a1a" textLength="40.0" lengthAdjust="spacingAndGlyphs">32×32</text>
<text x="254.5" y="119.6" font-size="12.3" fill="#1a1a1a" stroke="#1a1a1a" textLength="40.0" lengthAdjust="spacingAndGlyphs">16×16</text>
<text x="340.2" y="119.6" font-size="12.3" fill="#1a1a1a" stroke="#1a1a1a" textLength="24.6" lengthAdjust="spacingAndGlyphs">8×8</text>
<text x="417.6" y="119.6" font-size="12.3" fill="#1a1a1a" stroke="#1a1a1a" textLength="24.0" lengthAdjust="spacingAndGlyphs">4×4</text>
<text x="495.0" y="119.6" font-size="12.3" fill="#1a1a1a" stroke="#1a1a1a" textLength="24.6" lengthAdjust="spacingAndGlyphs">2×2</text>
<text x="13.9" y="134.6" font-size="12.3" fill="#1a1a1a" stroke="#1a1a1a" textLength="68.4" lengthAdjust="spacingAndGlyphs">Resolution</text>
<text x="525.8" y="162.3" font-size="12.5" fill="#e8282e" stroke="#e8282e" textLength="18.2" lengthAdjust="spacingAndGlyphs">(b)</text>
<text x="140.0" y="161.9" font-size="12.5" fill="#555555" stroke="#555555" textLength="62.0" lengthAdjust="spacingAndGlyphs">Maximum</text>
<text x="152.7" y="240.7" font-size="13" fill="#1a78d0" stroke="#1a78d0" textLength="36.0" lengthAdjust="spacingAndGlyphs">Mean</text>
<text x="141.7" y="405.6" font-size="14" fill="#e8484c" stroke="#e8484c" textLength="58.0" lengthAdjust="spacingAndGlyphs">Minimum</text>
<text x="115.2" y="431.38" font-size="12" fill="#1a1a1a" stroke="#1a1a1a" text-anchor="end" textLength="28.6" lengthAdjust="spacingAndGlyphs">−0.2</text>
<text x="115.2" y="398.50" font-size="12" fill="#1a1a1a" stroke="#1a1a1a" text-anchor="end" textLength="20.6" lengthAdjust="spacingAndGlyphs">0.0</text>
<text x="115.2" y="365.62" font-size="12" fill="#1a1a1a" stroke="#1a1a1a" text-anchor="end" textLength="20.6" lengthAdjust="spacingAndGlyphs">0.2</text>
<text x="115.2" y="332.74" font-size="12" fill="#1a1a1a" stroke="#1a1a1a" text-anchor="end" textLength="20.6" lengthAdjust="spacingAndGlyphs">0.4</text>
<text x="115.2" y="299.86" font-size="12" fill="#1a1a1a" stroke="#1a1a1a" text-anchor="end" textLength="20.6" lengthAdjust="spacingAndGlyphs">0.6</text>
<text x="115.2" y="266.98" font-size="12" fill="#1a1a1a" stroke="#1a1a1a" text-anchor="end" textLength="20.6" lengthAdjust="spacingAndGlyphs">0.8</text>
<text x="115.2" y="234.10" font-size="12" fill="#1a1a1a" stroke="#1a1a1a" text-anchor="end" textLength="20.6" lengthAdjust="spacingAndGlyphs">1.0</text>
<text x="115.2" y="201.22" font-size="12" fill="#1a1a1a" stroke="#1a1a1a" text-anchor="end" textLength="20.6" lengthAdjust="spacingAndGlyphs">1.2</text>
<text x="115.2" y="168.34" font-size="12" fill="#1a1a1a" stroke="#1a1a1a" text-anchor="end" textLength="20.6" lengthAdjust="spacingAndGlyphs">1.4</text>
<text x="170.90" y="449.2" font-size="12.5" fill="#1a1a1a" stroke="#1a1a1a" text-anchor="middle" textLength="7.9" lengthAdjust="spacingAndGlyphs"><tspan font-style="italic">L</tspan></text>
<text x="219.70" y="449.2" font-size="12.5" fill="#1a1a1a" stroke="#1a1a1a" text-anchor="middle" textLength="19.6" lengthAdjust="spacingAndGlyphs">2 <tspan font-style="italic">L</tspan></text>
<text x="268.50" y="449.2" font-size="12.5" fill="#1a1a1a" stroke="#1a1a1a" text-anchor="middle" textLength="19.6" lengthAdjust="spacingAndGlyphs">4 <tspan font-style="italic">L</tspan></text>
<text x="317.30" y="449.2" font-size="12.5" fill="#1a1a1a" stroke="#1a1a1a" text-anchor="middle" textLength="19.6" lengthAdjust="spacingAndGlyphs">8 <tspan font-style="italic">L</tspan></text>
<text x="366.10" y="449.2" font-size="12.5" fill="#1a1a1a" stroke="#1a1a1a" text-anchor="middle" textLength="27.5" lengthAdjust="spacingAndGlyphs">16 <tspan font-style="italic">L</tspan></text>
<text x="414.90" y="449.2" font-size="12.5" fill="#1a1a1a" stroke="#1a1a1a" text-anchor="middle" textLength="27.5" lengthAdjust="spacingAndGlyphs">32 <tspan font-style="italic">L</tspan></text>
<text x="463.70" y="449.2" font-size="12.5" fill="#1a1a1a" stroke="#1a1a1a" text-anchor="middle" textLength="27.5" lengthAdjust="spacingAndGlyphs">64 <tspan font-style="italic">L</tspan></text>
<text x="195.6" y="460.6" font-size="13.5" fill="#1a1a1a" stroke="#1a1a1a" textLength="200.6" lengthAdjust="spacingAndGlyphs">Simulation monitoring distance</text>
<text transform="translate(86.4 305.5) rotate(-90)" font-size="13.2" fill="#1a1a1a" stroke="#1a1a1a" textLength="33.4" lengthAdjust="spacingAndGlyphs">Δ<tspan font-style="italic">TIR</tspan></text>
</svg>
</body></html>
